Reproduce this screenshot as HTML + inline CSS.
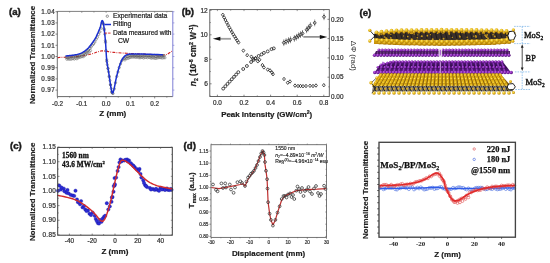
<!DOCTYPE html>
<html><head><meta charset="utf-8"><style>
html,body{margin:0;padding:0;background:#fff;}
body{width:550px;height:263px;overflow:hidden;}
svg{display:block;filter:blur(0.35px);}
</style></head><body>
<svg width="550" height="263" viewBox="0 0 550 263">
<rect width="550" height="263" fill="#fff"/>
<path d="M57.40,57.80 L57.78,57.72 L58.29,57.61 L59.01,57.50 L60.00,57.40 L61.28,57.35 L62.82,57.31 L64.57,57.27 L66.50,57.20 L68.66,57.09 L71.06,56.97 L73.55,56.81 L76.00,56.60 L78.42,56.34 L80.87,56.03 L83.26,55.68 L85.50,55.30 L87.53,54.88 L89.42,54.42 L91.24,53.92 L93.10,53.40 L95.07,52.77 L97.08,52.07 L99.00,51.43 L100.70,51.00 L102.03,50.85 L103.11,50.89 L104.16,51.03 L105.40,51.20 L106.84,51.40 L108.39,51.66 L110.09,51.95 L112.00,52.20 L113.93,52.41 L115.91,52.59 L118.36,52.78 L121.70,53.00 L126.33,53.26 L131.94,53.54 L137.85,53.83 L143.40,54.10 L148.80,54.37 L154.28,54.64 L159.19,54.87 L162.90,55.00 L164.93,55.02 L165.73,54.97 L166.01,54.83 L166.50,54.60 L167.30,54.25 L168.07,53.79 L168.80,53.28 L169.50,52.80 L170.22,52.31 L170.94,51.79 L171.56,51.32 L172.00,51.00" stroke="#d02020" stroke-width="1.1" fill="none" stroke-linejoin="round" stroke-dasharray="3,1.2,0.8,1.2"/>
<circle cx="66.10" cy="57.39" r="1.15" fill="none" stroke="#555" stroke-width="0.55"/>
<circle cx="66.80" cy="59.25" r="1.15" fill="none" stroke="#666" stroke-width="0.5"/>
<circle cx="67.35" cy="57.66" r="1.15" fill="none" stroke="#555" stroke-width="0.55"/>
<circle cx="68.05" cy="59.05" r="1.15" fill="none" stroke="#666" stroke-width="0.5"/>
<circle cx="68.60" cy="57.41" r="1.15" fill="none" stroke="#555" stroke-width="0.55"/>
<circle cx="69.30" cy="59.23" r="1.15" fill="none" stroke="#666" stroke-width="0.5"/>
<circle cx="69.85" cy="56.71" r="1.15" fill="none" stroke="#555" stroke-width="0.55"/>
<circle cx="70.55" cy="59.25" r="1.15" fill="none" stroke="#666" stroke-width="0.5"/>
<circle cx="71.10" cy="56.56" r="1.15" fill="none" stroke="#555" stroke-width="0.55"/>
<circle cx="71.80" cy="59.04" r="1.15" fill="none" stroke="#666" stroke-width="0.5"/>
<circle cx="72.35" cy="56.44" r="1.15" fill="none" stroke="#555" stroke-width="0.55"/>
<circle cx="73.05" cy="58.55" r="1.15" fill="none" stroke="#666" stroke-width="0.5"/>
<circle cx="73.60" cy="56.69" r="1.15" fill="none" stroke="#555" stroke-width="0.55"/>
<circle cx="74.30" cy="59.11" r="1.15" fill="none" stroke="#666" stroke-width="0.5"/>
<circle cx="74.85" cy="56.13" r="1.15" fill="none" stroke="#555" stroke-width="0.55"/>
<circle cx="75.55" cy="58.31" r="1.15" fill="none" stroke="#666" stroke-width="0.5"/>
<circle cx="76.10" cy="56.51" r="1.15" fill="none" stroke="#555" stroke-width="0.55"/>
<circle cx="76.80" cy="58.80" r="1.15" fill="none" stroke="#666" stroke-width="0.5"/>
<circle cx="77.35" cy="56.18" r="1.15" fill="none" stroke="#555" stroke-width="0.55"/>
<circle cx="78.05" cy="57.99" r="1.15" fill="none" stroke="#666" stroke-width="0.5"/>
<circle cx="78.60" cy="56.34" r="1.15" fill="none" stroke="#555" stroke-width="0.55"/>
<circle cx="79.30" cy="57.32" r="1.15" fill="none" stroke="#666" stroke-width="0.5"/>
<circle cx="79.85" cy="55.83" r="1.15" fill="none" stroke="#555" stroke-width="0.55"/>
<circle cx="80.55" cy="57.19" r="1.15" fill="none" stroke="#666" stroke-width="0.5"/>
<circle cx="81.10" cy="54.55" r="1.15" fill="none" stroke="#555" stroke-width="0.55"/>
<circle cx="81.80" cy="56.59" r="1.15" fill="none" stroke="#666" stroke-width="0.5"/>
<circle cx="82.35" cy="54.21" r="1.15" fill="none" stroke="#555" stroke-width="0.55"/>
<circle cx="83.05" cy="56.76" r="1.15" fill="none" stroke="#666" stroke-width="0.5"/>
<circle cx="83.60" cy="53.38" r="1.15" fill="none" stroke="#555" stroke-width="0.55"/>
<circle cx="84.30" cy="55.85" r="1.15" fill="none" stroke="#666" stroke-width="0.5"/>
<circle cx="84.85" cy="53.15" r="1.15" fill="none" stroke="#555" stroke-width="0.55"/>
<circle cx="85.55" cy="54.85" r="1.15" fill="none" stroke="#666" stroke-width="0.5"/>
<circle cx="86.10" cy="52.14" r="1.15" fill="none" stroke="#555" stroke-width="0.55"/>
<circle cx="86.80" cy="53.65" r="1.15" fill="none" stroke="#666" stroke-width="0.5"/>
<circle cx="87.35" cy="50.55" r="1.15" fill="none" stroke="#555" stroke-width="0.55"/>
<circle cx="88.05" cy="52.78" r="1.15" fill="none" stroke="#666" stroke-width="0.5"/>
<circle cx="88.60" cy="50.13" r="1.15" fill="none" stroke="#555" stroke-width="0.55"/>
<circle cx="89.30" cy="51.84" r="1.15" fill="none" stroke="#666" stroke-width="0.5"/>
<circle cx="89.85" cy="48.29" r="1.15" fill="none" stroke="#555" stroke-width="0.55"/>
<circle cx="90.55" cy="50.59" r="1.15" fill="none" stroke="#666" stroke-width="0.5"/>
<circle cx="91.10" cy="46.87" r="1.15" fill="none" stroke="#555" stroke-width="0.55"/>
<circle cx="92.35" cy="45.03" r="1.15" fill="none" stroke="#555" stroke-width="0.55"/>
<circle cx="93.60" cy="43.91" r="1.15" fill="none" stroke="#555" stroke-width="0.55"/>
<circle cx="94.85" cy="41.95" r="1.15" fill="none" stroke="#555" stroke-width="0.55"/>
<circle cx="96.10" cy="39.31" r="1.15" fill="none" stroke="#555" stroke-width="0.55"/>
<circle cx="97.35" cy="37.21" r="1.15" fill="none" stroke="#555" stroke-width="0.55"/>
<circle cx="98.60" cy="34.38" r="1.15" fill="none" stroke="#555" stroke-width="0.55"/>
<circle cx="99.85" cy="31.86" r="1.15" fill="none" stroke="#555" stroke-width="0.55"/>
<circle cx="101.10" cy="28.18" r="1.15" fill="none" stroke="#555" stroke-width="0.55"/>
<circle cx="102.35" cy="22.50" r="1.15" fill="none" stroke="#555" stroke-width="0.55"/>
<circle cx="103.00" cy="23.07" r="1.15" fill="none" stroke="#555" stroke-width="0.55"/>
<circle cx="104.25" cy="29.80" r="1.15" fill="none" stroke="#555" stroke-width="0.55"/>
<circle cx="105.50" cy="42.29" r="1.15" fill="none" stroke="#555" stroke-width="0.55"/>
<circle cx="106.75" cy="61.33" r="1.15" fill="none" stroke="#555" stroke-width="0.55"/>
<circle cx="108.00" cy="68.66" r="1.15" fill="none" stroke="#555" stroke-width="0.55"/>
<circle cx="109.25" cy="76.83" r="1.15" fill="none" stroke="#555" stroke-width="0.55"/>
<circle cx="110.50" cy="84.85" r="1.15" fill="none" stroke="#555" stroke-width="0.55"/>
<circle cx="111.75" cy="92.30" r="1.15" fill="none" stroke="#555" stroke-width="0.55"/>
<circle cx="113.00" cy="93.48" r="1.15" fill="none" stroke="#555" stroke-width="0.55"/>
<circle cx="114.25" cy="88.83" r="1.15" fill="none" stroke="#555" stroke-width="0.55"/>
<circle cx="115.50" cy="82.77" r="1.15" fill="none" stroke="#555" stroke-width="0.55"/>
<circle cx="116.75" cy="76.40" r="1.15" fill="none" stroke="#555" stroke-width="0.55"/>
<circle cx="118.00" cy="71.96" r="1.15" fill="none" stroke="#555" stroke-width="0.55"/>
<circle cx="119.25" cy="67.51" r="1.15" fill="none" stroke="#555" stroke-width="0.55"/>
<circle cx="120.50" cy="63.93" r="1.15" fill="none" stroke="#555" stroke-width="0.55"/>
<circle cx="121.75" cy="60.90" r="1.15" fill="none" stroke="#555" stroke-width="0.55"/>
<circle cx="123.00" cy="59.10" r="1.15" fill="none" stroke="#555" stroke-width="0.55"/>
<circle cx="124.25" cy="58.52" r="1.15" fill="none" stroke="#555" stroke-width="0.55"/>
<circle cx="124.95" cy="59.96" r="1.15" fill="none" stroke="#666" stroke-width="0.5"/>
<circle cx="125.50" cy="57.20" r="1.15" fill="none" stroke="#555" stroke-width="0.55"/>
<circle cx="126.20" cy="58.56" r="1.15" fill="none" stroke="#666" stroke-width="0.5"/>
<circle cx="126.75" cy="56.52" r="1.15" fill="none" stroke="#555" stroke-width="0.55"/>
<circle cx="127.45" cy="58.43" r="1.15" fill="none" stroke="#666" stroke-width="0.5"/>
<circle cx="128.00" cy="56.44" r="1.15" fill="none" stroke="#555" stroke-width="0.55"/>
<circle cx="128.70" cy="58.17" r="1.15" fill="none" stroke="#666" stroke-width="0.5"/>
<circle cx="129.25" cy="55.42" r="1.15" fill="none" stroke="#555" stroke-width="0.55"/>
<circle cx="129.95" cy="57.57" r="1.15" fill="none" stroke="#666" stroke-width="0.5"/>
<circle cx="130.50" cy="55.79" r="1.15" fill="none" stroke="#555" stroke-width="0.55"/>
<circle cx="131.20" cy="57.11" r="1.15" fill="none" stroke="#666" stroke-width="0.5"/>
<circle cx="131.75" cy="55.49" r="1.15" fill="none" stroke="#555" stroke-width="0.55"/>
<circle cx="132.45" cy="57.20" r="1.15" fill="none" stroke="#666" stroke-width="0.5"/>
<circle cx="133.00" cy="55.05" r="1.15" fill="none" stroke="#555" stroke-width="0.55"/>
<circle cx="133.70" cy="57.07" r="1.15" fill="none" stroke="#666" stroke-width="0.5"/>
<circle cx="134.25" cy="55.82" r="1.15" fill="none" stroke="#555" stroke-width="0.55"/>
<circle cx="134.95" cy="57.13" r="1.15" fill="none" stroke="#666" stroke-width="0.5"/>
<circle cx="135.50" cy="55.19" r="1.15" fill="none" stroke="#555" stroke-width="0.55"/>
<circle cx="136.20" cy="57.39" r="1.15" fill="none" stroke="#666" stroke-width="0.5"/>
<circle cx="136.75" cy="55.95" r="1.15" fill="none" stroke="#555" stroke-width="0.55"/>
<circle cx="137.45" cy="57.08" r="1.15" fill="none" stroke="#666" stroke-width="0.5"/>
<circle cx="138.00" cy="55.45" r="1.15" fill="none" stroke="#555" stroke-width="0.55"/>
<circle cx="138.70" cy="57.56" r="1.15" fill="none" stroke="#666" stroke-width="0.5"/>
<circle cx="139.25" cy="55.99" r="1.15" fill="none" stroke="#555" stroke-width="0.55"/>
<circle cx="139.95" cy="57.85" r="1.15" fill="none" stroke="#666" stroke-width="0.5"/>
<circle cx="140.50" cy="55.99" r="1.15" fill="none" stroke="#555" stroke-width="0.55"/>
<circle cx="141.20" cy="57.33" r="1.15" fill="none" stroke="#666" stroke-width="0.5"/>
<circle cx="141.75" cy="55.47" r="1.15" fill="none" stroke="#555" stroke-width="0.55"/>
<circle cx="142.45" cy="57.43" r="1.15" fill="none" stroke="#666" stroke-width="0.5"/>
<circle cx="143.00" cy="56.05" r="1.15" fill="none" stroke="#555" stroke-width="0.55"/>
<circle cx="143.70" cy="58.05" r="1.15" fill="none" stroke="#666" stroke-width="0.5"/>
<circle cx="144.25" cy="55.20" r="1.15" fill="none" stroke="#555" stroke-width="0.55"/>
<circle cx="144.95" cy="57.30" r="1.15" fill="none" stroke="#666" stroke-width="0.5"/>
<circle cx="145.50" cy="55.33" r="1.15" fill="none" stroke="#555" stroke-width="0.55"/>
<circle cx="146.20" cy="57.38" r="1.15" fill="none" stroke="#666" stroke-width="0.5"/>
<circle cx="146.75" cy="55.66" r="1.15" fill="none" stroke="#555" stroke-width="0.55"/>
<circle cx="147.45" cy="57.77" r="1.15" fill="none" stroke="#666" stroke-width="0.5"/>
<circle cx="148.00" cy="55.43" r="1.15" fill="none" stroke="#555" stroke-width="0.55"/>
<circle cx="148.70" cy="57.22" r="1.15" fill="none" stroke="#666" stroke-width="0.5"/>
<circle cx="149.25" cy="55.65" r="1.15" fill="none" stroke="#555" stroke-width="0.55"/>
<circle cx="149.95" cy="57.62" r="1.15" fill="none" stroke="#666" stroke-width="0.5"/>
<circle cx="150.50" cy="55.87" r="1.15" fill="none" stroke="#555" stroke-width="0.55"/>
<circle cx="151.20" cy="58.24" r="1.15" fill="none" stroke="#666" stroke-width="0.5"/>
<circle cx="151.75" cy="56.06" r="1.15" fill="none" stroke="#555" stroke-width="0.55"/>
<circle cx="152.45" cy="57.84" r="1.15" fill="none" stroke="#666" stroke-width="0.5"/>
<circle cx="153.00" cy="56.01" r="1.15" fill="none" stroke="#555" stroke-width="0.55"/>
<circle cx="153.70" cy="58.05" r="1.15" fill="none" stroke="#666" stroke-width="0.5"/>
<circle cx="154.25" cy="55.37" r="1.15" fill="none" stroke="#555" stroke-width="0.55"/>
<circle cx="154.95" cy="58.31" r="1.15" fill="none" stroke="#666" stroke-width="0.5"/>
<circle cx="155.50" cy="56.29" r="1.15" fill="none" stroke="#555" stroke-width="0.55"/>
<circle cx="156.20" cy="58.33" r="1.15" fill="none" stroke="#666" stroke-width="0.5"/>
<circle cx="156.75" cy="56.35" r="1.15" fill="none" stroke="#555" stroke-width="0.55"/>
<circle cx="157.45" cy="57.89" r="1.15" fill="none" stroke="#666" stroke-width="0.5"/>
<circle cx="158.00" cy="55.91" r="1.15" fill="none" stroke="#555" stroke-width="0.55"/>
<circle cx="158.70" cy="57.64" r="1.15" fill="none" stroke="#666" stroke-width="0.5"/>
<circle cx="159.25" cy="56.24" r="1.15" fill="none" stroke="#555" stroke-width="0.55"/>
<circle cx="159.95" cy="57.64" r="1.15" fill="none" stroke="#666" stroke-width="0.5"/>
<circle cx="160.50" cy="55.60" r="1.15" fill="none" stroke="#555" stroke-width="0.55"/>
<circle cx="161.20" cy="57.83" r="1.15" fill="none" stroke="#666" stroke-width="0.5"/>
<circle cx="161.75" cy="55.76" r="1.15" fill="none" stroke="#555" stroke-width="0.55"/>
<circle cx="162.45" cy="58.00" r="1.15" fill="none" stroke="#666" stroke-width="0.5"/>
<circle cx="163.00" cy="55.66" r="1.15" fill="none" stroke="#555" stroke-width="0.55"/>
<circle cx="163.70" cy="57.70" r="1.15" fill="none" stroke="#666" stroke-width="0.5"/>
<circle cx="164.25" cy="55.78" r="1.15" fill="none" stroke="#555" stroke-width="0.55"/>
<circle cx="164.95" cy="57.80" r="1.15" fill="none" stroke="#666" stroke-width="0.5"/>
<circle cx="103.50" cy="24.30" r="1.1" fill="none" stroke="#555" stroke-width="0.5"/>
<circle cx="104.14" cy="28.72" r="1.1" fill="none" stroke="#555" stroke-width="0.5"/>
<circle cx="104.77" cy="34.17" r="1.1" fill="none" stroke="#555" stroke-width="0.5"/>
<circle cx="105.41" cy="40.59" r="1.1" fill="none" stroke="#555" stroke-width="0.5"/>
<circle cx="106.04" cy="50.47" r="1.1" fill="none" stroke="#555" stroke-width="0.5"/>
<circle cx="106.68" cy="59.75" r="1.1" fill="none" stroke="#555" stroke-width="0.5"/>
<circle cx="107.31" cy="64.64" r="1.1" fill="none" stroke="#555" stroke-width="0.5"/>
<circle cx="107.95" cy="68.20" r="1.1" fill="none" stroke="#555" stroke-width="0.5"/>
<circle cx="108.59" cy="71.81" r="1.1" fill="none" stroke="#555" stroke-width="0.5"/>
<circle cx="109.22" cy="76.04" r="1.1" fill="none" stroke="#555" stroke-width="0.5"/>
<circle cx="109.86" cy="80.49" r="1.1" fill="none" stroke="#555" stroke-width="0.5"/>
<circle cx="110.49" cy="84.76" r="1.1" fill="none" stroke="#555" stroke-width="0.5"/>
<circle cx="111.13" cy="88.43" r="1.1" fill="none" stroke="#555" stroke-width="0.5"/>
<circle cx="111.76" cy="91.56" r="1.1" fill="none" stroke="#555" stroke-width="0.5"/>
<circle cx="112.40" cy="93.10" r="1.1" fill="none" stroke="#555" stroke-width="0.5"/>
<path d="M65.50,56.00 L66.24,55.93 L67.27,55.83 L68.49,55.72 L69.79,55.59 L71.06,55.45 L72.20,55.30 L73.22,55.15 L74.21,54.99 L75.18,54.82 L76.11,54.63 L77.02,54.43 L77.90,54.20 L78.74,53.96 L79.54,53.71 L80.31,53.45 L81.06,53.15 L81.82,52.81 L82.60,52.40 L83.41,51.93 L84.23,51.40 L85.06,50.82 L85.87,50.20 L86.66,49.56 L87.40,48.90 L88.09,48.22 L88.74,47.51 L89.36,46.77 L89.97,46.01 L90.58,45.22 L91.20,44.40 L91.84,43.54 L92.50,42.65 L93.16,41.72 L93.81,40.79 L94.42,39.84 L95.00,38.90 L95.53,37.97 L96.02,37.03 L96.48,36.09 L96.93,35.14 L97.36,34.18 L97.80,33.20 L98.24,32.20 L98.69,31.17 L99.12,30.14 L99.54,29.09 L99.93,28.04 L100.30,27.00 L100.63,25.84 L100.93,24.54 L101.21,23.24 L101.48,22.07 L101.74,21.18 L102.00,20.70 L102.26,20.58 L102.50,20.70 L102.74,21.09 L102.98,21.80 L103.23,22.86 L103.50,24.30 L103.80,26.23 L104.13,28.64 L104.46,31.41 L104.80,34.39 L105.11,37.46 L105.40,40.50 L105.64,43.64 L105.85,47.01 L106.04,50.48 L106.24,53.90 L106.45,57.12 L106.70,60.00 L106.99,62.47 L107.31,64.63 L107.65,66.59 L108.00,68.47 L108.35,70.41 L108.70,72.50 L109.05,74.85 L109.41,77.36 L109.77,79.92 L110.13,82.40 L110.48,84.67 L110.80,86.60 L111.09,88.25 L111.37,89.73 L111.62,91.00 L111.88,92.01 L112.13,92.73 L112.40,93.10 L112.67,93.08 L112.94,92.71 L113.21,92.04 L113.49,91.12 L113.79,90.02 L114.10,88.80 L114.43,87.38 L114.76,85.69 L115.11,83.82 L115.47,81.85 L115.87,79.85 L116.30,77.90 L116.77,75.92 L117.29,73.85 L117.83,71.74 L118.39,69.69 L118.95,67.75 L119.50,66.00 L120.05,64.43 L120.60,62.99 L121.15,61.66 L121.70,60.45 L122.25,59.36 L122.80,58.40 L123.33,57.59 L123.83,56.93 L124.34,56.39 L124.86,55.95 L125.40,55.56 L126.00,55.20 L126.55,54.88 L127.03,54.64 L127.53,54.45 L128.17,54.31 L129.06,54.20 L130.30,54.10 L131.90,54.03 L133.78,54.00 L135.90,53.99 L138.23,54.01 L140.74,54.05 L143.40,54.10 L146.51,54.17 L150.15,54.28 L153.97,54.40 L157.61,54.52 L160.70,54.63 L162.90,54.70" stroke="#1a2fd0" stroke-width="1.5" fill="none" stroke-linejoin="round" />
<line x1="57.30" y1="11.40" x2="172.80" y2="11.40" stroke="#707070" stroke-width="0.9" />
<line x1="57.30" y1="11.40" x2="57.30" y2="96.60" stroke="#606060" stroke-width="0.9" />
<line x1="57.30" y1="96.60" x2="172.80" y2="96.60" stroke="#606060" stroke-width="0.95" />
<line x1="172.80" y1="11.40" x2="172.80" y2="96.60" stroke="#7070d0" stroke-width="0.9" />
<line x1="55.50" y1="11.70" x2="57.30" y2="11.70" stroke="#555" stroke-width="0.7" />
<line x1="172.80" y1="11.70" x2="174.40" y2="11.70" stroke="#7070d0" stroke-width="0.6" />
<text x="55.00" y="13.90" style="font-family:'Liberation Sans',sans-serif;font-size:6.3px;font-weight:normal" text-anchor="end" fill="#333" stroke="#333" stroke-width="0.22" letter-spacing="0.35">1.04</text>
<line x1="55.50" y1="22.90" x2="57.30" y2="22.90" stroke="#555" stroke-width="0.7" />
<line x1="172.80" y1="22.90" x2="174.40" y2="22.90" stroke="#7070d0" stroke-width="0.6" />
<text x="55.00" y="25.10" style="font-family:'Liberation Sans',sans-serif;font-size:6.3px;font-weight:normal" text-anchor="end" fill="#333" stroke="#333" stroke-width="0.22" letter-spacing="0.35">1.03</text>
<line x1="55.50" y1="34.10" x2="57.30" y2="34.10" stroke="#555" stroke-width="0.7" />
<line x1="172.80" y1="34.10" x2="174.40" y2="34.10" stroke="#7070d0" stroke-width="0.6" />
<text x="55.00" y="36.30" style="font-family:'Liberation Sans',sans-serif;font-size:6.3px;font-weight:normal" text-anchor="end" fill="#333" stroke="#333" stroke-width="0.22" letter-spacing="0.35">1.02</text>
<line x1="55.50" y1="45.30" x2="57.30" y2="45.30" stroke="#555" stroke-width="0.7" />
<line x1="172.80" y1="45.30" x2="174.40" y2="45.30" stroke="#7070d0" stroke-width="0.6" />
<text x="55.00" y="47.50" style="font-family:'Liberation Sans',sans-serif;font-size:6.3px;font-weight:normal" text-anchor="end" fill="#333" stroke="#333" stroke-width="0.22" letter-spacing="0.35">1.01</text>
<line x1="55.50" y1="56.50" x2="57.30" y2="56.50" stroke="#555" stroke-width="0.7" />
<line x1="172.80" y1="56.50" x2="174.40" y2="56.50" stroke="#7070d0" stroke-width="0.6" />
<text x="55.00" y="58.70" style="font-family:'Liberation Sans',sans-serif;font-size:6.3px;font-weight:normal" text-anchor="end" fill="#333" stroke="#333" stroke-width="0.22" letter-spacing="0.35">1.00</text>
<line x1="55.50" y1="67.70" x2="57.30" y2="67.70" stroke="#555" stroke-width="0.7" />
<line x1="172.80" y1="67.70" x2="174.40" y2="67.70" stroke="#7070d0" stroke-width="0.6" />
<text x="55.00" y="69.90" style="font-family:'Liberation Sans',sans-serif;font-size:6.3px;font-weight:normal" text-anchor="end" fill="#333" stroke="#333" stroke-width="0.22" letter-spacing="0.35">0.99</text>
<line x1="55.50" y1="78.90" x2="57.30" y2="78.90" stroke="#555" stroke-width="0.7" />
<line x1="172.80" y1="78.90" x2="174.40" y2="78.90" stroke="#7070d0" stroke-width="0.6" />
<text x="55.00" y="81.10" style="font-family:'Liberation Sans',sans-serif;font-size:6.3px;font-weight:normal" text-anchor="end" fill="#333" stroke="#333" stroke-width="0.22" letter-spacing="0.35">0.98</text>
<line x1="55.50" y1="90.10" x2="57.30" y2="90.10" stroke="#555" stroke-width="0.7" />
<line x1="172.80" y1="90.10" x2="174.40" y2="90.10" stroke="#7070d0" stroke-width="0.6" />
<text x="55.00" y="92.30" style="font-family:'Liberation Sans',sans-serif;font-size:6.3px;font-weight:normal" text-anchor="end" fill="#333" stroke="#333" stroke-width="0.22" letter-spacing="0.35">0.97</text>
<line x1="57.50" y1="96.60" x2="57.50" y2="98.40" stroke="#555" stroke-width="0.7" />
<line x1="57.50" y1="11.40" x2="57.50" y2="12.90" stroke="#666" stroke-width="0.6" />
<text x="57.50" y="105.60" style="font-family:'Liberation Sans',sans-serif;font-size:6.3px;font-weight:normal" text-anchor="middle" fill="#333" stroke="#333" stroke-width="0.22" >-0.2</text>
<line x1="81.80" y1="96.60" x2="81.80" y2="98.40" stroke="#555" stroke-width="0.7" />
<line x1="81.80" y1="11.40" x2="81.80" y2="12.90" stroke="#666" stroke-width="0.6" />
<text x="81.80" y="105.60" style="font-family:'Liberation Sans',sans-serif;font-size:6.3px;font-weight:normal" text-anchor="middle" fill="#333" stroke="#333" stroke-width="0.22" >-0.1</text>
<line x1="106.10" y1="96.60" x2="106.10" y2="98.40" stroke="#555" stroke-width="0.7" />
<line x1="106.10" y1="11.40" x2="106.10" y2="12.90" stroke="#666" stroke-width="0.6" />
<text x="106.10" y="105.60" style="font-family:'Liberation Sans',sans-serif;font-size:6.3px;font-weight:normal" text-anchor="middle" fill="#333" stroke="#333" stroke-width="0.22" >0.0</text>
<line x1="130.40" y1="96.60" x2="130.40" y2="98.40" stroke="#555" stroke-width="0.7" />
<line x1="130.40" y1="11.40" x2="130.40" y2="12.90" stroke="#666" stroke-width="0.6" />
<text x="130.40" y="105.60" style="font-family:'Liberation Sans',sans-serif;font-size:6.3px;font-weight:normal" text-anchor="middle" fill="#333" stroke="#333" stroke-width="0.22" >0.1</text>
<line x1="154.70" y1="96.60" x2="154.70" y2="98.40" stroke="#555" stroke-width="0.7" />
<line x1="154.70" y1="11.40" x2="154.70" y2="12.90" stroke="#666" stroke-width="0.6" />
<text x="154.70" y="105.60" style="font-family:'Liberation Sans',sans-serif;font-size:6.3px;font-weight:normal" text-anchor="middle" fill="#333" stroke="#333" stroke-width="0.22" >0.2</text>
<line x1="69.65" y1="96.60" x2="69.65" y2="97.70" stroke="#555" stroke-width="0.6" />
<line x1="69.65" y1="11.40" x2="69.65" y2="12.60" stroke="#666" stroke-width="0.6" />
<line x1="93.95" y1="96.60" x2="93.95" y2="97.70" stroke="#555" stroke-width="0.6" />
<line x1="93.95" y1="11.40" x2="93.95" y2="12.60" stroke="#666" stroke-width="0.6" />
<line x1="118.25" y1="96.60" x2="118.25" y2="97.70" stroke="#555" stroke-width="0.6" />
<line x1="118.25" y1="11.40" x2="118.25" y2="12.60" stroke="#666" stroke-width="0.6" />
<line x1="142.55" y1="96.60" x2="142.55" y2="97.70" stroke="#555" stroke-width="0.6" />
<line x1="142.55" y1="11.40" x2="142.55" y2="12.60" stroke="#666" stroke-width="0.6" />
<line x1="166.85" y1="96.60" x2="166.85" y2="97.70" stroke="#555" stroke-width="0.6" />
<line x1="166.85" y1="11.40" x2="166.85" y2="12.60" stroke="#666" stroke-width="0.6" />
<text x="112.80" y="115.80" style="font-family:'Liberation Sans',sans-serif;font-size:8.1px;font-weight:bold" text-anchor="middle" fill="#1a1a1a" stroke="#1a1a1a" stroke-width="0.2" >Z (mm)</text>
<text x="0" y="0" transform="translate(35.20,55.00) rotate(-90)" style="font-family:'Liberation Sans',sans-serif;font-size:7.9px;font-weight:bold" text-anchor="middle" fill="#222" stroke="#222" stroke-width="0.15">Normalized Transmittance</text>
<text x="9.00" y="14.90" style="font-family:'Liberation Sans',sans-serif;font-size:9.6px;font-weight:bold" text-anchor="start" fill="#1a1a1a" stroke="#1a1a1a" stroke-width="0.45" >(a)</text>
<circle cx="107.30" cy="16.20" r="1.2" fill="none" stroke="#555" stroke-width="0.6"/>
<text x="112.90" y="17.60" style="font-family:'Liberation Sans',sans-serif;font-size:6.75px;font-weight:normal" text-anchor="start" fill="#1a1a1a" stroke="#1a1a1a" stroke-width="0.2" >Experimental data</text>
<line x1="104.50" y1="24.50" x2="111.00" y2="24.50" stroke="#1a2fd0" stroke-width="1.5" />
<text x="112.90" y="26.20" style="font-family:'Liberation Sans',sans-serif;font-size:6.75px;font-weight:normal" text-anchor="start" fill="#1a1a1a" stroke="#1a1a1a" stroke-width="0.2" >Fitting</text>
<line x1="104.60" y1="33.10" x2="110.60" y2="33.10" stroke="#d02020" stroke-width="0.9" stroke-dasharray="2.5,1"/>
<text x="112.90" y="34.70" style="font-family:'Liberation Sans',sans-serif;font-size:6.6px;font-weight:normal" text-anchor="start" fill="#1a1a1a" stroke="#1a1a1a" stroke-width="0.2" >Data measured with</text>
<text x="118.00" y="42.60" style="font-family:'Liberation Sans',sans-serif;font-size:6.75px;font-weight:normal" text-anchor="start" fill="#1a1a1a" stroke="#1a1a1a" stroke-width="0.2" >CW</text>
<path d="M222.80,13.05 L224.20,14.80 L222.80,16.55 L221.40,14.80 Z" fill="none" stroke="#222" stroke-width="0.8"/>
<path d="M224.11,15.67 L225.51,17.42 L224.11,19.17 L222.71,17.42 Z" fill="none" stroke="#222" stroke-width="0.8"/>
<path d="M225.42,18.27 L226.82,20.02 L225.42,21.77 L224.02,20.02 Z" fill="none" stroke="#222" stroke-width="0.8"/>
<path d="M226.73,20.82 L228.13,22.57 L226.73,24.32 L225.33,22.57 Z" fill="none" stroke="#222" stroke-width="0.8"/>
<path d="M228.03,23.32 L229.43,25.07 L228.03,26.82 L226.63,25.07 Z" fill="none" stroke="#222" stroke-width="0.8"/>
<path d="M229.34,25.75 L230.74,27.50 L229.34,29.25 L227.94,27.50 Z" fill="none" stroke="#222" stroke-width="0.8"/>
<path d="M230.65,28.10 L232.05,29.85 L230.65,31.60 L229.25,29.85 Z" fill="none" stroke="#222" stroke-width="0.8"/>
<path d="M231.96,30.37 L233.36,32.12 L231.96,33.87 L230.56,32.12 Z" fill="none" stroke="#222" stroke-width="0.8"/>
<path d="M233.27,32.56 L234.67,34.31 L233.27,36.06 L231.87,34.31 Z" fill="none" stroke="#222" stroke-width="0.8"/>
<path d="M234.57,34.67 L235.97,36.42 L234.57,38.17 L233.17,36.42 Z" fill="none" stroke="#222" stroke-width="0.8"/>
<path d="M235.88,36.73 L237.28,38.48 L235.88,40.23 L234.48,38.48 Z" fill="none" stroke="#222" stroke-width="0.8"/>
<path d="M237.19,38.75 L238.59,40.50 L237.19,42.25 L235.79,40.50 Z" fill="none" stroke="#222" stroke-width="0.8"/>
<path d="M238.50,40.75 L239.90,42.50 L238.50,44.25 L237.10,42.50 Z" fill="none" stroke="#222" stroke-width="0.8"/>
<path d="M243.40,48.85 L244.80,50.60 L243.40,52.35 L242.00,50.60 Z" fill="none" stroke="#222" stroke-width="0.8"/>
<path d="M247.20,53.45 L248.60,55.20 L247.20,56.95 L245.80,55.20 Z" fill="none" stroke="#222" stroke-width="0.8"/>
<path d="M251.40,54.95 L252.80,56.70 L251.40,58.45 L250.00,56.70 Z" fill="none" stroke="#222" stroke-width="0.8"/>
<path d="M253.00,57.05 L254.40,58.80 L253.00,60.55 L251.60,58.80 Z" fill="none" stroke="#222" stroke-width="0.8"/>
<path d="M255.50,56.45 L256.90,58.20 L255.50,59.95 L254.10,58.20 Z" fill="none" stroke="#222" stroke-width="0.8"/>
<path d="M257.80,59.55 L259.20,61.30 L257.80,63.05 L256.40,61.30 Z" fill="none" stroke="#222" stroke-width="0.8"/>
<path d="M259.50,58.05 L260.90,59.80 L259.50,61.55 L258.10,59.80 Z" fill="none" stroke="#222" stroke-width="0.8"/>
<path d="M262.40,63.35 L263.80,65.10 L262.40,66.85 L261.00,65.10 Z" fill="none" stroke="#222" stroke-width="0.8"/>
<path d="M263.90,65.65 L265.30,67.40 L263.90,69.15 L262.50,67.40 Z" fill="none" stroke="#222" stroke-width="0.8"/>
<path d="M267.70,67.85 L269.10,69.60 L267.70,71.35 L266.30,69.60 Z" fill="none" stroke="#222" stroke-width="0.8"/>
<path d="M270.00,68.65 L271.40,70.40 L270.00,72.15 L268.60,70.40 Z" fill="none" stroke="#222" stroke-width="0.8"/>
<path d="M272.00,70.75 L273.40,72.50 L272.00,74.25 L270.60,72.50 Z" fill="none" stroke="#222" stroke-width="0.8"/>
<path d="M273.00,72.45 L274.40,74.20 L273.00,75.95 L271.60,74.20 Z" fill="none" stroke="#222" stroke-width="0.8"/>
<path d="M284.00,77.25 L285.40,79.00 L284.00,80.75 L282.60,79.00 Z" fill="none" stroke="#222" stroke-width="0.8"/>
<path d="M287.70,80.95 L289.10,82.70 L287.70,84.45 L286.30,82.70 Z" fill="none" stroke="#222" stroke-width="0.8"/>
<path d="M290.00,79.75 L291.40,81.50 L290.00,83.25 L288.60,81.50 Z" fill="none" stroke="#222" stroke-width="0.8"/>
<path d="M295.00,83.85 L296.40,85.60 L295.00,87.35 L293.60,85.60 Z" fill="none" stroke="#222" stroke-width="0.8"/>
<path d="M298.00,84.25 L299.40,86.00 L298.00,87.75 L296.60,86.00 Z" fill="none" stroke="#222" stroke-width="0.8"/>
<path d="M300.50,84.25 L301.90,86.00 L300.50,87.75 L299.10,86.00 Z" fill="none" stroke="#222" stroke-width="0.8"/>
<path d="M303.00,84.45 L304.40,86.20 L303.00,87.95 L301.60,86.20 Z" fill="none" stroke="#222" stroke-width="0.8"/>
<path d="M306.00,84.25 L307.40,86.00 L306.00,87.75 L304.60,86.00 Z" fill="none" stroke="#222" stroke-width="0.8"/>
<path d="M310.00,84.05 L311.40,85.80 L310.00,87.55 L308.60,85.80 Z" fill="none" stroke="#222" stroke-width="0.8"/>
<path d="M313.00,84.25 L314.40,86.00 L313.00,87.75 L311.60,86.00 Z" fill="none" stroke="#222" stroke-width="0.8"/>
<path d="M316.00,83.75 L317.40,85.50 L316.00,87.25 L314.60,85.50 Z" fill="none" stroke="#222" stroke-width="0.8"/>
<path d="M323.80,83.45 L325.20,85.20 L323.80,86.95 L322.40,85.20 Z" fill="none" stroke="#222" stroke-width="0.8"/>
<circle cx="223.20" cy="88.60" r="1.45" fill="none" stroke="#222" stroke-width="0.8"/>
<circle cx="225.36" cy="86.26" r="1.45" fill="none" stroke="#222" stroke-width="0.8"/>
<circle cx="227.51" cy="83.91" r="1.45" fill="none" stroke="#222" stroke-width="0.8"/>
<circle cx="229.67" cy="81.57" r="1.45" fill="none" stroke="#222" stroke-width="0.8"/>
<circle cx="231.83" cy="79.23" r="1.45" fill="none" stroke="#222" stroke-width="0.8"/>
<circle cx="233.99" cy="76.89" r="1.45" fill="none" stroke="#222" stroke-width="0.8"/>
<circle cx="236.14" cy="74.54" r="1.45" fill="none" stroke="#222" stroke-width="0.8"/>
<circle cx="238.30" cy="72.20" r="1.45" fill="none" stroke="#222" stroke-width="0.8"/>
<circle cx="243.20" cy="69.00" r="1.45" fill="none" stroke="#222" stroke-width="0.8"/>
<circle cx="246.90" cy="66.00" r="1.45" fill="none" stroke="#222" stroke-width="0.8"/>
<circle cx="251.10" cy="62.00" r="1.45" fill="none" stroke="#222" stroke-width="0.8"/>
<circle cx="253.50" cy="60.00" r="1.45" fill="none" stroke="#222" stroke-width="0.8"/>
<circle cx="255.60" cy="58.50" r="1.45" fill="none" stroke="#222" stroke-width="0.8"/>
<circle cx="258.60" cy="56.00" r="1.45" fill="none" stroke="#222" stroke-width="0.8"/>
<circle cx="261.60" cy="54.40" r="1.45" fill="none" stroke="#222" stroke-width="0.8"/>
<circle cx="263.90" cy="52.90" r="1.45" fill="none" stroke="#222" stroke-width="0.8"/>
<circle cx="267.70" cy="51.40" r="1.45" fill="none" stroke="#222" stroke-width="0.8"/>
<circle cx="271.50" cy="49.10" r="1.45" fill="none" stroke="#222" stroke-width="0.8"/>
<circle cx="273.80" cy="48.40" r="1.45" fill="none" stroke="#222" stroke-width="0.8"/>
<path d="M283.80,40.85 L285.28,42.70 L283.80,44.55 L282.32,42.70 Z" fill="none" stroke="#222" stroke-width="0.8"/>
<path d="M286.10,39.75 L287.58,41.60 L286.10,43.45 L284.62,41.60 Z" fill="none" stroke="#222" stroke-width="0.8"/>
<path d="M288.50,38.75 L289.98,40.60 L288.50,42.45 L287.02,40.60 Z" fill="none" stroke="#222" stroke-width="0.8"/>
<path d="M290.50,37.95 L291.98,39.80 L290.50,41.65 L289.02,39.80 Z" fill="none" stroke="#222" stroke-width="0.8"/>
<path d="M294.40,36.55 L295.88,38.40 L294.40,40.25 L292.92,38.40 Z" fill="none" stroke="#222" stroke-width="0.8"/>
<path d="M296.50,35.35 L297.98,37.20 L296.50,39.05 L295.02,37.20 Z" fill="none" stroke="#222" stroke-width="0.8"/>
<path d="M298.50,33.95 L299.98,35.80 L298.50,37.65 L297.02,35.80 Z" fill="none" stroke="#222" stroke-width="0.8"/>
<path d="M300.50,32.75 L301.98,34.60 L300.50,36.45 L299.02,34.60 Z" fill="none" stroke="#222" stroke-width="0.8"/>
<path d="M302.50,31.55 L303.98,33.40 L302.50,35.25 L301.02,33.40 Z" fill="none" stroke="#222" stroke-width="0.8"/>
<path d="M306.60,27.95 L308.08,29.80 L306.60,31.65 L305.12,29.80 Z" fill="none" stroke="#222" stroke-width="0.8"/>
<path d="M308.40,26.15 L309.88,28.00 L308.40,29.85 L306.92,28.00 Z" fill="none" stroke="#222" stroke-width="0.8"/>
<path d="M310.40,23.75 L311.88,25.60 L310.40,27.45 L308.92,25.60 Z" fill="none" stroke="#222" stroke-width="0.8"/>
<path d="M314.70,21.05 L316.18,22.90 L314.70,24.75 L313.22,22.90 Z" fill="none" stroke="#222" stroke-width="0.8"/>
<path d="M324.00,14.95 L325.48,16.80 L324.00,18.65 L322.52,16.80 Z" fill="none" stroke="#222" stroke-width="0.8"/>
<line x1="283.80" y1="39.30" x2="283.80" y2="46.10" stroke="#444" stroke-width="0.55" />
<line x1="286.10" y1="38.20" x2="286.10" y2="45.00" stroke="#444" stroke-width="0.55" />
<line x1="288.50" y1="37.20" x2="288.50" y2="44.00" stroke="#444" stroke-width="0.55" />
<line x1="290.50" y1="36.40" x2="290.50" y2="43.20" stroke="#444" stroke-width="0.55" />
<line x1="294.40" y1="35.00" x2="294.40" y2="41.80" stroke="#444" stroke-width="0.55" />
<line x1="296.50" y1="33.80" x2="296.50" y2="40.60" stroke="#444" stroke-width="0.55" />
<line x1="298.50" y1="32.40" x2="298.50" y2="39.20" stroke="#444" stroke-width="0.55" />
<line x1="300.50" y1="31.20" x2="300.50" y2="38.00" stroke="#444" stroke-width="0.55" />
<line x1="302.50" y1="30.00" x2="302.50" y2="36.80" stroke="#444" stroke-width="0.55" />
<line x1="306.60" y1="26.40" x2="306.60" y2="33.20" stroke="#444" stroke-width="0.55" />
<line x1="308.40" y1="24.60" x2="308.40" y2="31.40" stroke="#444" stroke-width="0.55" />
<line x1="310.40" y1="22.20" x2="310.40" y2="29.00" stroke="#444" stroke-width="0.55" />
<line x1="314.70" y1="19.50" x2="314.70" y2="26.30" stroke="#444" stroke-width="0.55" />
<line x1="324.00" y1="13.40" x2="324.00" y2="20.20" stroke="#444" stroke-width="0.55" />
<line x1="219.50" y1="38.80" x2="231.00" y2="38.80" stroke="#a0a0a0" stroke-width="1.8" />
<path d="M212.8,38.8 L220.4,36.8 L220.4,40.8 Z" fill="#111"/>
<line x1="303.30" y1="36.90" x2="320.50" y2="36.90" stroke="#777" stroke-width="1.4" />
<path d="M327.3,36.9 L319.8,34.9 L319.8,38.9 Z" fill="#111"/>
<rect x="209.80" y="9.60" width="119.50" height="86.90" fill="none" stroke="#555" stroke-width="0.9"/>
<line x1="209.80" y1="10.30" x2="211.60" y2="10.30" stroke="#555" stroke-width="0.7" />
<text x="207.80" y="12.60" style="font-family:'Liberation Sans',sans-serif;font-size:6.6px;font-weight:normal" text-anchor="end" fill="#333" stroke="#333" stroke-width="0.22" >12</text>
<line x1="209.80" y1="34.80" x2="211.60" y2="34.80" stroke="#555" stroke-width="0.7" />
<text x="207.80" y="37.10" style="font-family:'Liberation Sans',sans-serif;font-size:6.6px;font-weight:normal" text-anchor="end" fill="#333" stroke="#333" stroke-width="0.22" >10</text>
<line x1="209.80" y1="59.30" x2="211.60" y2="59.30" stroke="#555" stroke-width="0.7" />
<text x="207.80" y="61.60" style="font-family:'Liberation Sans',sans-serif;font-size:6.6px;font-weight:normal" text-anchor="end" fill="#333" stroke="#333" stroke-width="0.22" >8</text>
<line x1="209.80" y1="83.80" x2="211.60" y2="83.80" stroke="#555" stroke-width="0.7" />
<text x="207.80" y="86.10" style="font-family:'Liberation Sans',sans-serif;font-size:6.6px;font-weight:normal" text-anchor="end" fill="#333" stroke="#333" stroke-width="0.22" >6</text>
<line x1="209.80" y1="22.55" x2="210.90" y2="22.55" stroke="#555" stroke-width="0.6" />
<line x1="209.80" y1="47.05" x2="210.90" y2="47.05" stroke="#555" stroke-width="0.6" />
<line x1="209.80" y1="71.55" x2="210.90" y2="71.55" stroke="#555" stroke-width="0.6" />
<line x1="209.80" y1="96.05" x2="210.90" y2="96.05" stroke="#555" stroke-width="0.6" />
<line x1="327.50" y1="96.50" x2="329.30" y2="96.50" stroke="#555" stroke-width="0.7" />
<text x="331.00" y="98.70" style="font-family:'Liberation Sans',sans-serif;font-size:6.4px;font-weight:normal" text-anchor="start" fill="#333" stroke="#333" stroke-width="0.22" >0.00</text>
<line x1="327.50" y1="77.20" x2="329.30" y2="77.20" stroke="#555" stroke-width="0.7" />
<text x="331.00" y="79.40" style="font-family:'Liberation Sans',sans-serif;font-size:6.4px;font-weight:normal" text-anchor="start" fill="#333" stroke="#333" stroke-width="0.22" >0.05</text>
<line x1="327.50" y1="57.90" x2="329.30" y2="57.90" stroke="#555" stroke-width="0.7" />
<text x="331.00" y="60.10" style="font-family:'Liberation Sans',sans-serif;font-size:6.4px;font-weight:normal" text-anchor="start" fill="#333" stroke="#333" stroke-width="0.22" >0.10</text>
<line x1="327.50" y1="38.60" x2="329.30" y2="38.60" stroke="#555" stroke-width="0.7" />
<text x="331.00" y="40.80" style="font-family:'Liberation Sans',sans-serif;font-size:6.4px;font-weight:normal" text-anchor="start" fill="#333" stroke="#333" stroke-width="0.22" >0.15</text>
<line x1="327.50" y1="19.30" x2="329.30" y2="19.30" stroke="#555" stroke-width="0.7" />
<text x="331.00" y="21.50" style="font-family:'Liberation Sans',sans-serif;font-size:6.4px;font-weight:normal" text-anchor="start" fill="#333" stroke="#333" stroke-width="0.22" >0.20</text>
<line x1="328.20" y1="86.85" x2="329.30" y2="86.85" stroke="#555" stroke-width="0.6" />
<line x1="328.20" y1="67.55" x2="329.30" y2="67.55" stroke="#555" stroke-width="0.6" />
<line x1="328.20" y1="48.25" x2="329.30" y2="48.25" stroke="#555" stroke-width="0.6" />
<line x1="328.20" y1="28.95" x2="329.30" y2="28.95" stroke="#555" stroke-width="0.6" />
<line x1="217.40" y1="94.70" x2="217.40" y2="96.50" stroke="#555" stroke-width="0.7" />
<line x1="217.40" y1="9.60" x2="217.40" y2="11.10" stroke="#555" stroke-width="0.6" />
<text x="217.40" y="105.40" style="font-family:'Liberation Sans',sans-serif;font-size:6.4px;font-weight:normal" text-anchor="middle" fill="#333" stroke="#333" stroke-width="0.22" >0.0</text>
<line x1="244.00" y1="94.70" x2="244.00" y2="96.50" stroke="#555" stroke-width="0.7" />
<line x1="244.00" y1="9.60" x2="244.00" y2="11.10" stroke="#555" stroke-width="0.6" />
<text x="244.00" y="105.40" style="font-family:'Liberation Sans',sans-serif;font-size:6.4px;font-weight:normal" text-anchor="middle" fill="#333" stroke="#333" stroke-width="0.22" >0.2</text>
<line x1="270.60" y1="94.70" x2="270.60" y2="96.50" stroke="#555" stroke-width="0.7" />
<line x1="270.60" y1="9.60" x2="270.60" y2="11.10" stroke="#555" stroke-width="0.6" />
<text x="270.60" y="105.40" style="font-family:'Liberation Sans',sans-serif;font-size:6.4px;font-weight:normal" text-anchor="middle" fill="#333" stroke="#333" stroke-width="0.22" >0.4</text>
<line x1="297.20" y1="94.70" x2="297.20" y2="96.50" stroke="#555" stroke-width="0.7" />
<line x1="297.20" y1="9.60" x2="297.20" y2="11.10" stroke="#555" stroke-width="0.6" />
<text x="297.20" y="105.40" style="font-family:'Liberation Sans',sans-serif;font-size:6.4px;font-weight:normal" text-anchor="middle" fill="#333" stroke="#333" stroke-width="0.22" >0.6</text>
<line x1="323.80" y1="94.70" x2="323.80" y2="96.50" stroke="#555" stroke-width="0.7" />
<line x1="323.80" y1="9.60" x2="323.80" y2="11.10" stroke="#555" stroke-width="0.6" />
<text x="323.80" y="105.40" style="font-family:'Liberation Sans',sans-serif;font-size:6.4px;font-weight:normal" text-anchor="middle" fill="#333" stroke="#333" stroke-width="0.22" >0.8</text>
<line x1="230.70" y1="95.40" x2="230.70" y2="96.50" stroke="#555" stroke-width="0.6" />
<line x1="230.70" y1="9.60" x2="230.70" y2="10.70" stroke="#555" stroke-width="0.6" />
<line x1="257.30" y1="95.40" x2="257.30" y2="96.50" stroke="#555" stroke-width="0.6" />
<line x1="257.30" y1="9.60" x2="257.30" y2="10.70" stroke="#555" stroke-width="0.6" />
<line x1="283.90" y1="95.40" x2="283.90" y2="96.50" stroke="#555" stroke-width="0.6" />
<line x1="283.90" y1="9.60" x2="283.90" y2="10.70" stroke="#555" stroke-width="0.6" />
<line x1="310.50" y1="95.40" x2="310.50" y2="96.50" stroke="#555" stroke-width="0.6" />
<line x1="310.50" y1="9.60" x2="310.50" y2="10.70" stroke="#555" stroke-width="0.6" />
<text x="266.70" y="116.90" style="font-family:'Liberation Sans',sans-serif;font-size:7.95px;font-weight:bold" text-anchor="middle" fill="#1a1a1a" stroke="#1a1a1a" stroke-width="0.2" >Peak Intensity (GW/cm<tspan dy="-2.6" font-size="5.2">2</tspan><tspan dy="2.6">)</tspan></text>
<text transform="translate(196.0,55.3) rotate(-90)" style="font-family:'Liberation Sans',sans-serif;font-size:8.3px;font-weight:bold" text-anchor="middle" fill="#1a1a1a" stroke="#1a1a1a" stroke-width="0.22"><tspan font-style="italic">n</tspan><tspan dy="1.6" font-size="5.2">2</tspan><tspan dy="-1.6"> (10</tspan><tspan dy="-2.8" font-size="5.2">-8</tspan><tspan dy="2.8"> cm</tspan><tspan dy="-2.8" font-size="5.4">2</tspan><tspan dy="2.8"> W</tspan><tspan dy="-2.8" font-size="5.2">-1</tspan><tspan dy="2.8">)</tspan></text>
<text transform="translate(351.1,55.8) rotate(90)" style="font-family:'Liberation Sans',sans-serif;font-size:7.8px" text-anchor="middle" fill="#333">ΔΦ (rad)</text>
<text x="181.80" y="15.00" style="font-family:'Liberation Sans',sans-serif;font-size:9.6px;font-weight:bold" text-anchor="start" fill="#1a1a1a" stroke="#1a1a1a" stroke-width="0.45" >(b)</text>
<circle cx="59.20" cy="185.50" r="1.7" fill="#2b2bd8" stroke="#1a1a9a" stroke-width="0.35"/>
<circle cx="58.10" cy="190.70" r="1.7" fill="#2b2bd8" stroke="#1a1a9a" stroke-width="0.35"/>
<circle cx="60.90" cy="189.60" r="1.7" fill="#2b2bd8" stroke="#1a1a9a" stroke-width="0.35"/>
<circle cx="63.80" cy="188.60" r="1.7" fill="#2b2bd8" stroke="#1a1a9a" stroke-width="0.35"/>
<circle cx="64.40" cy="191.30" r="1.7" fill="#2b2bd8" stroke="#1a1a9a" stroke-width="0.35"/>
<circle cx="66.50" cy="192.80" r="1.7" fill="#2b2bd8" stroke="#1a1a9a" stroke-width="0.35"/>
<circle cx="68.60" cy="193.40" r="1.7" fill="#2b2bd8" stroke="#1a1a9a" stroke-width="0.35"/>
<circle cx="70.70" cy="194.90" r="1.7" fill="#2b2bd8" stroke="#1a1a9a" stroke-width="0.35"/>
<circle cx="72.80" cy="195.50" r="1.7" fill="#2b2bd8" stroke="#1a1a9a" stroke-width="0.35"/>
<circle cx="75.50" cy="190.70" r="1.7" fill="#2b2bd8" stroke="#1a1a9a" stroke-width="0.35"/>
<circle cx="74.20" cy="195.90" r="1.7" fill="#2b2bd8" stroke="#1a1a9a" stroke-width="0.35"/>
<circle cx="78.00" cy="202.20" r="1.7" fill="#2b2bd8" stroke="#1a1a9a" stroke-width="0.35"/>
<circle cx="81.10" cy="201.10" r="1.7" fill="#2b2bd8" stroke="#1a1a9a" stroke-width="0.35"/>
<circle cx="80.10" cy="204.30" r="1.7" fill="#2b2bd8" stroke="#1a1a9a" stroke-width="0.35"/>
<circle cx="82.60" cy="207.40" r="1.7" fill="#2b2bd8" stroke="#1a1a9a" stroke-width="0.35"/>
<circle cx="85.30" cy="209.50" r="1.7" fill="#2b2bd8" stroke="#1a1a9a" stroke-width="0.35"/>
<circle cx="88.00" cy="210.50" r="1.7" fill="#2b2bd8" stroke="#1a1a9a" stroke-width="0.35"/>
<circle cx="89.50" cy="213.70" r="1.7" fill="#2b2bd8" stroke="#1a1a9a" stroke-width="0.35"/>
<circle cx="92.60" cy="212.60" r="1.7" fill="#2b2bd8" stroke="#1a1a9a" stroke-width="0.35"/>
<circle cx="94.70" cy="215.80" r="1.7" fill="#2b2bd8" stroke="#1a1a9a" stroke-width="0.35"/>
<circle cx="95.80" cy="218.90" r="1.7" fill="#2b2bd8" stroke="#1a1a9a" stroke-width="0.35"/>
<circle cx="97.90" cy="223.10" r="1.7" fill="#2b2bd8" stroke="#1a1a9a" stroke-width="0.35"/>
<circle cx="100.00" cy="220.00" r="1.7" fill="#2b2bd8" stroke="#1a1a9a" stroke-width="0.35"/>
<circle cx="102.70" cy="218.50" r="1.7" fill="#2b2bd8" stroke="#1a1a9a" stroke-width="0.35"/>
<circle cx="104.10" cy="216.80" r="1.7" fill="#2b2bd8" stroke="#1a1a9a" stroke-width="0.35"/>
<circle cx="105.20" cy="215.80" r="1.7" fill="#2b2bd8" stroke="#1a1a9a" stroke-width="0.35"/>
<circle cx="106.80" cy="203.20" r="1.7" fill="#2b2bd8" stroke="#1a1a9a" stroke-width="0.35"/>
<circle cx="108.30" cy="209.50" r="1.7" fill="#2b2bd8" stroke="#1a1a9a" stroke-width="0.35"/>
<circle cx="109.80" cy="206.40" r="1.7" fill="#2b2bd8" stroke="#1a1a9a" stroke-width="0.35"/>
<circle cx="111.50" cy="201.80" r="1.7" fill="#2b2bd8" stroke="#1a1a9a" stroke-width="0.35"/>
<circle cx="112.50" cy="197.00" r="1.7" fill="#2b2bd8" stroke="#1a1a9a" stroke-width="0.35"/>
<circle cx="113.50" cy="191.70" r="1.7" fill="#2b2bd8" stroke="#1a1a9a" stroke-width="0.35"/>
<circle cx="114.60" cy="185.50" r="1.7" fill="#2b2bd8" stroke="#1a1a9a" stroke-width="0.35"/>
<circle cx="114.60" cy="178.10" r="1.7" fill="#2b2bd8" stroke="#1a1a9a" stroke-width="0.35"/>
<circle cx="111.90" cy="197.50" r="1.7" fill="#2b2bd8" stroke="#1a1a9a" stroke-width="0.35"/>
<circle cx="113.80" cy="186.10" r="1.7" fill="#2b2bd8" stroke="#1a1a9a" stroke-width="0.35"/>
<circle cx="114.80" cy="184.20" r="1.7" fill="#2b2bd8" stroke="#1a1a9a" stroke-width="0.35"/>
<circle cx="116.10" cy="177.60" r="1.7" fill="#2b2bd8" stroke="#1a1a9a" stroke-width="0.35"/>
<circle cx="117.60" cy="170.90" r="1.7" fill="#2b2bd8" stroke="#1a1a9a" stroke-width="0.35"/>
<circle cx="118.60" cy="167.10" r="1.7" fill="#2b2bd8" stroke="#1a1a9a" stroke-width="0.35"/>
<circle cx="119.50" cy="162.40" r="1.7" fill="#2b2bd8" stroke="#1a1a9a" stroke-width="0.35"/>
<circle cx="120.50" cy="159.50" r="1.7" fill="#2b2bd8" stroke="#1a1a9a" stroke-width="0.35"/>
<circle cx="122.40" cy="160.50" r="1.7" fill="#2b2bd8" stroke="#1a1a9a" stroke-width="0.35"/>
<circle cx="124.30" cy="160.50" r="1.7" fill="#2b2bd8" stroke="#1a1a9a" stroke-width="0.35"/>
<circle cx="127.10" cy="159.50" r="1.7" fill="#2b2bd8" stroke="#1a1a9a" stroke-width="0.35"/>
<circle cx="129.00" cy="160.50" r="1.7" fill="#2b2bd8" stroke="#1a1a9a" stroke-width="0.35"/>
<circle cx="130.90" cy="163.30" r="1.7" fill="#2b2bd8" stroke="#1a1a9a" stroke-width="0.35"/>
<circle cx="132.80" cy="165.20" r="1.7" fill="#2b2bd8" stroke="#1a1a9a" stroke-width="0.35"/>
<circle cx="134.70" cy="167.10" r="1.7" fill="#2b2bd8" stroke="#1a1a9a" stroke-width="0.35"/>
<circle cx="136.60" cy="169.00" r="1.7" fill="#2b2bd8" stroke="#1a1a9a" stroke-width="0.35"/>
<circle cx="139.50" cy="169.00" r="1.7" fill="#2b2bd8" stroke="#1a1a9a" stroke-width="0.35"/>
<circle cx="138.50" cy="170.90" r="1.7" fill="#2b2bd8" stroke="#1a1a9a" stroke-width="0.35"/>
<circle cx="141.40" cy="177.60" r="1.7" fill="#2b2bd8" stroke="#1a1a9a" stroke-width="0.35"/>
<circle cx="143.30" cy="180.40" r="1.7" fill="#2b2bd8" stroke="#1a1a9a" stroke-width="0.35"/>
<circle cx="145.20" cy="185.20" r="1.7" fill="#2b2bd8" stroke="#1a1a9a" stroke-width="0.35"/>
<circle cx="147.10" cy="187.10" r="1.7" fill="#2b2bd8" stroke="#1a1a9a" stroke-width="0.35"/>
<circle cx="149.90" cy="188.00" r="1.7" fill="#2b2bd8" stroke="#1a1a9a" stroke-width="0.35"/>
<circle cx="152.80" cy="189.00" r="1.7" fill="#2b2bd8" stroke="#1a1a9a" stroke-width="0.35"/>
<circle cx="154.70" cy="189.90" r="1.7" fill="#2b2bd8" stroke="#1a1a9a" stroke-width="0.35"/>
<circle cx="157.50" cy="189.90" r="1.7" fill="#2b2bd8" stroke="#1a1a9a" stroke-width="0.35"/>
<circle cx="160.40" cy="188.00" r="1.7" fill="#2b2bd8" stroke="#1a1a9a" stroke-width="0.35"/>
<circle cx="163.20" cy="189.00" r="1.7" fill="#2b2bd8" stroke="#1a1a9a" stroke-width="0.35"/>
<circle cx="166.10" cy="189.00" r="1.7" fill="#2b2bd8" stroke="#1a1a9a" stroke-width="0.35"/>
<circle cx="168.00" cy="189.90" r="1.7" fill="#2b2bd8" stroke="#1a1a9a" stroke-width="0.35"/>
<circle cx="170.80" cy="189.00" r="1.7" fill="#2b2bd8" stroke="#1a1a9a" stroke-width="0.35"/>
<circle cx="61.50" cy="187.50" r="1.7" fill="#2b2bd8" stroke="#1a1a9a" stroke-width="0.35"/>
<circle cx="67.50" cy="190.00" r="1.7" fill="#2b2bd8" stroke="#1a1a9a" stroke-width="0.35"/>
<circle cx="77.00" cy="199.50" r="1.7" fill="#2b2bd8" stroke="#1a1a9a" stroke-width="0.35"/>
<circle cx="84.00" cy="206.00" r="1.7" fill="#2b2bd8" stroke="#1a1a9a" stroke-width="0.35"/>
<circle cx="86.50" cy="211.00" r="1.7" fill="#2b2bd8" stroke="#1a1a9a" stroke-width="0.35"/>
<circle cx="91.00" cy="215.00" r="1.7" fill="#2b2bd8" stroke="#1a1a9a" stroke-width="0.35"/>
<circle cx="96.80" cy="221.00" r="1.7" fill="#2b2bd8" stroke="#1a1a9a" stroke-width="0.35"/>
<circle cx="99.00" cy="223.50" r="1.7" fill="#2b2bd8" stroke="#1a1a9a" stroke-width="0.35"/>
<circle cx="101.50" cy="221.80" r="1.7" fill="#2b2bd8" stroke="#1a1a9a" stroke-width="0.35"/>
<circle cx="121.30" cy="161.50" r="1.7" fill="#2b2bd8" stroke="#1a1a9a" stroke-width="0.35"/>
<circle cx="125.50" cy="159.80" r="1.7" fill="#2b2bd8" stroke="#1a1a9a" stroke-width="0.35"/>
<circle cx="128.00" cy="161.50" r="1.7" fill="#2b2bd8" stroke="#1a1a9a" stroke-width="0.35"/>
<circle cx="133.50" cy="166.00" r="1.7" fill="#2b2bd8" stroke="#1a1a9a" stroke-width="0.35"/>
<circle cx="144.00" cy="183.00" r="1.7" fill="#2b2bd8" stroke="#1a1a9a" stroke-width="0.35"/>
<circle cx="146.00" cy="186.00" r="1.7" fill="#2b2bd8" stroke="#1a1a9a" stroke-width="0.35"/>
<circle cx="151.00" cy="189.50" r="1.7" fill="#2b2bd8" stroke="#1a1a9a" stroke-width="0.35"/>
<circle cx="156.00" cy="188.80" r="1.7" fill="#2b2bd8" stroke="#1a1a9a" stroke-width="0.35"/>
<circle cx="159.00" cy="190.80" r="1.7" fill="#2b2bd8" stroke="#1a1a9a" stroke-width="0.35"/>
<circle cx="162.00" cy="189.50" r="1.7" fill="#2b2bd8" stroke="#1a1a9a" stroke-width="0.35"/>
<circle cx="165.00" cy="190.00" r="1.7" fill="#2b2bd8" stroke="#1a1a9a" stroke-width="0.35"/>
<circle cx="167.00" cy="188.50" r="1.7" fill="#2b2bd8" stroke="#1a1a9a" stroke-width="0.35"/>
<circle cx="169.50" cy="190.00" r="1.7" fill="#2b2bd8" stroke="#1a1a9a" stroke-width="0.35"/>
<circle cx="171.50" cy="189.80" r="1.7" fill="#2b2bd8" stroke="#1a1a9a" stroke-width="0.35"/>
<circle cx="140.50" cy="174.00" r="1.7" fill="#2b2bd8" stroke="#1a1a9a" stroke-width="0.35"/>
<path d="M58.00,194.90 L58.00,195.12 L58.00,195.41 L59.60,195.76 L61.62,196.15 L63.63,196.57 L65.50,197.00 L67.24,197.42 L68.97,197.84 L70.70,198.29 L72.43,198.79 L74.16,199.39 L75.90,200.10 L77.67,200.95 L79.47,201.93 L81.28,202.99 L83.06,204.11 L84.78,205.26 L86.40,206.40 L87.95,207.57 L89.44,208.80 L90.88,210.05 L92.24,211.30 L93.52,212.53 L94.70,213.70 L95.78,214.87 L96.77,216.07 L97.67,217.24 L98.51,218.33 L99.28,219.27 L100.00,220.00 L100.64,220.55 L101.20,220.96 L101.69,221.22 L102.15,221.32 L102.61,221.25 L103.10,221.00 L103.60,220.59 L104.09,220.04 L104.58,219.31 L105.09,218.39 L105.62,217.22 L106.20,215.80 L106.84,214.08 L107.52,212.08 L108.23,209.85 L108.96,207.43 L109.69,204.86 L110.40,202.20 L111.12,199.29 L111.85,196.08 L112.58,192.72 L113.30,189.39 L113.98,186.22 L114.60,183.40 L115.17,180.90 L115.70,178.58 L116.19,176.44 L116.65,174.47 L117.08,172.66 L117.50,171.00 L117.89,169.52 L118.24,168.24 L118.56,167.11 L118.87,166.11 L119.18,165.18 L119.50,164.30 L119.80,163.45 L120.07,162.66 L120.34,161.95 L120.63,161.34 L120.97,160.85 L121.40,160.50 L121.90,160.29 L122.46,160.21 L123.06,160.25 L123.72,160.40 L124.43,160.65 L125.20,161.00 L126.04,161.47 L126.96,162.07 L127.93,162.78 L128.93,163.55 L129.93,164.37 L130.90,165.20 L131.85,166.06 L132.80,166.99 L133.75,167.96 L134.70,168.94 L135.65,169.93 L136.60,170.90 L137.55,171.86 L138.50,172.83 L139.45,173.81 L140.40,174.77 L141.35,175.70 L142.30,176.60 L143.23,177.46 L144.13,178.30 L145.03,179.12 L145.96,179.91 L146.94,180.67 L148.00,181.40 L149.16,182.11 L150.39,182.81 L151.68,183.48 L153.00,184.11 L154.31,184.69 L155.60,185.20 L156.85,185.63 L158.08,185.97 L159.31,186.27 L160.56,186.54 L161.85,186.81 L163.20,187.10 L164.72,187.44 L166.43,187.80 L168.17,188.17 L169.81,188.51 L171.20,188.79 L172.00,189.00" stroke="#d42a2a" stroke-width="1.45" fill="none" stroke-linejoin="round" />
<rect x="57.70" y="147.40" width="114.60" height="87.80" fill="none" stroke="#3a3a3a" stroke-width="1.0"/>
<line x1="57.70" y1="147.10" x2="59.50" y2="147.10" stroke="#555" stroke-width="0.7" />
<line x1="172.30" y1="147.10" x2="170.80" y2="147.10" stroke="#555" stroke-width="0.6" />
<text x="56.10" y="149.30" style="font-family:'Liberation Sans',sans-serif;font-size:6.4px;font-weight:normal" text-anchor="end" fill="#333" stroke="#333" stroke-width="0.22" letter-spacing="0.3">1.15</text>
<line x1="57.70" y1="161.73" x2="59.50" y2="161.73" stroke="#555" stroke-width="0.7" />
<line x1="172.30" y1="161.73" x2="170.80" y2="161.73" stroke="#555" stroke-width="0.6" />
<text x="56.10" y="163.93" style="font-family:'Liberation Sans',sans-serif;font-size:6.4px;font-weight:normal" text-anchor="end" fill="#333" stroke="#333" stroke-width="0.22" letter-spacing="0.3">1.10</text>
<line x1="57.70" y1="176.36" x2="59.50" y2="176.36" stroke="#555" stroke-width="0.7" />
<line x1="172.30" y1="176.36" x2="170.80" y2="176.36" stroke="#555" stroke-width="0.6" />
<text x="56.10" y="178.56" style="font-family:'Liberation Sans',sans-serif;font-size:6.4px;font-weight:normal" text-anchor="end" fill="#333" stroke="#333" stroke-width="0.22" letter-spacing="0.3">1.05</text>
<line x1="57.70" y1="191.00" x2="59.50" y2="191.00" stroke="#555" stroke-width="0.7" />
<line x1="172.30" y1="191.00" x2="170.80" y2="191.00" stroke="#555" stroke-width="0.6" />
<text x="56.10" y="193.20" style="font-family:'Liberation Sans',sans-serif;font-size:6.4px;font-weight:normal" text-anchor="end" fill="#333" stroke="#333" stroke-width="0.22" letter-spacing="0.3">1.00</text>
<line x1="57.70" y1="205.64" x2="59.50" y2="205.64" stroke="#555" stroke-width="0.7" />
<line x1="172.30" y1="205.64" x2="170.80" y2="205.64" stroke="#555" stroke-width="0.6" />
<text x="56.10" y="207.84" style="font-family:'Liberation Sans',sans-serif;font-size:6.4px;font-weight:normal" text-anchor="end" fill="#333" stroke="#333" stroke-width="0.22" letter-spacing="0.3">0.95</text>
<line x1="57.70" y1="220.27" x2="59.50" y2="220.27" stroke="#555" stroke-width="0.7" />
<line x1="172.30" y1="220.27" x2="170.80" y2="220.27" stroke="#555" stroke-width="0.6" />
<text x="56.10" y="222.47" style="font-family:'Liberation Sans',sans-serif;font-size:6.4px;font-weight:normal" text-anchor="end" fill="#333" stroke="#333" stroke-width="0.22" letter-spacing="0.3">0.90</text>
<line x1="57.70" y1="234.91" x2="59.50" y2="234.91" stroke="#555" stroke-width="0.7" />
<line x1="172.30" y1="234.91" x2="170.80" y2="234.91" stroke="#555" stroke-width="0.6" />
<text x="56.10" y="237.10" style="font-family:'Liberation Sans',sans-serif;font-size:6.4px;font-weight:normal" text-anchor="end" fill="#333" stroke="#333" stroke-width="0.22" letter-spacing="0.3">0.85</text>
<line x1="69.40" y1="235.20" x2="69.40" y2="233.60" stroke="#555" stroke-width="0.7" />
<line x1="69.40" y1="147.40" x2="69.40" y2="148.90" stroke="#555" stroke-width="0.6" />
<text x="69.40" y="242.90" style="font-family:'Liberation Sans',sans-serif;font-size:6.4px;font-weight:normal" text-anchor="middle" fill="#333" stroke="#333" stroke-width="0.22" >-40</text>
<line x1="92.20" y1="235.20" x2="92.20" y2="233.60" stroke="#555" stroke-width="0.7" />
<line x1="92.20" y1="147.40" x2="92.20" y2="148.90" stroke="#555" stroke-width="0.6" />
<text x="92.20" y="242.90" style="font-family:'Liberation Sans',sans-serif;font-size:6.4px;font-weight:normal" text-anchor="middle" fill="#333" stroke="#333" stroke-width="0.22" >-20</text>
<line x1="115.00" y1="235.20" x2="115.00" y2="233.60" stroke="#555" stroke-width="0.7" />
<line x1="115.00" y1="147.40" x2="115.00" y2="148.90" stroke="#555" stroke-width="0.6" />
<text x="115.00" y="242.90" style="font-family:'Liberation Sans',sans-serif;font-size:6.4px;font-weight:normal" text-anchor="middle" fill="#333" stroke="#333" stroke-width="0.22" >0</text>
<line x1="137.80" y1="235.20" x2="137.80" y2="233.60" stroke="#555" stroke-width="0.7" />
<line x1="137.80" y1="147.40" x2="137.80" y2="148.90" stroke="#555" stroke-width="0.6" />
<text x="137.80" y="242.90" style="font-family:'Liberation Sans',sans-serif;font-size:6.4px;font-weight:normal" text-anchor="middle" fill="#333" stroke="#333" stroke-width="0.22" >20</text>
<line x1="160.60" y1="235.20" x2="160.60" y2="233.60" stroke="#555" stroke-width="0.7" />
<line x1="160.60" y1="147.40" x2="160.60" y2="148.90" stroke="#555" stroke-width="0.6" />
<text x="160.60" y="242.90" style="font-family:'Liberation Sans',sans-serif;font-size:6.4px;font-weight:normal" text-anchor="middle" fill="#333" stroke="#333" stroke-width="0.22" >40</text>
<line x1="80.80" y1="235.20" x2="80.80" y2="234.00" stroke="#555" stroke-width="0.6" />
<line x1="80.80" y1="147.40" x2="80.80" y2="148.60" stroke="#555" stroke-width="0.6" />
<line x1="103.60" y1="235.20" x2="103.60" y2="234.00" stroke="#555" stroke-width="0.6" />
<line x1="103.60" y1="147.40" x2="103.60" y2="148.60" stroke="#555" stroke-width="0.6" />
<line x1="126.40" y1="235.20" x2="126.40" y2="234.00" stroke="#555" stroke-width="0.6" />
<line x1="126.40" y1="147.40" x2="126.40" y2="148.60" stroke="#555" stroke-width="0.6" />
<line x1="149.20" y1="235.20" x2="149.20" y2="234.00" stroke="#555" stroke-width="0.6" />
<line x1="149.20" y1="147.40" x2="149.20" y2="148.60" stroke="#555" stroke-width="0.6" />
<line x1="57.70" y1="154.41" x2="58.80" y2="154.41" stroke="#555" stroke-width="0.6" />
<line x1="172.30" y1="154.41" x2="171.20" y2="154.41" stroke="#555" stroke-width="0.6" />
<line x1="57.70" y1="169.05" x2="58.80" y2="169.05" stroke="#555" stroke-width="0.6" />
<line x1="172.30" y1="169.05" x2="171.20" y2="169.05" stroke="#555" stroke-width="0.6" />
<line x1="57.70" y1="183.68" x2="58.80" y2="183.68" stroke="#555" stroke-width="0.6" />
<line x1="172.30" y1="183.68" x2="171.20" y2="183.68" stroke="#555" stroke-width="0.6" />
<line x1="57.70" y1="198.32" x2="58.80" y2="198.32" stroke="#555" stroke-width="0.6" />
<line x1="172.30" y1="198.32" x2="171.20" y2="198.32" stroke="#555" stroke-width="0.6" />
<line x1="57.70" y1="212.95" x2="58.80" y2="212.95" stroke="#555" stroke-width="0.6" />
<line x1="172.30" y1="212.95" x2="171.20" y2="212.95" stroke="#555" stroke-width="0.6" />
<line x1="57.70" y1="227.59" x2="58.80" y2="227.59" stroke="#555" stroke-width="0.6" />
<line x1="172.30" y1="227.59" x2="171.20" y2="227.59" stroke="#555" stroke-width="0.6" />
<text x="114.90" y="254.40" style="font-family:'Liberation Sans',sans-serif;font-size:8.1px;font-weight:bold" text-anchor="middle" fill="#1a1a1a" stroke="#1a1a1a" stroke-width="0.2" >Z (mm)</text>
<text x="0" y="0" transform="translate(35.20,191.80) rotate(-90)" style="font-family:'Liberation Sans',sans-serif;font-size:7.9px;font-weight:bold" text-anchor="middle" fill="#222" stroke="#222" stroke-width="0.15">Normalized Transmittance</text>
<text x="10.00" y="149.00" style="font-family:'Liberation Sans',sans-serif;font-size:9.6px;font-weight:bold" text-anchor="start" fill="#1a1a1a" stroke="#1a1a1a" stroke-width="0.45" >(c)</text>
<text x="62.10" y="157.80" style="font-family:'Liberation Serif',serif;font-size:7.35px;font-weight:bold" text-anchor="start" fill="#111" stroke="#111" stroke-width="0.3" >1560 nm</text>
<text x="62.10" y="166.60" style="font-family:'Liberation Serif',serif;font-size:7.35px;font-weight:bold" text-anchor="start" fill="#111" stroke="#111" stroke-width="0.3" >43.6 MW/cm<tspan dy="-2.8" font-size="4.8">2</tspan></text>
<path d="M211.20,187.50 L219.00,188.60 L229.80,186.70 L240.40,184.50 L242.70,183.70 L245.00,186.00 L248.00,179.50 L251.00,175.00 L254.00,170.80 L257.90,162.00 L260.50,155.00 L262.70,150.80 L264.40,154.70 L265.00,164.40 L266.00,170.80 L267.10,179.20 L267.50,188.60 L268.10,202.20 L269.60,213.70 L270.90,219.90 L272.90,225.00 L275.40,219.90 L277.50,212.60 L279.60,206.30 L281.70,200.00 L284.90,195.90 L290.10,193.40 L296.30,190.70 L306.80,189.60 L317.20,189.20 L326.30,188.60" stroke="#c03030" stroke-width="1.2" fill="none" stroke-linejoin="round" />
<circle cx="213.00" cy="184.50" r="1.4" fill="none" stroke="#333" stroke-width="0.75"/>
<circle cx="216.00" cy="189.80" r="1.4" fill="none" stroke="#333" stroke-width="0.75"/>
<circle cx="217.60" cy="191.30" r="1.4" fill="none" stroke="#333" stroke-width="0.75"/>
<circle cx="221.40" cy="183.40" r="1.4" fill="none" stroke="#333" stroke-width="0.75"/>
<circle cx="223.00" cy="188.00" r="1.4" fill="none" stroke="#333" stroke-width="0.75"/>
<circle cx="225.20" cy="183.40" r="1.4" fill="none" stroke="#333" stroke-width="0.75"/>
<circle cx="226.00" cy="187.50" r="1.4" fill="none" stroke="#333" stroke-width="0.75"/>
<circle cx="229.80" cy="184.50" r="1.4" fill="none" stroke="#333" stroke-width="0.75"/>
<circle cx="231.00" cy="189.50" r="1.4" fill="none" stroke="#333" stroke-width="0.75"/>
<circle cx="233.60" cy="192.80" r="1.4" fill="none" stroke="#333" stroke-width="0.75"/>
<circle cx="235.00" cy="187.50" r="1.4" fill="none" stroke="#333" stroke-width="0.75"/>
<circle cx="237.40" cy="182.20" r="1.4" fill="none" stroke="#333" stroke-width="0.75"/>
<circle cx="240.40" cy="181.40" r="1.4" fill="none" stroke="#333" stroke-width="0.75"/>
<circle cx="242.00" cy="183.00" r="1.4" fill="none" stroke="#333" stroke-width="0.75"/>
<circle cx="245.00" cy="186.00" r="1.4" fill="none" stroke="#333" stroke-width="0.75"/>
<circle cx="246.50" cy="181.50" r="1.4" fill="none" stroke="#333" stroke-width="0.75"/>
<circle cx="248.00" cy="177.60" r="1.4" fill="none" stroke="#333" stroke-width="0.75"/>
<circle cx="249.50" cy="176.00" r="1.4" fill="none" stroke="#333" stroke-width="0.75"/>
<circle cx="251.00" cy="173.80" r="1.4" fill="none" stroke="#333" stroke-width="0.75"/>
<circle cx="252.50" cy="172.50" r="1.4" fill="none" stroke="#333" stroke-width="0.75"/>
<circle cx="254.00" cy="170.80" r="1.4" fill="none" stroke="#333" stroke-width="0.75"/>
<circle cx="255.50" cy="168.00" r="1.4" fill="none" stroke="#333" stroke-width="0.75"/>
<circle cx="257.00" cy="165.00" r="1.4" fill="none" stroke="#333" stroke-width="0.75"/>
<circle cx="258.50" cy="161.00" r="1.4" fill="none" stroke="#333" stroke-width="0.75"/>
<circle cx="260.00" cy="157.00" r="1.4" fill="none" stroke="#333" stroke-width="0.75"/>
<circle cx="261.20" cy="153.50" r="1.4" fill="none" stroke="#333" stroke-width="0.75"/>
<circle cx="262.50" cy="151.00" r="1.4" fill="none" stroke="#333" stroke-width="0.75"/>
<circle cx="263.50" cy="152.50" r="1.4" fill="none" stroke="#333" stroke-width="0.75"/>
<circle cx="264.40" cy="155.00" r="1.4" fill="none" stroke="#333" stroke-width="0.75"/>
<circle cx="265.00" cy="162.00" r="1.4" fill="none" stroke="#333" stroke-width="0.75"/>
<circle cx="266.00" cy="170.80" r="1.4" fill="none" stroke="#333" stroke-width="0.75"/>
<circle cx="267.10" cy="179.20" r="1.4" fill="none" stroke="#333" stroke-width="0.75"/>
<circle cx="267.50" cy="188.60" r="1.4" fill="none" stroke="#333" stroke-width="0.75"/>
<circle cx="268.10" cy="202.20" r="1.4" fill="none" stroke="#333" stroke-width="0.75"/>
<circle cx="269.60" cy="213.70" r="1.4" fill="none" stroke="#333" stroke-width="0.75"/>
<circle cx="270.90" cy="219.90" r="1.4" fill="none" stroke="#333" stroke-width="0.75"/>
<circle cx="272.90" cy="225.60" r="1.4" fill="none" stroke="#333" stroke-width="0.75"/>
<circle cx="275.40" cy="219.90" r="1.4" fill="none" stroke="#333" stroke-width="0.75"/>
<circle cx="277.50" cy="212.60" r="1.4" fill="none" stroke="#333" stroke-width="0.75"/>
<circle cx="279.60" cy="206.30" r="1.4" fill="none" stroke="#333" stroke-width="0.75"/>
<circle cx="281.70" cy="199.00" r="1.4" fill="none" stroke="#333" stroke-width="0.75"/>
<circle cx="283.50" cy="196.00" r="1.4" fill="none" stroke="#333" stroke-width="0.75"/>
<circle cx="284.90" cy="195.90" r="1.4" fill="none" stroke="#333" stroke-width="0.75"/>
<circle cx="286.50" cy="197.50" r="1.4" fill="none" stroke="#333" stroke-width="0.75"/>
<circle cx="288.00" cy="194.50" r="1.4" fill="none" stroke="#333" stroke-width="0.75"/>
<circle cx="290.10" cy="193.40" r="1.4" fill="none" stroke="#333" stroke-width="0.75"/>
<circle cx="291.50" cy="197.00" r="1.4" fill="none" stroke="#333" stroke-width="0.75"/>
<circle cx="293.00" cy="195.00" r="1.4" fill="none" stroke="#333" stroke-width="0.75"/>
<circle cx="294.30" cy="199.00" r="1.4" fill="none" stroke="#333" stroke-width="0.75"/>
<circle cx="296.30" cy="190.70" r="1.4" fill="none" stroke="#333" stroke-width="0.75"/>
<circle cx="297.50" cy="186.50" r="1.4" fill="none" stroke="#333" stroke-width="0.75"/>
<circle cx="299.00" cy="189.00" r="1.4" fill="none" stroke="#333" stroke-width="0.75"/>
<circle cx="300.50" cy="192.00" r="1.4" fill="none" stroke="#333" stroke-width="0.75"/>
<circle cx="302.00" cy="188.00" r="1.4" fill="none" stroke="#333" stroke-width="0.75"/>
<circle cx="303.50" cy="196.00" r="1.4" fill="none" stroke="#333" stroke-width="0.75"/>
<circle cx="305.00" cy="191.00" r="1.4" fill="none" stroke="#333" stroke-width="0.75"/>
<circle cx="306.80" cy="189.60" r="1.4" fill="none" stroke="#333" stroke-width="0.75"/>
<circle cx="308.50" cy="187.00" r="1.4" fill="none" stroke="#333" stroke-width="0.75"/>
<circle cx="310.00" cy="191.50" r="1.4" fill="none" stroke="#333" stroke-width="0.75"/>
<circle cx="312.00" cy="194.00" r="1.4" fill="none" stroke="#333" stroke-width="0.75"/>
<circle cx="314.00" cy="188.50" r="1.4" fill="none" stroke="#333" stroke-width="0.75"/>
<circle cx="316.00" cy="186.00" r="1.4" fill="none" stroke="#333" stroke-width="0.75"/>
<circle cx="318.00" cy="193.00" r="1.4" fill="none" stroke="#333" stroke-width="0.75"/>
<circle cx="319.50" cy="196.00" r="1.4" fill="none" stroke="#333" stroke-width="0.75"/>
<circle cx="321.00" cy="194.00" r="1.4" fill="none" stroke="#333" stroke-width="0.75"/>
<circle cx="324.10" cy="185.70" r="1.4" fill="none" stroke="#333" stroke-width="0.75"/>
<circle cx="325.50" cy="189.00" r="1.4" fill="none" stroke="#333" stroke-width="0.75"/>
<rect x="211.00" y="144.70" width="115.50" height="92.70" fill="none" stroke="#666" stroke-width="0.9"/>
<line x1="209.40" y1="151.00" x2="211.00" y2="151.00" stroke="#555" stroke-width="0.6" />
<line x1="325.20" y1="151.00" x2="326.50" y2="151.00" stroke="#555" stroke-width="0.5" />
<text x="208.40" y="152.60" style="font-family:'Liberation Sans',sans-serif;font-size:4.7px;font-weight:normal" text-anchor="end" fill="#333" stroke="#333" stroke-width="0.2" >1.15</text>
<line x1="209.40" y1="163.20" x2="211.00" y2="163.20" stroke="#555" stroke-width="0.6" />
<line x1="325.20" y1="163.20" x2="326.50" y2="163.20" stroke="#555" stroke-width="0.5" />
<text x="208.40" y="164.80" style="font-family:'Liberation Sans',sans-serif;font-size:4.7px;font-weight:normal" text-anchor="end" fill="#333" stroke="#333" stroke-width="0.2" >1.10</text>
<line x1="209.40" y1="175.40" x2="211.00" y2="175.40" stroke="#555" stroke-width="0.6" />
<line x1="325.20" y1="175.40" x2="326.50" y2="175.40" stroke="#555" stroke-width="0.5" />
<text x="208.40" y="177.00" style="font-family:'Liberation Sans',sans-serif;font-size:4.7px;font-weight:normal" text-anchor="end" fill="#333" stroke="#333" stroke-width="0.2" >1.05</text>
<line x1="209.40" y1="187.60" x2="211.00" y2="187.60" stroke="#555" stroke-width="0.6" />
<line x1="325.20" y1="187.60" x2="326.50" y2="187.60" stroke="#555" stroke-width="0.5" />
<text x="208.40" y="189.20" style="font-family:'Liberation Sans',sans-serif;font-size:4.7px;font-weight:normal" text-anchor="end" fill="#333" stroke="#333" stroke-width="0.2" >1.00</text>
<line x1="209.40" y1="199.80" x2="211.00" y2="199.80" stroke="#555" stroke-width="0.6" />
<line x1="325.20" y1="199.80" x2="326.50" y2="199.80" stroke="#555" stroke-width="0.5" />
<text x="208.40" y="201.40" style="font-family:'Liberation Sans',sans-serif;font-size:4.7px;font-weight:normal" text-anchor="end" fill="#333" stroke="#333" stroke-width="0.2" >0.95</text>
<line x1="209.40" y1="212.00" x2="211.00" y2="212.00" stroke="#555" stroke-width="0.6" />
<line x1="325.20" y1="212.00" x2="326.50" y2="212.00" stroke="#555" stroke-width="0.5" />
<text x="208.40" y="213.60" style="font-family:'Liberation Sans',sans-serif;font-size:4.7px;font-weight:normal" text-anchor="end" fill="#333" stroke="#333" stroke-width="0.2" >0.90</text>
<line x1="209.40" y1="224.20" x2="211.00" y2="224.20" stroke="#555" stroke-width="0.6" />
<line x1="325.20" y1="224.20" x2="326.50" y2="224.20" stroke="#555" stroke-width="0.5" />
<text x="208.40" y="225.80" style="font-family:'Liberation Sans',sans-serif;font-size:4.7px;font-weight:normal" text-anchor="end" fill="#333" stroke="#333" stroke-width="0.2" >0.85</text>
<line x1="209.40" y1="236.40" x2="211.00" y2="236.40" stroke="#555" stroke-width="0.6" />
<line x1="325.20" y1="236.40" x2="326.50" y2="236.40" stroke="#555" stroke-width="0.5" />
<text x="208.40" y="238.00" style="font-family:'Liberation Sans',sans-serif;font-size:4.7px;font-weight:normal" text-anchor="end" fill="#333" stroke="#333" stroke-width="0.2" >0.80</text>
<line x1="210.00" y1="157.10" x2="211.00" y2="157.10" stroke="#555" stroke-width="0.5" />
<line x1="325.60" y1="157.10" x2="326.50" y2="157.10" stroke="#555" stroke-width="0.5" />
<line x1="210.00" y1="169.30" x2="211.00" y2="169.30" stroke="#555" stroke-width="0.5" />
<line x1="325.60" y1="169.30" x2="326.50" y2="169.30" stroke="#555" stroke-width="0.5" />
<line x1="210.00" y1="181.50" x2="211.00" y2="181.50" stroke="#555" stroke-width="0.5" />
<line x1="325.60" y1="181.50" x2="326.50" y2="181.50" stroke="#555" stroke-width="0.5" />
<line x1="210.00" y1="193.70" x2="211.00" y2="193.70" stroke="#555" stroke-width="0.5" />
<line x1="325.60" y1="193.70" x2="326.50" y2="193.70" stroke="#555" stroke-width="0.5" />
<line x1="210.00" y1="205.90" x2="211.00" y2="205.90" stroke="#555" stroke-width="0.5" />
<line x1="325.60" y1="205.90" x2="326.50" y2="205.90" stroke="#555" stroke-width="0.5" />
<line x1="210.00" y1="218.10" x2="211.00" y2="218.10" stroke="#555" stroke-width="0.5" />
<line x1="325.60" y1="218.10" x2="326.50" y2="218.10" stroke="#555" stroke-width="0.5" />
<line x1="210.00" y1="230.30" x2="211.00" y2="230.30" stroke="#555" stroke-width="0.5" />
<line x1="325.60" y1="230.30" x2="326.50" y2="230.30" stroke="#555" stroke-width="0.5" />
<line x1="211.30" y1="237.40" x2="211.30" y2="238.90" stroke="#555" stroke-width="0.6" />
<line x1="211.30" y1="144.70" x2="211.30" y2="143.50" stroke="#555" stroke-width="0.5" />
<text x="211.30" y="243.90" style="font-family:'Liberation Sans',sans-serif;font-size:4.7px;font-weight:normal" text-anchor="middle" fill="#333" stroke="#333" stroke-width="0.2" >-30</text>
<line x1="230.50" y1="237.40" x2="230.50" y2="238.90" stroke="#555" stroke-width="0.6" />
<line x1="230.50" y1="144.70" x2="230.50" y2="143.50" stroke="#555" stroke-width="0.5" />
<text x="230.50" y="243.90" style="font-family:'Liberation Sans',sans-serif;font-size:4.7px;font-weight:normal" text-anchor="middle" fill="#333" stroke="#333" stroke-width="0.2" >-20</text>
<line x1="249.70" y1="237.40" x2="249.70" y2="238.90" stroke="#555" stroke-width="0.6" />
<line x1="249.70" y1="144.70" x2="249.70" y2="143.50" stroke="#555" stroke-width="0.5" />
<text x="249.70" y="243.90" style="font-family:'Liberation Sans',sans-serif;font-size:4.7px;font-weight:normal" text-anchor="middle" fill="#333" stroke="#333" stroke-width="0.2" >-10</text>
<line x1="268.90" y1="237.40" x2="268.90" y2="238.90" stroke="#555" stroke-width="0.6" />
<line x1="268.90" y1="144.70" x2="268.90" y2="143.50" stroke="#555" stroke-width="0.5" />
<text x="268.90" y="243.90" style="font-family:'Liberation Sans',sans-serif;font-size:4.7px;font-weight:normal" text-anchor="middle" fill="#333" stroke="#333" stroke-width="0.2" >0</text>
<line x1="288.10" y1="237.40" x2="288.10" y2="238.90" stroke="#555" stroke-width="0.6" />
<line x1="288.10" y1="144.70" x2="288.10" y2="143.50" stroke="#555" stroke-width="0.5" />
<text x="288.10" y="243.90" style="font-family:'Liberation Sans',sans-serif;font-size:4.7px;font-weight:normal" text-anchor="middle" fill="#333" stroke="#333" stroke-width="0.2" >10</text>
<line x1="307.30" y1="237.40" x2="307.30" y2="238.90" stroke="#555" stroke-width="0.6" />
<line x1="307.30" y1="144.70" x2="307.30" y2="143.50" stroke="#555" stroke-width="0.5" />
<text x="307.30" y="243.90" style="font-family:'Liberation Sans',sans-serif;font-size:4.7px;font-weight:normal" text-anchor="middle" fill="#333" stroke="#333" stroke-width="0.2" >20</text>
<line x1="326.50" y1="237.40" x2="326.50" y2="238.90" stroke="#555" stroke-width="0.6" />
<line x1="326.50" y1="144.70" x2="326.50" y2="143.50" stroke="#555" stroke-width="0.5" />
<text x="326.50" y="243.90" style="font-family:'Liberation Sans',sans-serif;font-size:4.7px;font-weight:normal" text-anchor="middle" fill="#333" stroke="#333" stroke-width="0.2" >30</text>
<line x1="220.90" y1="237.40" x2="220.90" y2="238.30" stroke="#555" stroke-width="0.5" />
<line x1="220.90" y1="144.70" x2="220.90" y2="143.90" stroke="#555" stroke-width="0.5" />
<line x1="240.10" y1="237.40" x2="240.10" y2="238.30" stroke="#555" stroke-width="0.5" />
<line x1="240.10" y1="144.70" x2="240.10" y2="143.90" stroke="#555" stroke-width="0.5" />
<line x1="259.30" y1="237.40" x2="259.30" y2="238.30" stroke="#555" stroke-width="0.5" />
<line x1="259.30" y1="144.70" x2="259.30" y2="143.90" stroke="#555" stroke-width="0.5" />
<line x1="278.50" y1="237.40" x2="278.50" y2="238.30" stroke="#555" stroke-width="0.5" />
<line x1="278.50" y1="144.70" x2="278.50" y2="143.90" stroke="#555" stroke-width="0.5" />
<line x1="297.70" y1="237.40" x2="297.70" y2="238.30" stroke="#555" stroke-width="0.5" />
<line x1="297.70" y1="144.70" x2="297.70" y2="143.90" stroke="#555" stroke-width="0.5" />
<line x1="316.90" y1="237.40" x2="316.90" y2="238.30" stroke="#555" stroke-width="0.5" />
<line x1="316.90" y1="144.70" x2="316.90" y2="143.90" stroke="#555" stroke-width="0.5" />
<text x="268.50" y="256.40" style="font-family:'Liberation Sans',sans-serif;font-size:7.95px;font-weight:bold" text-anchor="middle" fill="#1a1a1a" stroke="#1a1a1a" stroke-width="0.2" >Displacement (mm)</text>
<text transform="translate(194.4,190.2) rotate(-90)" style="font-family:'Liberation Sans',sans-serif;font-size:7.9px;font-weight:bold" text-anchor="middle" fill="#1a1a1a" stroke="#1a1a1a" stroke-width="0.2">T<tspan dy="1.7" font-size="5.0">max</tspan><tspan dy="-1.7"> (a.u.)</tspan></text>
<text x="183.60" y="148.90" style="font-family:'Liberation Sans',sans-serif;font-size:9.6px;font-weight:bold" text-anchor="start" fill="#1a1a1a" stroke="#1a1a1a" stroke-width="0.45" >(d)</text>
<text x="275.30" y="150.10" style="font-family:'Liberation Sans',sans-serif;font-size:5.1px;font-weight:normal" text-anchor="start" fill="#222" stroke="#222" stroke-width="0.15" >1550 nm</text>
<text x="275.30" y="156.60" style="font-family:'Liberation Sans',sans-serif;font-size:5.0px;font-weight:normal" text-anchor="start" fill="#222" stroke="#222" stroke-width="0.15" ><tspan font-style="italic">n</tspan><tspan dy="0.9" font-size="3.4">2</tspan><tspan dy="-0.9">=−4.89×10</tspan><tspan dy="-1.7" font-size="3.4">−16</tspan><tspan dy="1.7"> </tspan><tspan font-style="italic">m</tspan><tspan dy="-1.7" font-size="3.4">2</tspan><tspan dy="1.7" font-style="italic">/W</tspan></text>
<text x="275.30" y="163.10" style="font-family:'Liberation Sans',sans-serif;font-size:5.0px;font-weight:normal" text-anchor="start" fill="#222" stroke="#222" stroke-width="0.15" >Re<tspan font-style="italic">χ</tspan><tspan dy="-1.7" font-size="3.4">(3)</tspan><tspan dy="1.7">=−4.96×10</tspan><tspan dy="-1.7" font-size="3.4">−14</tspan><tspan dy="1.7"> esu</tspan></text>
<circle cx="380.00" cy="188.05" r="1.4" fill="none" stroke="#4a6ee0" stroke-width="0.6"/>
<circle cx="381.70" cy="187.17" r="1.4" fill="none" stroke="#4a6ee0" stroke-width="0.6"/>
<circle cx="383.40" cy="189.37" r="1.4" fill="none" stroke="#4a6ee0" stroke-width="0.6"/>
<circle cx="385.10" cy="188.70" r="1.4" fill="none" stroke="#4a6ee0" stroke-width="0.6"/>
<circle cx="386.80" cy="187.49" r="1.4" fill="none" stroke="#4a6ee0" stroke-width="0.6"/>
<circle cx="388.50" cy="187.76" r="1.4" fill="none" stroke="#4a6ee0" stroke-width="0.6"/>
<circle cx="390.20" cy="188.00" r="1.4" fill="none" stroke="#4a6ee0" stroke-width="0.6"/>
<circle cx="391.90" cy="188.05" r="1.4" fill="none" stroke="#4a6ee0" stroke-width="0.6"/>
<circle cx="393.60" cy="187.42" r="1.4" fill="none" stroke="#4a6ee0" stroke-width="0.6"/>
<circle cx="395.30" cy="189.31" r="1.4" fill="none" stroke="#4a6ee0" stroke-width="0.6"/>
<circle cx="397.00" cy="189.68" r="1.4" fill="none" stroke="#4a6ee0" stroke-width="0.6"/>
<circle cx="398.70" cy="188.31" r="1.4" fill="none" stroke="#4a6ee0" stroke-width="0.6"/>
<circle cx="400.40" cy="188.36" r="1.4" fill="none" stroke="#4a6ee0" stroke-width="0.6"/>
<circle cx="402.10" cy="187.32" r="1.4" fill="none" stroke="#4a6ee0" stroke-width="0.6"/>
<circle cx="403.80" cy="187.37" r="1.4" fill="none" stroke="#4a6ee0" stroke-width="0.6"/>
<circle cx="405.50" cy="187.99" r="1.4" fill="none" stroke="#4a6ee0" stroke-width="0.6"/>
<circle cx="407.20" cy="187.79" r="1.4" fill="none" stroke="#4a6ee0" stroke-width="0.6"/>
<circle cx="408.90" cy="189.26" r="1.4" fill="none" stroke="#4a6ee0" stroke-width="0.6"/>
<circle cx="410.60" cy="187.52" r="1.4" fill="none" stroke="#4a6ee0" stroke-width="0.6"/>
<circle cx="412.30" cy="187.16" r="1.4" fill="none" stroke="#4a6ee0" stroke-width="0.6"/>
<circle cx="414.00" cy="189.57" r="1.4" fill="none" stroke="#4a6ee0" stroke-width="0.6"/>
<circle cx="415.70" cy="188.47" r="1.4" fill="none" stroke="#4a6ee0" stroke-width="0.6"/>
<circle cx="417.40" cy="187.48" r="1.4" fill="none" stroke="#4a6ee0" stroke-width="0.6"/>
<circle cx="419.10" cy="188.51" r="1.4" fill="none" stroke="#4a6ee0" stroke-width="0.6"/>
<circle cx="420.80" cy="187.17" r="1.4" fill="none" stroke="#4a6ee0" stroke-width="0.6"/>
<circle cx="422.50" cy="188.47" r="1.4" fill="none" stroke="#4a6ee0" stroke-width="0.6"/>
<circle cx="424.20" cy="189.64" r="1.4" fill="none" stroke="#4a6ee0" stroke-width="0.6"/>
<circle cx="425.90" cy="189.34" r="1.4" fill="none" stroke="#4a6ee0" stroke-width="0.6"/>
<circle cx="427.60" cy="188.91" r="1.4" fill="none" stroke="#4a6ee0" stroke-width="0.6"/>
<circle cx="429.30" cy="187.78" r="1.4" fill="none" stroke="#4a6ee0" stroke-width="0.6"/>
<circle cx="431.00" cy="188.05" r="1.4" fill="none" stroke="#4a6ee0" stroke-width="0.6"/>
<circle cx="432.70" cy="187.53" r="1.4" fill="none" stroke="#4a6ee0" stroke-width="0.6"/>
<circle cx="434.40" cy="189.11" r="1.4" fill="none" stroke="#4a6ee0" stroke-width="0.6"/>
<circle cx="436.10" cy="188.48" r="1.4" fill="none" stroke="#4a6ee0" stroke-width="0.6"/>
<circle cx="437.80" cy="188.33" r="1.4" fill="none" stroke="#4a6ee0" stroke-width="0.6"/>
<circle cx="439.50" cy="187.16" r="1.4" fill="none" stroke="#4a6ee0" stroke-width="0.6"/>
<circle cx="441.20" cy="186.88" r="1.4" fill="none" stroke="#4a6ee0" stroke-width="0.6"/>
<circle cx="442.90" cy="188.41" r="1.4" fill="none" stroke="#4a6ee0" stroke-width="0.6"/>
<circle cx="444.60" cy="188.86" r="1.4" fill="none" stroke="#4a6ee0" stroke-width="0.6"/>
<circle cx="446.30" cy="189.32" r="1.4" fill="none" stroke="#4a6ee0" stroke-width="0.6"/>
<circle cx="448.00" cy="189.20" r="1.4" fill="none" stroke="#4a6ee0" stroke-width="0.6"/>
<circle cx="449.70" cy="189.23" r="1.4" fill="none" stroke="#4a6ee0" stroke-width="0.6"/>
<circle cx="451.40" cy="189.02" r="1.4" fill="none" stroke="#4a6ee0" stroke-width="0.6"/>
<circle cx="453.10" cy="187.69" r="1.4" fill="none" stroke="#4a6ee0" stroke-width="0.6"/>
<circle cx="454.80" cy="188.45" r="1.4" fill="none" stroke="#4a6ee0" stroke-width="0.6"/>
<circle cx="456.50" cy="188.02" r="1.4" fill="none" stroke="#4a6ee0" stroke-width="0.6"/>
<circle cx="458.20" cy="187.18" r="1.4" fill="none" stroke="#4a6ee0" stroke-width="0.6"/>
<circle cx="459.90" cy="187.17" r="1.4" fill="none" stroke="#4a6ee0" stroke-width="0.6"/>
<circle cx="461.60" cy="187.83" r="1.4" fill="none" stroke="#4a6ee0" stroke-width="0.6"/>
<circle cx="463.30" cy="187.77" r="1.4" fill="none" stroke="#4a6ee0" stroke-width="0.6"/>
<circle cx="465.00" cy="188.90" r="1.4" fill="none" stroke="#4a6ee0" stroke-width="0.6"/>
<circle cx="466.70" cy="189.59" r="1.4" fill="none" stroke="#4a6ee0" stroke-width="0.6"/>
<circle cx="468.40" cy="188.26" r="1.4" fill="none" stroke="#4a6ee0" stroke-width="0.6"/>
<circle cx="470.10" cy="189.54" r="1.4" fill="none" stroke="#4a6ee0" stroke-width="0.6"/>
<circle cx="471.80" cy="189.67" r="1.4" fill="none" stroke="#4a6ee0" stroke-width="0.6"/>
<circle cx="473.50" cy="189.58" r="1.4" fill="none" stroke="#4a6ee0" stroke-width="0.6"/>
<circle cx="475.20" cy="188.05" r="1.4" fill="none" stroke="#4a6ee0" stroke-width="0.6"/>
<circle cx="476.90" cy="187.67" r="1.4" fill="none" stroke="#4a6ee0" stroke-width="0.6"/>
<circle cx="478.60" cy="187.69" r="1.4" fill="none" stroke="#4a6ee0" stroke-width="0.6"/>
<circle cx="480.30" cy="187.61" r="1.4" fill="none" stroke="#4a6ee0" stroke-width="0.6"/>
<circle cx="482.00" cy="187.63" r="1.4" fill="none" stroke="#4a6ee0" stroke-width="0.6"/>
<circle cx="483.70" cy="188.72" r="1.4" fill="none" stroke="#4a6ee0" stroke-width="0.6"/>
<circle cx="485.40" cy="189.44" r="1.4" fill="none" stroke="#4a6ee0" stroke-width="0.6"/>
<circle cx="487.10" cy="189.29" r="1.4" fill="none" stroke="#4a6ee0" stroke-width="0.6"/>
<circle cx="488.80" cy="188.35" r="1.4" fill="none" stroke="#4a6ee0" stroke-width="0.6"/>
<circle cx="490.50" cy="188.80" r="1.4" fill="none" stroke="#4a6ee0" stroke-width="0.6"/>
<circle cx="492.20" cy="189.18" r="1.4" fill="none" stroke="#4a6ee0" stroke-width="0.6"/>
<circle cx="493.90" cy="187.32" r="1.4" fill="none" stroke="#4a6ee0" stroke-width="0.6"/>
<circle cx="495.60" cy="188.82" r="1.4" fill="none" stroke="#4a6ee0" stroke-width="0.6"/>
<circle cx="497.30" cy="189.47" r="1.4" fill="none" stroke="#4a6ee0" stroke-width="0.6"/>
<circle cx="499.00" cy="189.13" r="1.4" fill="none" stroke="#4a6ee0" stroke-width="0.6"/>
<circle cx="500.70" cy="189.05" r="1.4" fill="none" stroke="#4a6ee0" stroke-width="0.6"/>
<circle cx="502.40" cy="188.34" r="1.4" fill="none" stroke="#4a6ee0" stroke-width="0.6"/>
<circle cx="504.10" cy="187.56" r="1.4" fill="none" stroke="#4a6ee0" stroke-width="0.6"/>
<circle cx="505.80" cy="189.15" r="1.4" fill="none" stroke="#4a6ee0" stroke-width="0.6"/>
<circle cx="507.50" cy="187.96" r="1.4" fill="none" stroke="#4a6ee0" stroke-width="0.6"/>
<circle cx="509.20" cy="189.18" r="1.4" fill="none" stroke="#4a6ee0" stroke-width="0.6"/>
<circle cx="510.90" cy="189.63" r="1.4" fill="none" stroke="#4a6ee0" stroke-width="0.6"/>
<circle cx="512.60" cy="188.13" r="1.4" fill="none" stroke="#4a6ee0" stroke-width="0.6"/>
<circle cx="514.30" cy="188.14" r="1.4" fill="none" stroke="#4a6ee0" stroke-width="0.6"/>
<path d="M379.50,188.60 L382.30,188.56 L386.25,188.50 L390.85,188.43 L395.60,188.36 L400.00,188.30 L404.08,188.25 L408.18,188.20 L412.24,188.16 L416.20,188.09 L420.00,188.00 L423.74,187.84 L427.45,187.62 L430.99,187.40 L434.22,187.24 L437.00,187.20 L439.06,187.33 L440.51,187.58 L441.73,187.90 L443.10,188.19 L445.00,188.40 L447.47,188.51 L450.26,188.58 L453.30,188.61 L456.57,188.61 L460.00,188.60 L463.68,188.56 L467.64,188.47 L471.76,188.37 L475.92,188.28 L480.00,188.20 L484.08,188.15 L488.24,188.11 L492.36,188.07 L496.32,188.04 L500.00,188.00 L503.56,187.96 L507.08,187.91 L510.32,187.87 L513.04,187.83 L515.00,187.80" stroke="#2f5be8" stroke-width="1.3" fill="none" stroke-linejoin="round" />
<circle cx="380.00" cy="186.48" r="1.35" fill="none" stroke="#e05050" stroke-width="0.6"/>
<circle cx="381.60" cy="186.00" r="1.35" fill="none" stroke="#e05050" stroke-width="0.6"/>
<circle cx="383.20" cy="184.86" r="1.35" fill="none" stroke="#e05050" stroke-width="0.6"/>
<circle cx="384.80" cy="184.73" r="1.35" fill="none" stroke="#e05050" stroke-width="0.6"/>
<circle cx="386.40" cy="184.74" r="1.35" fill="none" stroke="#e05050" stroke-width="0.6"/>
<circle cx="388.00" cy="186.20" r="1.35" fill="none" stroke="#e05050" stroke-width="0.6"/>
<circle cx="389.60" cy="185.95" r="1.35" fill="none" stroke="#e05050" stroke-width="0.6"/>
<circle cx="391.20" cy="184.57" r="1.35" fill="none" stroke="#e05050" stroke-width="0.6"/>
<circle cx="392.80" cy="185.88" r="1.35" fill="none" stroke="#e05050" stroke-width="0.6"/>
<circle cx="394.40" cy="186.13" r="1.35" fill="none" stroke="#e05050" stroke-width="0.6"/>
<circle cx="396.00" cy="185.42" r="1.35" fill="none" stroke="#e05050" stroke-width="0.6"/>
<circle cx="397.60" cy="184.74" r="1.35" fill="none" stroke="#e05050" stroke-width="0.6"/>
<circle cx="399.20" cy="185.06" r="1.35" fill="none" stroke="#e05050" stroke-width="0.6"/>
<circle cx="400.80" cy="184.11" r="1.35" fill="none" stroke="#e05050" stroke-width="0.6"/>
<circle cx="402.40" cy="183.74" r="1.35" fill="none" stroke="#e05050" stroke-width="0.6"/>
<circle cx="404.00" cy="185.48" r="1.35" fill="none" stroke="#e05050" stroke-width="0.6"/>
<circle cx="405.60" cy="184.64" r="1.35" fill="none" stroke="#e05050" stroke-width="0.6"/>
<circle cx="407.20" cy="184.16" r="1.35" fill="none" stroke="#e05050" stroke-width="0.6"/>
<circle cx="408.80" cy="184.73" r="1.35" fill="none" stroke="#e05050" stroke-width="0.6"/>
<circle cx="410.40" cy="183.46" r="1.35" fill="none" stroke="#e05050" stroke-width="0.6"/>
<circle cx="412.00" cy="184.05" r="1.35" fill="none" stroke="#e05050" stroke-width="0.6"/>
<circle cx="413.60" cy="183.63" r="1.35" fill="none" stroke="#e05050" stroke-width="0.6"/>
<circle cx="415.20" cy="182.05" r="1.35" fill="none" stroke="#e05050" stroke-width="0.6"/>
<circle cx="416.80" cy="181.74" r="1.35" fill="none" stroke="#e05050" stroke-width="0.6"/>
<circle cx="418.40" cy="181.38" r="1.35" fill="none" stroke="#e05050" stroke-width="0.6"/>
<circle cx="420.00" cy="180.76" r="1.35" fill="none" stroke="#e05050" stroke-width="0.6"/>
<circle cx="421.60" cy="180.87" r="1.35" fill="none" stroke="#e05050" stroke-width="0.6"/>
<circle cx="423.20" cy="179.59" r="1.35" fill="none" stroke="#e05050" stroke-width="0.6"/>
<circle cx="424.80" cy="179.22" r="1.35" fill="none" stroke="#e05050" stroke-width="0.6"/>
<circle cx="426.40" cy="177.86" r="1.35" fill="none" stroke="#e05050" stroke-width="0.6"/>
<circle cx="428.00" cy="178.42" r="1.35" fill="none" stroke="#e05050" stroke-width="0.6"/>
<circle cx="429.60" cy="176.23" r="1.35" fill="none" stroke="#e05050" stroke-width="0.6"/>
<circle cx="431.20" cy="176.58" r="1.35" fill="none" stroke="#e05050" stroke-width="0.6"/>
<circle cx="432.80" cy="175.02" r="1.35" fill="none" stroke="#e05050" stroke-width="0.6"/>
<circle cx="434.40" cy="174.41" r="1.35" fill="none" stroke="#e05050" stroke-width="0.6"/>
<circle cx="436.00" cy="173.92" r="1.35" fill="none" stroke="#e05050" stroke-width="0.6"/>
<circle cx="437.60" cy="173.81" r="1.35" fill="none" stroke="#e05050" stroke-width="0.6"/>
<circle cx="439.20" cy="173.14" r="1.35" fill="none" stroke="#e05050" stroke-width="0.6"/>
<circle cx="440.80" cy="175.42" r="1.35" fill="none" stroke="#e05050" stroke-width="0.6"/>
<circle cx="442.40" cy="179.76" r="1.35" fill="none" stroke="#e05050" stroke-width="0.6"/>
<circle cx="444.00" cy="181.34" r="1.35" fill="none" stroke="#e05050" stroke-width="0.6"/>
<circle cx="445.60" cy="187.48" r="1.35" fill="none" stroke="#e05050" stroke-width="0.6"/>
<circle cx="447.20" cy="191.01" r="1.35" fill="none" stroke="#e05050" stroke-width="0.6"/>
<circle cx="448.80" cy="193.02" r="1.35" fill="none" stroke="#e05050" stroke-width="0.6"/>
<circle cx="450.40" cy="196.38" r="1.35" fill="none" stroke="#e05050" stroke-width="0.6"/>
<circle cx="452.00" cy="199.94" r="1.35" fill="none" stroke="#e05050" stroke-width="0.6"/>
<circle cx="453.60" cy="200.65" r="1.35" fill="none" stroke="#e05050" stroke-width="0.6"/>
<circle cx="455.20" cy="202.15" r="1.35" fill="none" stroke="#e05050" stroke-width="0.6"/>
<circle cx="456.80" cy="201.08" r="1.35" fill="none" stroke="#e05050" stroke-width="0.6"/>
<circle cx="458.40" cy="200.28" r="1.35" fill="none" stroke="#e05050" stroke-width="0.6"/>
<circle cx="460.00" cy="199.29" r="1.35" fill="none" stroke="#e05050" stroke-width="0.6"/>
<circle cx="461.60" cy="198.38" r="1.35" fill="none" stroke="#e05050" stroke-width="0.6"/>
<circle cx="463.20" cy="198.01" r="1.35" fill="none" stroke="#e05050" stroke-width="0.6"/>
<circle cx="464.80" cy="197.64" r="1.35" fill="none" stroke="#e05050" stroke-width="0.6"/>
<circle cx="466.40" cy="195.43" r="1.35" fill="none" stroke="#e05050" stroke-width="0.6"/>
<circle cx="468.00" cy="195.28" r="1.35" fill="none" stroke="#e05050" stroke-width="0.6"/>
<circle cx="469.60" cy="192.26" r="1.35" fill="none" stroke="#e05050" stroke-width="0.6"/>
<circle cx="471.20" cy="192.53" r="1.35" fill="none" stroke="#e05050" stroke-width="0.6"/>
<circle cx="472.80" cy="191.10" r="1.35" fill="none" stroke="#e05050" stroke-width="0.6"/>
<circle cx="474.40" cy="190.79" r="1.35" fill="none" stroke="#e05050" stroke-width="0.6"/>
<circle cx="476.00" cy="189.86" r="1.35" fill="none" stroke="#e05050" stroke-width="0.6"/>
<circle cx="477.60" cy="190.51" r="1.35" fill="none" stroke="#e05050" stroke-width="0.6"/>
<circle cx="479.20" cy="190.25" r="1.35" fill="none" stroke="#e05050" stroke-width="0.6"/>
<circle cx="480.80" cy="190.03" r="1.35" fill="none" stroke="#e05050" stroke-width="0.6"/>
<circle cx="482.40" cy="188.13" r="1.35" fill="none" stroke="#e05050" stroke-width="0.6"/>
<circle cx="484.00" cy="188.88" r="1.35" fill="none" stroke="#e05050" stroke-width="0.6"/>
<circle cx="485.60" cy="188.43" r="1.35" fill="none" stroke="#e05050" stroke-width="0.6"/>
<circle cx="487.20" cy="187.08" r="1.35" fill="none" stroke="#e05050" stroke-width="0.6"/>
<circle cx="488.80" cy="188.26" r="1.35" fill="none" stroke="#e05050" stroke-width="0.6"/>
<circle cx="490.40" cy="188.16" r="1.35" fill="none" stroke="#e05050" stroke-width="0.6"/>
<circle cx="492.00" cy="186.42" r="1.35" fill="none" stroke="#e05050" stroke-width="0.6"/>
<circle cx="493.60" cy="187.67" r="1.35" fill="none" stroke="#e05050" stroke-width="0.6"/>
<circle cx="495.20" cy="186.37" r="1.35" fill="none" stroke="#e05050" stroke-width="0.6"/>
<circle cx="496.80" cy="186.40" r="1.35" fill="none" stroke="#e05050" stroke-width="0.6"/>
<circle cx="498.40" cy="187.28" r="1.35" fill="none" stroke="#e05050" stroke-width="0.6"/>
<circle cx="500.00" cy="186.86" r="1.35" fill="none" stroke="#e05050" stroke-width="0.6"/>
<circle cx="501.60" cy="185.42" r="1.35" fill="none" stroke="#e05050" stroke-width="0.6"/>
<circle cx="503.20" cy="185.87" r="1.35" fill="none" stroke="#e05050" stroke-width="0.6"/>
<circle cx="504.80" cy="185.94" r="1.35" fill="none" stroke="#e05050" stroke-width="0.6"/>
<circle cx="506.40" cy="185.50" r="1.35" fill="none" stroke="#e05050" stroke-width="0.6"/>
<circle cx="508.00" cy="185.14" r="1.35" fill="none" stroke="#e05050" stroke-width="0.6"/>
<circle cx="509.60" cy="185.32" r="1.35" fill="none" stroke="#e05050" stroke-width="0.6"/>
<circle cx="511.20" cy="186.07" r="1.35" fill="none" stroke="#e05050" stroke-width="0.6"/>
<circle cx="512.80" cy="184.61" r="1.35" fill="none" stroke="#e05050" stroke-width="0.6"/>
<circle cx="514.40" cy="185.63" r="1.35" fill="none" stroke="#e05050" stroke-width="0.6"/>
<circle cx="439.50" cy="176.10" r="1.35" fill="none" stroke="#e05050" stroke-width="0.6"/>
<circle cx="441.50" cy="178.10" r="1.35" fill="none" stroke="#e05050" stroke-width="0.6"/>
<circle cx="443.00" cy="180.10" r="1.35" fill="none" stroke="#e05050" stroke-width="0.6"/>
<circle cx="444.20" cy="182.60" r="1.35" fill="none" stroke="#e05050" stroke-width="0.6"/>
<circle cx="445.20" cy="185.10" r="1.35" fill="none" stroke="#e05050" stroke-width="0.6"/>
<circle cx="446.50" cy="188.60" r="1.35" fill="none" stroke="#e05050" stroke-width="0.6"/>
<circle cx="448.00" cy="192.10" r="1.35" fill="none" stroke="#e05050" stroke-width="0.6"/>
<circle cx="450.00" cy="196.10" r="1.35" fill="none" stroke="#e05050" stroke-width="0.6"/>
<circle cx="452.00" cy="199.10" r="1.35" fill="none" stroke="#e05050" stroke-width="0.6"/>
<circle cx="454.00" cy="202.10" r="1.35" fill="none" stroke="#e05050" stroke-width="0.6"/>
<circle cx="457.50" cy="203.10" r="1.35" fill="none" stroke="#e05050" stroke-width="0.6"/>
<circle cx="460.00" cy="202.40" r="1.35" fill="none" stroke="#e05050" stroke-width="0.6"/>
<circle cx="462.50" cy="201.10" r="1.35" fill="none" stroke="#e05050" stroke-width="0.6"/>
<circle cx="465.50" cy="199.10" r="1.35" fill="none" stroke="#e05050" stroke-width="0.6"/>
<circle cx="468.50" cy="197.40" r="1.35" fill="none" stroke="#e05050" stroke-width="0.6"/>
<path d="M379.30,185.60 L380.52,185.57 L382.20,185.54 L384.20,185.49 L386.37,185.44 L388.59,185.38 L390.70,185.30 L392.75,185.22 L394.87,185.15 L397.02,185.07 L399.19,184.96 L401.36,184.81 L403.50,184.60 L405.67,184.33 L407.89,184.01 L410.10,183.65 L412.26,183.26 L414.31,182.84 L416.20,182.40 L417.94,181.93 L419.57,181.43 L421.09,180.89 L422.51,180.35 L423.81,179.82 L425.00,179.30 L426.03,178.80 L426.90,178.31 L427.66,177.83 L428.36,177.35 L429.05,176.88 L429.80,176.40 L430.62,175.90 L431.46,175.37 L432.30,174.85 L433.11,174.36 L433.85,173.93 L434.50,173.60 L435.03,173.37 L435.47,173.20 L435.84,173.11 L436.19,173.06 L436.53,173.06 L436.90,173.10 L437.31,173.18 L437.72,173.31 L438.13,173.48 L438.54,173.69 L438.93,173.93 L439.30,174.20 L439.64,174.47 L439.94,174.76 L440.23,175.07 L440.52,175.43 L440.84,175.87 L441.20,176.40 L441.63,177.04 L442.12,177.77 L442.63,178.58 L443.14,179.44 L443.60,180.32 L444.00,181.20 L444.31,182.11 L444.54,183.07 L444.74,184.06 L444.93,185.05 L445.14,186.00 L445.40,186.90 L445.70,187.72 L446.01,188.47 L446.35,189.19 L446.71,189.92 L447.09,190.68 L447.50,191.50 L447.95,192.43 L448.43,193.44 L448.94,194.49 L449.47,195.52 L449.99,196.48 L450.50,197.30 L451.01,198.00 L451.53,198.63 L452.06,199.18 L452.57,199.66 L453.05,200.07 L453.50,200.40 L453.89,200.65 L454.24,200.80 L454.56,200.89 L454.87,200.92 L455.21,200.92 L455.60,200.90 L456.03,200.87 L456.49,200.80 L456.96,200.71 L457.46,200.57 L457.97,200.41 L458.50,200.20 L459.00,199.97 L459.47,199.73 L459.96,199.46 L460.51,199.12 L461.17,198.71 L462.00,198.20 L463.00,197.55 L464.13,196.77 L465.38,195.92 L466.72,195.04 L468.14,194.18 L469.60,193.40 L471.12,192.68 L472.71,191.99 L474.38,191.31 L476.12,190.67 L477.93,190.06 L479.80,189.50 L481.77,188.97 L483.86,188.48 L486.01,188.02 L488.19,187.60 L490.37,187.23 L492.50,186.90 L494.62,186.63 L496.77,186.43 L498.91,186.26 L501.02,186.13 L503.06,186.01 L505.00,185.90 L506.94,185.79 L508.92,185.71 L510.83,185.64 L512.57,185.58 L514.03,185.54 L515.10,185.50" stroke="#e02a2a" stroke-width="1.6" fill="none" stroke-linejoin="round" />
<rect x="379.00" y="142.30" width="136.40" height="94.90" fill="none" stroke="#444" stroke-width="1.35"/>
<line x1="377.20" y1="148.00" x2="379.00" y2="148.00" stroke="#333" stroke-width="0.8" />
<line x1="377.20" y1="154.08" x2="379.00" y2="154.08" stroke="#333" stroke-width="0.8" />
<line x1="377.20" y1="160.16" x2="379.00" y2="160.16" stroke="#333" stroke-width="0.8" />
<line x1="377.20" y1="166.24" x2="379.00" y2="166.24" stroke="#333" stroke-width="0.8" />
<line x1="377.20" y1="172.32" x2="379.00" y2="172.32" stroke="#333" stroke-width="0.8" />
<line x1="377.20" y1="178.40" x2="379.00" y2="178.40" stroke="#333" stroke-width="0.8" />
<line x1="377.20" y1="184.48" x2="379.00" y2="184.48" stroke="#333" stroke-width="0.8" />
<line x1="377.20" y1="190.56" x2="379.00" y2="190.56" stroke="#333" stroke-width="0.8" />
<line x1="377.20" y1="196.64" x2="379.00" y2="196.64" stroke="#333" stroke-width="0.8" />
<line x1="377.20" y1="202.72" x2="379.00" y2="202.72" stroke="#333" stroke-width="0.8" />
<line x1="377.20" y1="208.80" x2="379.00" y2="208.80" stroke="#333" stroke-width="0.8" />
<line x1="377.20" y1="214.88" x2="379.00" y2="214.88" stroke="#333" stroke-width="0.8" />
<line x1="377.20" y1="220.96" x2="379.00" y2="220.96" stroke="#333" stroke-width="0.8" />
<line x1="377.20" y1="227.04" x2="379.00" y2="227.04" stroke="#333" stroke-width="0.8" />
<line x1="377.20" y1="233.12" x2="379.00" y2="233.12" stroke="#333" stroke-width="0.8" />
<line x1="393.60" y1="237.20" x2="393.60" y2="238.80" stroke="#333" stroke-width="0.8" />
<text x="393.60" y="246.00" style="font-family:'Liberation Serif',serif;font-size:7.0px;font-weight:bold" text-anchor="middle" fill="#333" stroke="#333" stroke-width="0.1" >-40</text>
<line x1="420.60" y1="237.20" x2="420.60" y2="238.80" stroke="#333" stroke-width="0.8" />
<text x="420.60" y="246.00" style="font-family:'Liberation Serif',serif;font-size:7.0px;font-weight:bold" text-anchor="middle" fill="#333" stroke="#333" stroke-width="0.1" >-20</text>
<line x1="447.60" y1="237.20" x2="447.60" y2="238.80" stroke="#333" stroke-width="0.8" />
<text x="447.60" y="246.00" style="font-family:'Liberation Serif',serif;font-size:7.0px;font-weight:bold" text-anchor="middle" fill="#333" stroke="#333" stroke-width="0.1" >0</text>
<line x1="474.60" y1="237.20" x2="474.60" y2="238.80" stroke="#333" stroke-width="0.8" />
<text x="474.60" y="246.00" style="font-family:'Liberation Serif',serif;font-size:7.0px;font-weight:bold" text-anchor="middle" fill="#333" stroke="#333" stroke-width="0.1" >20</text>
<line x1="501.60" y1="237.20" x2="501.60" y2="238.80" stroke="#333" stroke-width="0.8" />
<text x="501.60" y="246.00" style="font-family:'Liberation Serif',serif;font-size:7.0px;font-weight:bold" text-anchor="middle" fill="#333" stroke="#333" stroke-width="0.1" >40</text>
<line x1="407.10" y1="237.20" x2="407.10" y2="238.40" stroke="#333" stroke-width="0.7" />
<line x1="434.10" y1="237.20" x2="434.10" y2="238.40" stroke="#333" stroke-width="0.7" />
<line x1="461.10" y1="237.20" x2="461.10" y2="238.40" stroke="#333" stroke-width="0.7" />
<line x1="488.10" y1="237.20" x2="488.10" y2="238.40" stroke="#333" stroke-width="0.7" />
<text x="447.60" y="257.20" style="font-family:'Liberation Sans',sans-serif;font-size:8.0px;font-weight:bold" text-anchor="middle" fill="#1a1a1a" stroke="#1a1a1a" stroke-width="0.2" >Z (mm)</text>
<text x="0" y="0" transform="translate(368.40,189.90) rotate(-90)" style="font-family:'Liberation Sans',sans-serif;font-size:7.9px;font-weight:bold" text-anchor="middle" fill="#222" stroke="#222" stroke-width="0.15">Normalized Transmittance</text>
<text x="380.20" y="167.60" style="font-family:'Liberation Serif',serif;font-size:9.1px;font-weight:bold" text-anchor="start" fill="#111" stroke="#111" stroke-width="0.25" >MoS<tspan dy="2.2" font-size="6.0">2</tspan><tspan dy="-2.2">/BP/MoS</tspan><tspan dy="2.2" font-size="6.0">2</tspan></text>
<circle cx="474.20" cy="149.00" r="1.2" fill="none" stroke="#e06060" stroke-width="0.7"/>
<circle cx="474.20" cy="159.40" r="1.2" fill="none" stroke="#5070e0" stroke-width="0.7"/>
<text x="510.30" y="151.90" style="font-family:'Liberation Serif',serif;font-size:8.4px;font-weight:bold" text-anchor="end" fill="#111" stroke="#111" stroke-width="0.25" >220 nJ</text>
<text x="510.30" y="162.30" style="font-family:'Liberation Serif',serif;font-size:8.4px;font-weight:bold" text-anchor="end" fill="#111" stroke="#111" stroke-width="0.25" >180 nJ</text>
<text x="510.30" y="172.80" style="font-family:'Liberation Serif',serif;font-size:8.6px;font-weight:bold" text-anchor="end" fill="#111" stroke="#111" stroke-width="0.25" >@1550 nm</text>
<defs>
<radialGradient id="gy" cx="0.38" cy="0.35" r="0.7"><stop offset="0" stop-color="#fae878"/><stop offset="0.5" stop-color="#e8b818"/><stop offset="1" stop-color="#a87a08"/></radialGradient>
<radialGradient id="gy2" cx="0.38" cy="0.35" r="0.7"><stop offset="0" stop-color="#f0cc48"/><stop offset="0.5" stop-color="#d4a010"/><stop offset="1" stop-color="#946408"/></radialGradient>
<radialGradient id="gp" cx="0.38" cy="0.35" r="0.7"><stop offset="0" stop-color="#c878e8"/><stop offset="0.45" stop-color="#8a28b8"/><stop offset="1" stop-color="#4a0e68"/></radialGradient>
<linearGradient id="lgold" x1="0" y1="0" x2="0" y2="1"><stop offset="0" stop-color="#e8b818"/><stop offset="1" stop-color="#b88008"/></linearGradient>
<linearGradient id="lpur" x1="0" y1="0" x2="0" y2="1"><stop offset="0" stop-color="#5a1a80"/><stop offset="0.5" stop-color="#300a48"/><stop offset="1" stop-color="#6a2098"/></linearGradient>
</defs>
<text x="359.50" y="15.60" style="font-family:'Liberation Sans',sans-serif;font-size:9.6px;font-weight:bold" text-anchor="start" fill="#1a1a1a" stroke="#1a1a1a" stroke-width="0.45" >(e)</text>
<path d="M374.00,33.80 L376.00,33.59 L378.00,33.38 L380.00,33.17 L382.00,32.96 L384.00,32.75 L386.00,32.54 L388.00,32.33 L390.00,32.12 L392.00,31.91 L394.00,31.70 L396.00,31.59 L398.00,31.56 L400.00,31.54 L402.00,31.51 L404.00,31.49 L406.00,31.46 L408.00,31.44 L410.00,31.41 L412.00,31.39 L414.00,31.36 L416.00,31.34 L418.00,31.31 L420.00,31.29 L422.00,31.26 L424.00,31.24 L426.00,31.21 L428.00,31.19 L430.00,31.16 L432.00,31.14 L434.00,31.11 L436.00,31.09 L438.00,31.06 L440.00,31.04 L442.00,31.01 L444.00,31.01 L446.00,31.02 L448.00,31.04 L450.00,31.05 L452.00,31.07 L454.00,31.08 L456.00,31.10 L458.00,31.12 L460.00,31.13 L462.00,31.15 L464.00,31.16 L466.00,31.18 L468.00,31.19 L470.00,31.21 L472.00,31.22 L474.00,31.24 L476.00,31.25 L478.00,31.27 L480.00,31.28 L482.00,31.30 L484.00,31.32 L486.00,31.33 L488.00,31.35 L490.00,31.36 L492.00,31.38 L494.00,31.39 L496.00,31.46 L498.00,31.59 L500.00,31.72 L502.00,31.85 L504.00,31.98 L506.00,32.11 L508.00,32.24 L510.00,32.37 L512.00,32.50 L512.00,38.40 L510.00,38.47 L508.00,38.60 L506.00,38.73 L504.00,38.87 L502.00,39.00 L500.00,39.13 L498.00,39.27 L496.00,39.40 L494.00,39.53 L492.00,39.67 L490.00,39.80 L488.00,39.83 L486.00,39.87 L484.00,39.90 L482.00,39.94 L480.00,39.97 L478.00,40.00 L476.00,40.04 L474.00,40.07 L472.00,40.11 L470.00,40.14 L468.00,40.17 L466.00,40.21 L464.00,40.24 L462.00,40.28 L460.00,40.31 L458.00,40.34 L456.00,40.38 L454.00,40.41 L452.00,40.45 L450.00,40.48 L448.00,40.51 L446.00,40.55 L444.00,40.58 L442.00,40.59 L440.00,40.56 L438.00,40.53 L436.00,40.50 L434.00,40.47 L432.00,40.45 L430.00,40.42 L428.00,40.39 L426.00,40.36 L424.00,40.33 L422.00,40.31 L420.00,40.28 L418.00,40.25 L416.00,40.22 L414.00,40.20 L412.00,40.17 L410.00,40.14 L408.00,40.11 L406.00,40.08 L404.00,40.06 L402.00,40.03 L400.00,40.00 L398.00,39.90 L396.00,39.81 L394.00,39.71 L392.00,39.62 L390.00,39.52 L388.00,39.42 L386.00,39.33 L384.00,39.23 L382.00,39.14 L380.00,39.04 L378.00,38.94 L376.00,38.85 L374.00,38.80 L374.00,33.80" stroke="none" stroke-width="0" fill="#3a302a" stroke-linejoin="round" />
<path d="M374.00,38.60 L376.00,38.65 L378.00,38.74 L380.00,38.84 L382.00,38.94 L384.00,39.03 L386.00,39.13 L388.00,39.22 L390.00,39.32 L392.00,39.42 L394.00,39.51 L396.00,39.61 L398.00,39.70 L400.00,39.80 L402.00,39.83 L404.00,39.86 L406.00,39.88 L408.00,39.91 L410.00,39.94 L412.00,39.97 L414.00,40.00 L416.00,40.02 L418.00,40.05 L420.00,40.08 L422.00,40.11 L424.00,40.13 L426.00,40.16 L428.00,40.19 L430.00,40.22 L432.00,40.25 L434.00,40.27 L436.00,40.30 L438.00,40.33 L440.00,40.36 L442.00,40.39 L444.00,40.38 L446.00,40.35 L448.00,40.31 L450.00,40.28 L452.00,40.25 L454.00,40.21 L456.00,40.18 L458.00,40.14 L460.00,40.11 L462.00,40.08 L464.00,40.04 L466.00,40.01 L468.00,39.97 L470.00,39.94 L472.00,39.91 L474.00,39.87 L476.00,39.84 L478.00,39.80 L480.00,39.77 L482.00,39.74 L484.00,39.70 L486.00,39.67 L488.00,39.63 L490.00,39.60 L492.00,39.47 L494.00,39.33 L496.00,39.20 L498.00,39.07 L500.00,38.93 L502.00,38.80 L504.00,38.67 L506.00,38.53 L508.00,38.40 L510.00,38.27 L510.00,43.57 L508.00,43.70 L506.00,43.83 L504.00,43.97 L502.00,44.10 L500.00,44.23 L498.00,44.37 L496.00,44.50 L494.00,44.63 L492.00,44.77 L490.00,44.90 L488.00,44.93 L486.00,44.97 L484.00,45.00 L482.00,45.04 L480.00,45.07 L478.00,45.10 L476.00,45.14 L474.00,45.17 L472.00,45.21 L470.00,45.24 L468.00,45.27 L466.00,45.31 L464.00,45.34 L462.00,45.38 L460.00,45.41 L458.00,45.44 L456.00,45.48 L454.00,45.51 L452.00,45.55 L450.00,45.58 L448.00,45.61 L446.00,45.65 L444.00,45.68 L442.00,45.69 L440.00,45.66 L438.00,45.63 L436.00,45.60 L434.00,45.57 L432.00,45.55 L430.00,45.52 L428.00,45.49 L426.00,45.46 L424.00,45.43 L422.00,45.41 L420.00,45.38 L418.00,45.35 L416.00,45.32 L414.00,45.30 L412.00,45.27 L410.00,45.24 L408.00,45.21 L406.00,45.18 L404.00,45.16 L402.00,45.13 L400.00,45.10 L398.00,45.00 L396.00,44.91 L394.00,44.81 L392.00,44.72 L390.00,44.62 L388.00,44.52 L386.00,44.43 L384.00,44.33 L382.00,44.24 L380.00,44.14 L378.00,44.04 L376.00,43.95 L374.00,43.90 L374.00,38.60" stroke="none" stroke-width="0" fill="url(#lgold)" stroke-linejoin="round" />
<line x1="375.00" y1="33.90" x2="377.40" y2="38.80" stroke="#111" stroke-width="0.7" />
<line x1="380.00" y1="33.37" x2="382.40" y2="39.04" stroke="#111" stroke-width="0.7" />
<line x1="385.00" y1="32.85" x2="387.40" y2="39.28" stroke="#111" stroke-width="0.7" />
<line x1="390.00" y1="32.32" x2="392.40" y2="39.52" stroke="#111" stroke-width="0.7" />
<line x1="395.00" y1="31.80" x2="397.40" y2="39.76" stroke="#111" stroke-width="0.7" />
<line x1="400.00" y1="31.74" x2="402.40" y2="40.00" stroke="#111" stroke-width="0.7" />
<line x1="405.00" y1="31.68" x2="407.40" y2="40.07" stroke="#111" stroke-width="0.7" />
<line x1="410.00" y1="31.61" x2="412.40" y2="40.14" stroke="#111" stroke-width="0.7" />
<line x1="415.00" y1="31.55" x2="417.40" y2="40.21" stroke="#111" stroke-width="0.7" />
<line x1="420.00" y1="31.49" x2="422.40" y2="40.28" stroke="#111" stroke-width="0.7" />
<line x1="425.00" y1="31.43" x2="427.40" y2="40.35" stroke="#111" stroke-width="0.7" />
<line x1="430.00" y1="31.36" x2="432.40" y2="40.42" stroke="#111" stroke-width="0.7" />
<line x1="435.00" y1="31.30" x2="437.40" y2="40.49" stroke="#111" stroke-width="0.7" />
<line x1="440.00" y1="31.24" x2="442.40" y2="40.56" stroke="#111" stroke-width="0.7" />
<line x1="445.00" y1="31.22" x2="447.40" y2="40.57" stroke="#111" stroke-width="0.7" />
<line x1="450.00" y1="31.25" x2="452.40" y2="40.48" stroke="#111" stroke-width="0.7" />
<line x1="455.00" y1="31.29" x2="457.40" y2="40.40" stroke="#111" stroke-width="0.7" />
<line x1="460.00" y1="31.33" x2="462.40" y2="40.31" stroke="#111" stroke-width="0.7" />
<line x1="465.00" y1="31.37" x2="467.40" y2="40.23" stroke="#111" stroke-width="0.7" />
<line x1="470.00" y1="31.41" x2="472.40" y2="40.14" stroke="#111" stroke-width="0.7" />
<line x1="475.00" y1="31.45" x2="477.40" y2="40.06" stroke="#111" stroke-width="0.7" />
<line x1="480.00" y1="31.48" x2="482.40" y2="39.97" stroke="#111" stroke-width="0.7" />
<line x1="485.00" y1="31.52" x2="487.40" y2="39.89" stroke="#111" stroke-width="0.7" />
<line x1="490.00" y1="31.56" x2="492.40" y2="39.80" stroke="#111" stroke-width="0.7" />
<line x1="495.00" y1="31.60" x2="497.40" y2="39.47" stroke="#111" stroke-width="0.7" />
<line x1="500.00" y1="31.92" x2="502.40" y2="39.13" stroke="#111" stroke-width="0.7" />
<line x1="505.00" y1="32.25" x2="507.40" y2="38.80" stroke="#111" stroke-width="0.7" />
<line x1="510.00" y1="32.57" x2="512.40" y2="38.47" stroke="#111" stroke-width="0.7" />
<circle cx="435.14" cy="32.04" r="0.7657489445709953" fill="#c89a20" stroke="none" stroke-width="0.5"/>
<circle cx="459.36" cy="35.92" r="0.6321453962953759" fill="#c89a20" stroke="none" stroke-width="0.5"/>
<circle cx="507.03" cy="36.99" r="1.0858479793235372" fill="#c89a20" stroke="none" stroke-width="0.5"/>
<circle cx="390.83" cy="34.46" r="0.6197940949570339" fill="#c89a20" stroke="none" stroke-width="0.5"/>
<circle cx="479.83" cy="34.05" r="0.6647777796528387" fill="#c89a20" stroke="none" stroke-width="0.5"/>
<circle cx="432.74" cy="39.15" r="1.0094894898906408" fill="#c89a20" stroke="none" stroke-width="0.5"/>
<circle cx="411.14" cy="33.30" r="1.0595857542558857" fill="#c89a20" stroke="none" stroke-width="0.5"/>
<circle cx="452.32" cy="37.45" r="0.6447311039234038" fill="#c89a20" stroke="none" stroke-width="0.5"/>
<circle cx="384.59" cy="37.05" r="0.8126585203978614" fill="#c89a20" stroke="none" stroke-width="0.5"/>
<circle cx="386.56" cy="38.42" r="0.9172197531482797" fill="#c89a20" stroke="none" stroke-width="0.5"/>
<circle cx="482.81" cy="32.71" r="1.0281143181860746" fill="#c89a20" stroke="none" stroke-width="0.5"/>
<circle cx="385.79" cy="37.98" r="0.8268867604864625" fill="#c89a20" stroke="none" stroke-width="0.5"/>
<circle cx="421.77" cy="36.29" r="1.0633346420356138" fill="#c89a20" stroke="none" stroke-width="0.5"/>
<circle cx="412.36" cy="33.14" r="0.8634575132635859" fill="#c89a20" stroke="none" stroke-width="0.5"/>
<circle cx="408.47" cy="33.03" r="0.6807245457988057" fill="#c89a20" stroke="none" stroke-width="0.5"/>
<circle cx="383.65" cy="34.60" r="0.7559962020392385" fill="#c89a20" stroke="none" stroke-width="0.5"/>
<circle cx="417.26" cy="37.83" r="0.7449804173621791" fill="#c89a20" stroke="none" stroke-width="0.5"/>
<circle cx="443.01" cy="33.26" r="0.7735005110639295" fill="#c89a20" stroke="none" stroke-width="0.5"/>
<circle cx="379.40" cy="35.13" r="0.6076730587275099" fill="#c89a20" stroke="none" stroke-width="0.5"/>
<circle cx="473.77" cy="36.14" r="0.6947282482468892" fill="#c89a20" stroke="none" stroke-width="0.5"/>
<circle cx="439.67" cy="39.42" r="0.6531406725135457" fill="#c89a20" stroke="none" stroke-width="0.5"/>
<circle cx="485.10" cy="35.22" r="0.8475007867288078" fill="#c89a20" stroke="none" stroke-width="0.5"/>
<circle cx="487.17" cy="34.93" r="0.8533429760775828" fill="#c89a20" stroke="none" stroke-width="0.5"/>
<circle cx="467.78" cy="39.44" r="0.7713523127087373" fill="#c89a20" stroke="none" stroke-width="0.5"/>
<circle cx="486.86" cy="37.17" r="0.9179884744425073" fill="#c89a20" stroke="none" stroke-width="0.5"/>
<circle cx="430.42" cy="34.69" r="0.6271942683942181" fill="#c89a20" stroke="none" stroke-width="0.5"/>
<circle cx="394.14" cy="32.96" r="0.9704445990914639" fill="#c89a20" stroke="none" stroke-width="0.5"/>
<circle cx="410.74" cy="33.40" r="0.6422424363539654" fill="#c89a20" stroke="none" stroke-width="0.5"/>
<circle cx="488.05" cy="38.32" r="0.9352716489543393" fill="#c89a20" stroke="none" stroke-width="0.5"/>
<circle cx="414.22" cy="33.96" r="0.7465292462901677" fill="#c89a20" stroke="none" stroke-width="0.5"/>
<circle cx="437.65" cy="33.14" r="0.8229123041168702" fill="#c89a20" stroke="none" stroke-width="0.5"/>
<circle cx="411.75" cy="39.28" r="1.0863114989731883" fill="#c89a20" stroke="none" stroke-width="0.5"/>
<circle cx="449.21" cy="33.81" r="1.0828333850293927" fill="#c89a20" stroke="none" stroke-width="0.5"/>
<circle cx="417.86" cy="34.80" r="0.6005344574724614" fill="#c89a20" stroke="none" stroke-width="0.5"/>
<circle cx="427.37" cy="35.69" r="0.8513820031881998" fill="#c89a20" stroke="none" stroke-width="0.5"/>
<circle cx="403.53" cy="35.91" r="0.6024752657519716" fill="#c89a20" stroke="none" stroke-width="0.5"/>
<circle cx="411.87" cy="32.85" r="0.7997555851444629" fill="#c89a20" stroke="none" stroke-width="0.5"/>
<circle cx="382.50" cy="33.82" r="0.7521222801121692" fill="#c89a20" stroke="none" stroke-width="0.5"/>
<circle cx="407.73" cy="36.50" r="0.864594774146555" fill="#c89a20" stroke="none" stroke-width="0.5"/>
<circle cx="476.07" cy="36.91" r="0.9579967200161558" fill="#c89a20" stroke="none" stroke-width="0.5"/>
<circle cx="493.04" cy="34.84" r="0.7630673770631747" fill="#c89a20" stroke="none" stroke-width="0.5"/>
<circle cx="506.98" cy="33.74" r="0.9620778866809129" fill="#c89a20" stroke="none" stroke-width="0.5"/>
<circle cx="461.90" cy="32.28" r="1.017644771616947" fill="#c89a20" stroke="none" stroke-width="0.5"/>
<circle cx="494.74" cy="36.39" r="0.966926061738481" fill="#c89a20" stroke="none" stroke-width="0.5"/>
<circle cx="484.21" cy="33.12" r="0.8618786422642587" fill="#c89a20" stroke="none" stroke-width="0.5"/>
<circle cx="443.58" cy="38.64" r="1.0023388028743856" fill="#c89a20" stroke="none" stroke-width="0.5"/>
<circle cx="486.09" cy="36.30" r="1.046414868202754" fill="#c89a20" stroke="none" stroke-width="0.5"/>
<circle cx="467.14" cy="37.26" r="0.714970360268249" fill="#c89a20" stroke="none" stroke-width="0.5"/>
<circle cx="381.11" cy="34.47" r="0.7803537382167431" fill="#c89a20" stroke="none" stroke-width="0.5"/>
<circle cx="390.85" cy="37.96" r="0.8792636232479674" fill="#c89a20" stroke="none" stroke-width="0.5"/>
<circle cx="459.87" cy="36.80" r="0.9403320880404102" fill="#c89a20" stroke="none" stroke-width="0.5"/>
<circle cx="441.59" cy="31.84" r="0.9988487760354263" fill="#c89a20" stroke="none" stroke-width="0.5"/>
<circle cx="475.77" cy="35.77" r="0.8675999071148854" fill="#c89a20" stroke="none" stroke-width="0.5"/>
<circle cx="464.03" cy="32.47" r="0.9683941642711253" fill="#c89a20" stroke="none" stroke-width="0.5"/>
<circle cx="410.29" cy="32.75" r="0.7327791110976994" fill="#c89a20" stroke="none" stroke-width="0.5"/>
<circle cx="379.50" cy="42.42" r="1.9" fill="url(#gy2)" stroke="none" stroke-width="0.5"/>
<circle cx="384.50" cy="42.66" r="1.9" fill="url(#gy2)" stroke="none" stroke-width="0.5"/>
<circle cx="389.50" cy="42.90" r="1.9" fill="url(#gy2)" stroke="none" stroke-width="0.5"/>
<circle cx="394.50" cy="43.14" r="1.9" fill="url(#gy2)" stroke="none" stroke-width="0.5"/>
<circle cx="399.50" cy="43.38" r="1.9" fill="url(#gy2)" stroke="none" stroke-width="0.5"/>
<circle cx="404.50" cy="43.46" r="1.9" fill="url(#gy2)" stroke="none" stroke-width="0.5"/>
<circle cx="409.50" cy="43.53" r="1.9" fill="url(#gy2)" stroke="none" stroke-width="0.5"/>
<circle cx="414.50" cy="43.60" r="1.9" fill="url(#gy2)" stroke="none" stroke-width="0.5"/>
<circle cx="419.50" cy="43.67" r="1.9" fill="url(#gy2)" stroke="none" stroke-width="0.5"/>
<circle cx="424.50" cy="43.74" r="1.9" fill="url(#gy2)" stroke="none" stroke-width="0.5"/>
<circle cx="429.50" cy="43.81" r="1.9" fill="url(#gy2)" stroke="none" stroke-width="0.5"/>
<circle cx="434.50" cy="43.88" r="1.9" fill="url(#gy2)" stroke="none" stroke-width="0.5"/>
<circle cx="439.50" cy="43.95" r="1.9" fill="url(#gy2)" stroke="none" stroke-width="0.5"/>
<circle cx="444.50" cy="43.97" r="1.9" fill="url(#gy2)" stroke="none" stroke-width="0.5"/>
<circle cx="449.50" cy="43.89" r="1.9" fill="url(#gy2)" stroke="none" stroke-width="0.5"/>
<circle cx="454.50" cy="43.80" r="1.9" fill="url(#gy2)" stroke="none" stroke-width="0.5"/>
<circle cx="459.50" cy="43.72" r="1.9" fill="url(#gy2)" stroke="none" stroke-width="0.5"/>
<circle cx="464.50" cy="43.63" r="1.9" fill="url(#gy2)" stroke="none" stroke-width="0.5"/>
<circle cx="469.50" cy="43.55" r="1.9" fill="url(#gy2)" stroke="none" stroke-width="0.5"/>
<circle cx="474.50" cy="43.46" r="1.9" fill="url(#gy2)" stroke="none" stroke-width="0.5"/>
<circle cx="479.50" cy="43.38" r="1.9" fill="url(#gy2)" stroke="none" stroke-width="0.5"/>
<circle cx="484.50" cy="43.29" r="1.9" fill="url(#gy2)" stroke="none" stroke-width="0.5"/>
<circle cx="489.50" cy="43.21" r="1.9" fill="url(#gy2)" stroke="none" stroke-width="0.5"/>
<circle cx="494.50" cy="42.90" r="1.9" fill="url(#gy2)" stroke="none" stroke-width="0.5"/>
<circle cx="499.50" cy="42.57" r="1.9" fill="url(#gy2)" stroke="none" stroke-width="0.5"/>
<circle cx="504.50" cy="42.23" r="1.9" fill="url(#gy2)" stroke="none" stroke-width="0.5"/>
<circle cx="509.50" cy="41.90" r="1.9" fill="url(#gy2)" stroke="none" stroke-width="0.5"/>
<circle cx="377.00" cy="40.00" r="1.9" fill="url(#gy)" stroke="none" stroke-width="0.5"/>
<circle cx="382.00" cy="40.24" r="1.9" fill="url(#gy)" stroke="none" stroke-width="0.5"/>
<circle cx="387.00" cy="40.48" r="1.9" fill="url(#gy)" stroke="none" stroke-width="0.5"/>
<circle cx="392.00" cy="40.72" r="1.9" fill="url(#gy)" stroke="none" stroke-width="0.5"/>
<circle cx="397.00" cy="40.96" r="1.9" fill="url(#gy)" stroke="none" stroke-width="0.5"/>
<circle cx="402.00" cy="41.13" r="1.9" fill="url(#gy)" stroke="none" stroke-width="0.5"/>
<circle cx="407.00" cy="41.20" r="1.9" fill="url(#gy)" stroke="none" stroke-width="0.5"/>
<circle cx="412.00" cy="41.27" r="1.9" fill="url(#gy)" stroke="none" stroke-width="0.5"/>
<circle cx="417.00" cy="41.34" r="1.9" fill="url(#gy)" stroke="none" stroke-width="0.5"/>
<circle cx="422.00" cy="41.41" r="1.9" fill="url(#gy)" stroke="none" stroke-width="0.5"/>
<circle cx="427.00" cy="41.48" r="1.9" fill="url(#gy)" stroke="none" stroke-width="0.5"/>
<circle cx="432.00" cy="41.55" r="1.9" fill="url(#gy)" stroke="none" stroke-width="0.5"/>
<circle cx="437.00" cy="41.62" r="1.9" fill="url(#gy)" stroke="none" stroke-width="0.5"/>
<circle cx="442.00" cy="41.69" r="1.9" fill="url(#gy)" stroke="none" stroke-width="0.5"/>
<circle cx="447.00" cy="41.63" r="1.9" fill="url(#gy)" stroke="none" stroke-width="0.5"/>
<circle cx="452.00" cy="41.55" r="1.9" fill="url(#gy)" stroke="none" stroke-width="0.5"/>
<circle cx="457.00" cy="41.46" r="1.9" fill="url(#gy)" stroke="none" stroke-width="0.5"/>
<circle cx="462.00" cy="41.38" r="1.9" fill="url(#gy)" stroke="none" stroke-width="0.5"/>
<circle cx="467.00" cy="41.29" r="1.9" fill="url(#gy)" stroke="none" stroke-width="0.5"/>
<circle cx="472.00" cy="41.21" r="1.9" fill="url(#gy)" stroke="none" stroke-width="0.5"/>
<circle cx="477.00" cy="41.12" r="1.9" fill="url(#gy)" stroke="none" stroke-width="0.5"/>
<circle cx="482.00" cy="41.04" r="1.9" fill="url(#gy)" stroke="none" stroke-width="0.5"/>
<circle cx="487.00" cy="40.95" r="1.9" fill="url(#gy)" stroke="none" stroke-width="0.5"/>
<circle cx="492.00" cy="40.77" r="1.9" fill="url(#gy)" stroke="none" stroke-width="0.5"/>
<circle cx="497.00" cy="40.43" r="1.9" fill="url(#gy)" stroke="none" stroke-width="0.5"/>
<circle cx="502.00" cy="40.10" r="1.9" fill="url(#gy)" stroke="none" stroke-width="0.5"/>
<circle cx="507.00" cy="39.77" r="1.9" fill="url(#gy)" stroke="none" stroke-width="0.5"/>
<circle cx="379.00" cy="33.88" r="1.6" fill="url(#gy2)" stroke="none" stroke-width="0.5"/>
<circle cx="384.00" cy="33.35" r="1.6" fill="url(#gy2)" stroke="none" stroke-width="0.5"/>
<circle cx="389.00" cy="32.83" r="1.6" fill="url(#gy2)" stroke="none" stroke-width="0.5"/>
<circle cx="394.00" cy="32.30" r="1.6" fill="url(#gy2)" stroke="none" stroke-width="0.5"/>
<circle cx="399.00" cy="32.15" r="1.6" fill="url(#gy2)" stroke="none" stroke-width="0.5"/>
<circle cx="404.00" cy="32.09" r="1.6" fill="url(#gy2)" stroke="none" stroke-width="0.5"/>
<circle cx="409.00" cy="32.02" r="1.6" fill="url(#gy2)" stroke="none" stroke-width="0.5"/>
<circle cx="414.00" cy="31.96" r="1.6" fill="url(#gy2)" stroke="none" stroke-width="0.5"/>
<circle cx="419.00" cy="31.90" r="1.6" fill="url(#gy2)" stroke="none" stroke-width="0.5"/>
<circle cx="424.00" cy="31.84" r="1.6" fill="url(#gy2)" stroke="none" stroke-width="0.5"/>
<circle cx="429.00" cy="31.78" r="1.6" fill="url(#gy2)" stroke="none" stroke-width="0.5"/>
<circle cx="434.00" cy="31.71" r="1.6" fill="url(#gy2)" stroke="none" stroke-width="0.5"/>
<circle cx="439.00" cy="31.65" r="1.6" fill="url(#gy2)" stroke="none" stroke-width="0.5"/>
<circle cx="444.00" cy="31.61" r="1.6" fill="url(#gy2)" stroke="none" stroke-width="0.5"/>
<circle cx="449.00" cy="31.65" r="1.6" fill="url(#gy2)" stroke="none" stroke-width="0.5"/>
<circle cx="454.00" cy="31.68" r="1.6" fill="url(#gy2)" stroke="none" stroke-width="0.5"/>
<circle cx="459.00" cy="31.72" r="1.6" fill="url(#gy2)" stroke="none" stroke-width="0.5"/>
<circle cx="464.00" cy="31.76" r="1.6" fill="url(#gy2)" stroke="none" stroke-width="0.5"/>
<circle cx="469.00" cy="31.80" r="1.6" fill="url(#gy2)" stroke="none" stroke-width="0.5"/>
<circle cx="474.00" cy="31.84" r="1.6" fill="url(#gy2)" stroke="none" stroke-width="0.5"/>
<circle cx="479.00" cy="31.88" r="1.6" fill="url(#gy2)" stroke="none" stroke-width="0.5"/>
<circle cx="484.00" cy="31.92" r="1.6" fill="url(#gy2)" stroke="none" stroke-width="0.5"/>
<circle cx="489.00" cy="31.95" r="1.6" fill="url(#gy2)" stroke="none" stroke-width="0.5"/>
<circle cx="494.00" cy="31.99" r="1.6" fill="url(#gy2)" stroke="none" stroke-width="0.5"/>
<circle cx="499.00" cy="32.26" r="1.6" fill="url(#gy2)" stroke="none" stroke-width="0.5"/>
<circle cx="504.00" cy="32.58" r="1.6" fill="url(#gy2)" stroke="none" stroke-width="0.5"/>
<circle cx="509.00" cy="32.91" r="1.6" fill="url(#gy2)" stroke="none" stroke-width="0.5"/>
<circle cx="514.00" cy="33.10" r="1.6" fill="url(#gy2)" stroke="none" stroke-width="0.5"/>
<circle cx="376.50" cy="32.34" r="1.95" fill="url(#gy)" stroke="none" stroke-width="0.5"/>
<circle cx="381.50" cy="31.81" r="1.95" fill="url(#gy)" stroke="none" stroke-width="0.5"/>
<circle cx="386.50" cy="31.29" r="1.95" fill="url(#gy)" stroke="none" stroke-width="0.5"/>
<circle cx="391.50" cy="30.77" r="1.95" fill="url(#gy)" stroke="none" stroke-width="0.5"/>
<circle cx="396.50" cy="30.38" r="1.95" fill="url(#gy)" stroke="none" stroke-width="0.5"/>
<circle cx="401.50" cy="30.32" r="1.95" fill="url(#gy)" stroke="none" stroke-width="0.5"/>
<circle cx="406.50" cy="30.26" r="1.95" fill="url(#gy)" stroke="none" stroke-width="0.5"/>
<circle cx="411.50" cy="30.19" r="1.95" fill="url(#gy)" stroke="none" stroke-width="0.5"/>
<circle cx="416.50" cy="30.13" r="1.95" fill="url(#gy)" stroke="none" stroke-width="0.5"/>
<circle cx="421.50" cy="30.07" r="1.95" fill="url(#gy)" stroke="none" stroke-width="0.5"/>
<circle cx="426.50" cy="30.01" r="1.95" fill="url(#gy)" stroke="none" stroke-width="0.5"/>
<circle cx="431.50" cy="29.94" r="1.95" fill="url(#gy)" stroke="none" stroke-width="0.5"/>
<circle cx="436.50" cy="29.88" r="1.95" fill="url(#gy)" stroke="none" stroke-width="0.5"/>
<circle cx="441.50" cy="29.82" r="1.95" fill="url(#gy)" stroke="none" stroke-width="0.5"/>
<circle cx="446.50" cy="29.83" r="1.95" fill="url(#gy)" stroke="none" stroke-width="0.5"/>
<circle cx="451.50" cy="29.87" r="1.95" fill="url(#gy)" stroke="none" stroke-width="0.5"/>
<circle cx="456.50" cy="29.90" r="1.95" fill="url(#gy)" stroke="none" stroke-width="0.5"/>
<circle cx="461.50" cy="29.94" r="1.95" fill="url(#gy)" stroke="none" stroke-width="0.5"/>
<circle cx="466.50" cy="29.98" r="1.95" fill="url(#gy)" stroke="none" stroke-width="0.5"/>
<circle cx="471.50" cy="30.02" r="1.95" fill="url(#gy)" stroke="none" stroke-width="0.5"/>
<circle cx="476.50" cy="30.06" r="1.95" fill="url(#gy)" stroke="none" stroke-width="0.5"/>
<circle cx="481.50" cy="30.10" r="1.95" fill="url(#gy)" stroke="none" stroke-width="0.5"/>
<circle cx="486.50" cy="30.13" r="1.95" fill="url(#gy)" stroke="none" stroke-width="0.5"/>
<circle cx="491.50" cy="30.17" r="1.95" fill="url(#gy)" stroke="none" stroke-width="0.5"/>
<circle cx="496.50" cy="30.30" r="1.95" fill="url(#gy)" stroke="none" stroke-width="0.5"/>
<circle cx="501.50" cy="30.62" r="1.95" fill="url(#gy)" stroke="none" stroke-width="0.5"/>
<circle cx="506.50" cy="30.94" r="1.95" fill="url(#gy)" stroke="none" stroke-width="0.5"/>
<line x1="369.80" y1="30.40" x2="374.80" y2="36.00" stroke="#1a1a1a" stroke-width="0.9" />
<line x1="369.80" y1="41.00" x2="374.80" y2="36.00" stroke="#1a1a1a" stroke-width="0.9" />
<circle cx="369.80" cy="30.30" r="1.65" fill="url(#gy)" stroke="none" stroke-width="0.5"/>
<circle cx="369.80" cy="41.00" r="1.65" fill="url(#gy)" stroke="none" stroke-width="0.5"/>
<path d="M509.2,31.6 L513.6,31.0 L515.7,35.5 L513.6,40.0 L509.2,40.2 L507.8,35.8 Z" fill="#fff" stroke="#111" stroke-width="1.0"/>
<circle cx="513.40" cy="29.80" r="1.6" fill="url(#gy)" stroke="none" stroke-width="0.5"/>
<circle cx="512.80" cy="41.20" r="1.6" fill="url(#gy)" stroke="none" stroke-width="0.5"/>
<path d="M376,51.0 L510,51.0 L510,55.0 L374,55.0 Z" fill="#4a1a60"/>
<line x1="377.50" y1="51.50" x2="377.50" y2="54.60" stroke="#a890b0" stroke-width="0.4" />
<line x1="380.70" y1="51.50" x2="380.70" y2="54.60" stroke="#a890b0" stroke-width="0.4" />
<line x1="383.90" y1="51.50" x2="383.90" y2="54.60" stroke="#a890b0" stroke-width="0.4" />
<line x1="387.10" y1="51.50" x2="387.10" y2="54.60" stroke="#a890b0" stroke-width="0.4" />
<line x1="390.30" y1="51.50" x2="390.30" y2="54.60" stroke="#a890b0" stroke-width="0.4" />
<line x1="393.50" y1="51.50" x2="393.50" y2="54.60" stroke="#a890b0" stroke-width="0.4" />
<line x1="396.70" y1="51.50" x2="396.70" y2="54.60" stroke="#a890b0" stroke-width="0.4" />
<line x1="399.90" y1="51.50" x2="399.90" y2="54.60" stroke="#a890b0" stroke-width="0.4" />
<line x1="403.10" y1="51.50" x2="403.10" y2="54.60" stroke="#a890b0" stroke-width="0.4" />
<line x1="406.30" y1="51.50" x2="406.30" y2="54.60" stroke="#a890b0" stroke-width="0.4" />
<line x1="409.50" y1="51.50" x2="409.50" y2="54.60" stroke="#a890b0" stroke-width="0.4" />
<line x1="412.70" y1="51.50" x2="412.70" y2="54.60" stroke="#a890b0" stroke-width="0.4" />
<line x1="415.90" y1="51.50" x2="415.90" y2="54.60" stroke="#a890b0" stroke-width="0.4" />
<line x1="419.10" y1="51.50" x2="419.10" y2="54.60" stroke="#a890b0" stroke-width="0.4" />
<line x1="422.30" y1="51.50" x2="422.30" y2="54.60" stroke="#a890b0" stroke-width="0.4" />
<line x1="425.50" y1="51.50" x2="425.50" y2="54.60" stroke="#a890b0" stroke-width="0.4" />
<line x1="428.70" y1="51.50" x2="428.70" y2="54.60" stroke="#a890b0" stroke-width="0.4" />
<line x1="431.90" y1="51.50" x2="431.90" y2="54.60" stroke="#a890b0" stroke-width="0.4" />
<line x1="435.10" y1="51.50" x2="435.10" y2="54.60" stroke="#a890b0" stroke-width="0.4" />
<line x1="438.30" y1="51.50" x2="438.30" y2="54.60" stroke="#a890b0" stroke-width="0.4" />
<line x1="441.50" y1="51.50" x2="441.50" y2="54.60" stroke="#a890b0" stroke-width="0.4" />
<line x1="444.70" y1="51.50" x2="444.70" y2="54.60" stroke="#a890b0" stroke-width="0.4" />
<line x1="447.90" y1="51.50" x2="447.90" y2="54.60" stroke="#a890b0" stroke-width="0.4" />
<line x1="451.10" y1="51.50" x2="451.10" y2="54.60" stroke="#a890b0" stroke-width="0.4" />
<line x1="454.30" y1="51.50" x2="454.30" y2="54.60" stroke="#a890b0" stroke-width="0.4" />
<line x1="457.50" y1="51.50" x2="457.50" y2="54.60" stroke="#a890b0" stroke-width="0.4" />
<line x1="460.70" y1="51.50" x2="460.70" y2="54.60" stroke="#a890b0" stroke-width="0.4" />
<line x1="463.90" y1="51.50" x2="463.90" y2="54.60" stroke="#a890b0" stroke-width="0.4" />
<line x1="467.10" y1="51.50" x2="467.10" y2="54.60" stroke="#a890b0" stroke-width="0.4" />
<line x1="470.30" y1="51.50" x2="470.30" y2="54.60" stroke="#a890b0" stroke-width="0.4" />
<line x1="473.50" y1="51.50" x2="473.50" y2="54.60" stroke="#a890b0" stroke-width="0.4" />
<line x1="476.70" y1="51.50" x2="476.70" y2="54.60" stroke="#a890b0" stroke-width="0.4" />
<line x1="479.90" y1="51.50" x2="479.90" y2="54.60" stroke="#a890b0" stroke-width="0.4" />
<line x1="483.10" y1="51.50" x2="483.10" y2="54.60" stroke="#a890b0" stroke-width="0.4" />
<line x1="486.30" y1="51.50" x2="486.30" y2="54.60" stroke="#a890b0" stroke-width="0.4" />
<line x1="489.50" y1="51.50" x2="489.50" y2="54.60" stroke="#a890b0" stroke-width="0.4" />
<line x1="492.70" y1="51.50" x2="492.70" y2="54.60" stroke="#a890b0" stroke-width="0.4" />
<line x1="495.90" y1="51.50" x2="495.90" y2="54.60" stroke="#a890b0" stroke-width="0.4" />
<line x1="499.10" y1="51.50" x2="499.10" y2="54.60" stroke="#a890b0" stroke-width="0.4" />
<line x1="502.30" y1="51.50" x2="502.30" y2="54.60" stroke="#a890b0" stroke-width="0.4" />
<line x1="505.50" y1="51.50" x2="505.50" y2="54.60" stroke="#a890b0" stroke-width="0.4" />
<line x1="508.70" y1="51.50" x2="508.70" y2="54.60" stroke="#a890b0" stroke-width="0.4" />
<circle cx="379.00" cy="50.10" r="1.6" fill="url(#gp)" stroke="none" stroke-width="0.5"/>
<circle cx="382.20" cy="50.10" r="1.6" fill="url(#gp)" stroke="none" stroke-width="0.5"/>
<circle cx="385.40" cy="50.10" r="1.6" fill="url(#gp)" stroke="none" stroke-width="0.5"/>
<circle cx="388.60" cy="50.10" r="1.6" fill="url(#gp)" stroke="none" stroke-width="0.5"/>
<circle cx="391.80" cy="50.10" r="1.6" fill="url(#gp)" stroke="none" stroke-width="0.5"/>
<circle cx="395.00" cy="50.10" r="1.6" fill="url(#gp)" stroke="none" stroke-width="0.5"/>
<circle cx="398.20" cy="50.10" r="1.6" fill="url(#gp)" stroke="none" stroke-width="0.5"/>
<circle cx="401.40" cy="50.10" r="1.6" fill="url(#gp)" stroke="none" stroke-width="0.5"/>
<circle cx="404.60" cy="50.10" r="1.6" fill="url(#gp)" stroke="none" stroke-width="0.5"/>
<circle cx="407.80" cy="50.10" r="1.6" fill="url(#gp)" stroke="none" stroke-width="0.5"/>
<circle cx="411.00" cy="50.10" r="1.6" fill="url(#gp)" stroke="none" stroke-width="0.5"/>
<circle cx="414.20" cy="50.10" r="1.6" fill="url(#gp)" stroke="none" stroke-width="0.5"/>
<circle cx="417.40" cy="50.10" r="1.6" fill="url(#gp)" stroke="none" stroke-width="0.5"/>
<circle cx="420.60" cy="50.10" r="1.6" fill="url(#gp)" stroke="none" stroke-width="0.5"/>
<circle cx="423.80" cy="50.10" r="1.6" fill="url(#gp)" stroke="none" stroke-width="0.5"/>
<circle cx="427.00" cy="50.10" r="1.6" fill="url(#gp)" stroke="none" stroke-width="0.5"/>
<circle cx="430.20" cy="50.10" r="1.6" fill="url(#gp)" stroke="none" stroke-width="0.5"/>
<circle cx="433.40" cy="50.10" r="1.6" fill="url(#gp)" stroke="none" stroke-width="0.5"/>
<circle cx="436.60" cy="50.10" r="1.6" fill="url(#gp)" stroke="none" stroke-width="0.5"/>
<circle cx="439.80" cy="50.10" r="1.6" fill="url(#gp)" stroke="none" stroke-width="0.5"/>
<circle cx="443.00" cy="50.10" r="1.6" fill="url(#gp)" stroke="none" stroke-width="0.5"/>
<circle cx="446.20" cy="50.10" r="1.6" fill="url(#gp)" stroke="none" stroke-width="0.5"/>
<circle cx="449.40" cy="50.10" r="1.6" fill="url(#gp)" stroke="none" stroke-width="0.5"/>
<circle cx="452.60" cy="50.10" r="1.6" fill="url(#gp)" stroke="none" stroke-width="0.5"/>
<circle cx="455.80" cy="50.10" r="1.6" fill="url(#gp)" stroke="none" stroke-width="0.5"/>
<circle cx="459.00" cy="50.10" r="1.6" fill="url(#gp)" stroke="none" stroke-width="0.5"/>
<circle cx="462.20" cy="50.10" r="1.6" fill="url(#gp)" stroke="none" stroke-width="0.5"/>
<circle cx="465.40" cy="50.10" r="1.6" fill="url(#gp)" stroke="none" stroke-width="0.5"/>
<circle cx="468.60" cy="50.10" r="1.6" fill="url(#gp)" stroke="none" stroke-width="0.5"/>
<circle cx="471.80" cy="50.10" r="1.6" fill="url(#gp)" stroke="none" stroke-width="0.5"/>
<circle cx="475.00" cy="50.10" r="1.6" fill="url(#gp)" stroke="none" stroke-width="0.5"/>
<circle cx="478.20" cy="50.10" r="1.6" fill="url(#gp)" stroke="none" stroke-width="0.5"/>
<circle cx="481.40" cy="50.10" r="1.6" fill="url(#gp)" stroke="none" stroke-width="0.5"/>
<circle cx="484.60" cy="50.10" r="1.6" fill="url(#gp)" stroke="none" stroke-width="0.5"/>
<circle cx="487.80" cy="50.10" r="1.6" fill="url(#gp)" stroke="none" stroke-width="0.5"/>
<circle cx="491.00" cy="50.10" r="1.6" fill="url(#gp)" stroke="none" stroke-width="0.5"/>
<circle cx="494.20" cy="50.10" r="1.6" fill="url(#gp)" stroke="none" stroke-width="0.5"/>
<circle cx="497.40" cy="50.10" r="1.6" fill="url(#gp)" stroke="none" stroke-width="0.5"/>
<circle cx="500.60" cy="50.10" r="1.6" fill="url(#gp)" stroke="none" stroke-width="0.5"/>
<circle cx="503.80" cy="50.10" r="1.6" fill="url(#gp)" stroke="none" stroke-width="0.5"/>
<circle cx="507.00" cy="50.10" r="1.6" fill="url(#gp)" stroke="none" stroke-width="0.5"/>
<circle cx="374.50" cy="55.30" r="1.7" fill="url(#gp)" stroke="none" stroke-width="0.5"/>
<circle cx="377.70" cy="55.30" r="1.7" fill="url(#gp)" stroke="none" stroke-width="0.5"/>
<circle cx="380.90" cy="55.30" r="1.7" fill="url(#gp)" stroke="none" stroke-width="0.5"/>
<circle cx="384.10" cy="55.30" r="1.7" fill="url(#gp)" stroke="none" stroke-width="0.5"/>
<circle cx="387.30" cy="55.30" r="1.7" fill="url(#gp)" stroke="none" stroke-width="0.5"/>
<circle cx="390.50" cy="55.30" r="1.7" fill="url(#gp)" stroke="none" stroke-width="0.5"/>
<circle cx="393.70" cy="55.30" r="1.7" fill="url(#gp)" stroke="none" stroke-width="0.5"/>
<circle cx="396.90" cy="55.30" r="1.7" fill="url(#gp)" stroke="none" stroke-width="0.5"/>
<circle cx="400.10" cy="55.30" r="1.7" fill="url(#gp)" stroke="none" stroke-width="0.5"/>
<circle cx="403.30" cy="55.30" r="1.7" fill="url(#gp)" stroke="none" stroke-width="0.5"/>
<circle cx="406.50" cy="55.30" r="1.7" fill="url(#gp)" stroke="none" stroke-width="0.5"/>
<circle cx="409.70" cy="55.30" r="1.7" fill="url(#gp)" stroke="none" stroke-width="0.5"/>
<circle cx="412.90" cy="55.30" r="1.7" fill="url(#gp)" stroke="none" stroke-width="0.5"/>
<circle cx="416.10" cy="55.30" r="1.7" fill="url(#gp)" stroke="none" stroke-width="0.5"/>
<circle cx="419.30" cy="55.30" r="1.7" fill="url(#gp)" stroke="none" stroke-width="0.5"/>
<circle cx="422.50" cy="55.30" r="1.7" fill="url(#gp)" stroke="none" stroke-width="0.5"/>
<circle cx="425.70" cy="55.30" r="1.7" fill="url(#gp)" stroke="none" stroke-width="0.5"/>
<circle cx="428.90" cy="55.30" r="1.7" fill="url(#gp)" stroke="none" stroke-width="0.5"/>
<circle cx="432.10" cy="55.30" r="1.7" fill="url(#gp)" stroke="none" stroke-width="0.5"/>
<circle cx="435.30" cy="55.30" r="1.7" fill="url(#gp)" stroke="none" stroke-width="0.5"/>
<circle cx="438.50" cy="55.30" r="1.7" fill="url(#gp)" stroke="none" stroke-width="0.5"/>
<circle cx="441.70" cy="55.30" r="1.7" fill="url(#gp)" stroke="none" stroke-width="0.5"/>
<circle cx="444.90" cy="55.30" r="1.7" fill="url(#gp)" stroke="none" stroke-width="0.5"/>
<circle cx="448.10" cy="55.30" r="1.7" fill="url(#gp)" stroke="none" stroke-width="0.5"/>
<circle cx="451.30" cy="55.30" r="1.7" fill="url(#gp)" stroke="none" stroke-width="0.5"/>
<circle cx="454.50" cy="55.30" r="1.7" fill="url(#gp)" stroke="none" stroke-width="0.5"/>
<circle cx="457.70" cy="55.30" r="1.7" fill="url(#gp)" stroke="none" stroke-width="0.5"/>
<circle cx="460.90" cy="55.30" r="1.7" fill="url(#gp)" stroke="none" stroke-width="0.5"/>
<circle cx="464.10" cy="55.30" r="1.7" fill="url(#gp)" stroke="none" stroke-width="0.5"/>
<circle cx="467.30" cy="55.30" r="1.7" fill="url(#gp)" stroke="none" stroke-width="0.5"/>
<circle cx="470.50" cy="55.30" r="1.7" fill="url(#gp)" stroke="none" stroke-width="0.5"/>
<circle cx="473.70" cy="55.30" r="1.7" fill="url(#gp)" stroke="none" stroke-width="0.5"/>
<circle cx="476.90" cy="55.30" r="1.7" fill="url(#gp)" stroke="none" stroke-width="0.5"/>
<circle cx="480.10" cy="55.30" r="1.7" fill="url(#gp)" stroke="none" stroke-width="0.5"/>
<circle cx="483.30" cy="55.30" r="1.7" fill="url(#gp)" stroke="none" stroke-width="0.5"/>
<circle cx="486.50" cy="55.30" r="1.7" fill="url(#gp)" stroke="none" stroke-width="0.5"/>
<circle cx="489.70" cy="55.30" r="1.7" fill="url(#gp)" stroke="none" stroke-width="0.5"/>
<circle cx="492.90" cy="55.30" r="1.7" fill="url(#gp)" stroke="none" stroke-width="0.5"/>
<circle cx="496.10" cy="55.30" r="1.7" fill="url(#gp)" stroke="none" stroke-width="0.5"/>
<circle cx="499.30" cy="55.30" r="1.7" fill="url(#gp)" stroke="none" stroke-width="0.5"/>
<circle cx="502.50" cy="55.30" r="1.7" fill="url(#gp)" stroke="none" stroke-width="0.5"/>
<circle cx="505.70" cy="55.30" r="1.7" fill="url(#gp)" stroke="none" stroke-width="0.5"/>
<circle cx="508.90" cy="55.30" r="1.7" fill="url(#gp)" stroke="none" stroke-width="0.5"/>
<rect x="438.6" y="47.8" width="3.6" height="9.4" fill="#fff" opacity="0.75"/>
<line x1="440.40" y1="50.00" x2="440.40" y2="55.30" stroke="#9a40c8" stroke-width="0.8" />
<path d="M380,64.8 L392,61.4 L502.5,61.2 L511.0,72.5 L374.5,72.5 Z" fill="url(#lpur)"/>
<path d="M383.0,62.4 L380.0,71.6" stroke="#9a40cc" stroke-width="1.6" stroke-linecap="round" opacity="0.8"/>
<path d="M387.4,62.4 L384.6,71.6" stroke="#9a40cc" stroke-width="1.6" stroke-linecap="round" opacity="0.8"/>
<path d="M391.8,62.4 L389.2,71.6" stroke="#9a40cc" stroke-width="1.6" stroke-linecap="round" opacity="0.8"/>
<path d="M396.2,62.4 L393.9,71.6" stroke="#9a40cc" stroke-width="1.6" stroke-linecap="round" opacity="0.8"/>
<path d="M400.6,62.4 L398.5,71.6" stroke="#9a40cc" stroke-width="1.6" stroke-linecap="round" opacity="0.8"/>
<path d="M405.0,62.4 L403.1,71.6" stroke="#9a40cc" stroke-width="1.6" stroke-linecap="round" opacity="0.8"/>
<path d="M409.4,62.4 L407.7,71.6" stroke="#9a40cc" stroke-width="1.6" stroke-linecap="round" opacity="0.8"/>
<path d="M413.8,62.4 L412.3,71.6" stroke="#9a40cc" stroke-width="1.6" stroke-linecap="round" opacity="0.8"/>
<path d="M418.2,62.4 L417.0,71.6" stroke="#9a40cc" stroke-width="1.6" stroke-linecap="round" opacity="0.8"/>
<path d="M422.6,62.4 L421.6,71.6" stroke="#9a40cc" stroke-width="1.6" stroke-linecap="round" opacity="0.8"/>
<path d="M427.0,62.4 L426.2,71.6" stroke="#9a40cc" stroke-width="1.6" stroke-linecap="round" opacity="0.8"/>
<path d="M431.4,62.4 L430.8,71.6" stroke="#9a40cc" stroke-width="1.6" stroke-linecap="round" opacity="0.8"/>
<path d="M435.8,62.4 L435.4,71.6" stroke="#9a40cc" stroke-width="1.6" stroke-linecap="round" opacity="0.8"/>
<path d="M440.2,62.4 L440.1,71.6" stroke="#9a40cc" stroke-width="1.6" stroke-linecap="round" opacity="0.8"/>
<path d="M444.6,62.4 L444.7,71.6" stroke="#9a40cc" stroke-width="1.6" stroke-linecap="round" opacity="0.8"/>
<path d="M449.0,62.4 L449.3,71.6" stroke="#9a40cc" stroke-width="1.6" stroke-linecap="round" opacity="0.8"/>
<path d="M453.4,62.4 L453.9,71.6" stroke="#9a40cc" stroke-width="1.6" stroke-linecap="round" opacity="0.8"/>
<path d="M457.8,62.4 L458.5,71.6" stroke="#9a40cc" stroke-width="1.6" stroke-linecap="round" opacity="0.8"/>
<path d="M462.2,62.4 L463.2,71.6" stroke="#9a40cc" stroke-width="1.6" stroke-linecap="round" opacity="0.8"/>
<path d="M466.6,62.4 L467.8,71.6" stroke="#9a40cc" stroke-width="1.6" stroke-linecap="round" opacity="0.8"/>
<path d="M471.0,62.4 L472.4,71.6" stroke="#9a40cc" stroke-width="1.6" stroke-linecap="round" opacity="0.8"/>
<path d="M475.4,62.4 L477.0,71.6" stroke="#9a40cc" stroke-width="1.6" stroke-linecap="round" opacity="0.8"/>
<path d="M479.8,62.4 L481.6,71.6" stroke="#9a40cc" stroke-width="1.6" stroke-linecap="round" opacity="0.8"/>
<path d="M484.2,62.4 L486.3,71.6" stroke="#9a40cc" stroke-width="1.6" stroke-linecap="round" opacity="0.8"/>
<path d="M488.6,62.4 L490.9,71.6" stroke="#9a40cc" stroke-width="1.6" stroke-linecap="round" opacity="0.8"/>
<path d="M493.0,62.4 L495.5,71.6" stroke="#9a40cc" stroke-width="1.6" stroke-linecap="round" opacity="0.8"/>
<path d="M497.4,62.4 L500.1,71.6" stroke="#9a40cc" stroke-width="1.6" stroke-linecap="round" opacity="0.8"/>
<path d="M501.8,62.4 L504.7,71.6" stroke="#9a40cc" stroke-width="1.6" stroke-linecap="round" opacity="0.8"/>
<circle cx="381.00" cy="64.88" r="1.5" fill="url(#gp)" stroke="none" stroke-width="0.5"/>
<circle cx="384.10" cy="64.01" r="1.5" fill="url(#gp)" stroke="none" stroke-width="0.5"/>
<circle cx="387.20" cy="63.14" r="1.5" fill="url(#gp)" stroke="none" stroke-width="0.5"/>
<circle cx="390.30" cy="62.28" r="1.5" fill="url(#gp)" stroke="none" stroke-width="0.5"/>
<circle cx="393.40" cy="61.80" r="1.5" fill="url(#gp)" stroke="none" stroke-width="0.5"/>
<circle cx="396.50" cy="61.80" r="1.5" fill="url(#gp)" stroke="none" stroke-width="0.5"/>
<circle cx="399.60" cy="61.80" r="1.5" fill="url(#gp)" stroke="none" stroke-width="0.5"/>
<circle cx="402.70" cy="61.80" r="1.5" fill="url(#gp)" stroke="none" stroke-width="0.5"/>
<circle cx="405.80" cy="61.80" r="1.5" fill="url(#gp)" stroke="none" stroke-width="0.5"/>
<circle cx="408.90" cy="61.80" r="1.5" fill="url(#gp)" stroke="none" stroke-width="0.5"/>
<circle cx="412.00" cy="61.80" r="1.5" fill="url(#gp)" stroke="none" stroke-width="0.5"/>
<circle cx="415.10" cy="61.80" r="1.5" fill="url(#gp)" stroke="none" stroke-width="0.5"/>
<circle cx="418.20" cy="61.80" r="1.5" fill="url(#gp)" stroke="none" stroke-width="0.5"/>
<circle cx="421.30" cy="61.80" r="1.5" fill="url(#gp)" stroke="none" stroke-width="0.5"/>
<circle cx="424.40" cy="61.80" r="1.5" fill="url(#gp)" stroke="none" stroke-width="0.5"/>
<circle cx="427.50" cy="61.80" r="1.5" fill="url(#gp)" stroke="none" stroke-width="0.5"/>
<circle cx="430.60" cy="61.80" r="1.5" fill="url(#gp)" stroke="none" stroke-width="0.5"/>
<circle cx="433.70" cy="61.80" r="1.5" fill="url(#gp)" stroke="none" stroke-width="0.5"/>
<circle cx="436.80" cy="61.80" r="1.5" fill="url(#gp)" stroke="none" stroke-width="0.5"/>
<circle cx="439.90" cy="61.80" r="1.5" fill="url(#gp)" stroke="none" stroke-width="0.5"/>
<circle cx="443.00" cy="61.80" r="1.5" fill="url(#gp)" stroke="none" stroke-width="0.5"/>
<circle cx="446.10" cy="61.80" r="1.5" fill="url(#gp)" stroke="none" stroke-width="0.5"/>
<circle cx="449.20" cy="61.80" r="1.5" fill="url(#gp)" stroke="none" stroke-width="0.5"/>
<circle cx="452.30" cy="61.80" r="1.5" fill="url(#gp)" stroke="none" stroke-width="0.5"/>
<circle cx="455.40" cy="61.80" r="1.5" fill="url(#gp)" stroke="none" stroke-width="0.5"/>
<circle cx="458.50" cy="61.80" r="1.5" fill="url(#gp)" stroke="none" stroke-width="0.5"/>
<circle cx="461.60" cy="61.80" r="1.5" fill="url(#gp)" stroke="none" stroke-width="0.5"/>
<circle cx="464.70" cy="61.80" r="1.5" fill="url(#gp)" stroke="none" stroke-width="0.5"/>
<circle cx="467.80" cy="61.80" r="1.5" fill="url(#gp)" stroke="none" stroke-width="0.5"/>
<circle cx="470.90" cy="61.80" r="1.5" fill="url(#gp)" stroke="none" stroke-width="0.5"/>
<circle cx="474.00" cy="61.80" r="1.5" fill="url(#gp)" stroke="none" stroke-width="0.5"/>
<circle cx="477.10" cy="61.80" r="1.5" fill="url(#gp)" stroke="none" stroke-width="0.5"/>
<circle cx="480.20" cy="61.80" r="1.5" fill="url(#gp)" stroke="none" stroke-width="0.5"/>
<circle cx="483.30" cy="61.80" r="1.5" fill="url(#gp)" stroke="none" stroke-width="0.5"/>
<circle cx="486.40" cy="61.80" r="1.5" fill="url(#gp)" stroke="none" stroke-width="0.5"/>
<circle cx="489.50" cy="61.80" r="1.5" fill="url(#gp)" stroke="none" stroke-width="0.5"/>
<circle cx="492.60" cy="61.80" r="1.5" fill="url(#gp)" stroke="none" stroke-width="0.5"/>
<circle cx="495.70" cy="61.80" r="1.5" fill="url(#gp)" stroke="none" stroke-width="0.5"/>
<circle cx="498.80" cy="61.80" r="1.5" fill="url(#gp)" stroke="none" stroke-width="0.5"/>
<circle cx="501.90" cy="61.80" r="1.5" fill="url(#gp)" stroke="none" stroke-width="0.5"/>
<circle cx="378.00" cy="67.30" r="1.4" fill="url(#gp)" stroke="none" stroke-width="0.5"/>
<circle cx="381.40" cy="67.30" r="1.4" fill="url(#gp)" stroke="none" stroke-width="0.5"/>
<circle cx="384.80" cy="67.30" r="1.4" fill="url(#gp)" stroke="none" stroke-width="0.5"/>
<circle cx="388.20" cy="67.30" r="1.4" fill="url(#gp)" stroke="none" stroke-width="0.5"/>
<circle cx="391.60" cy="67.30" r="1.4" fill="url(#gp)" stroke="none" stroke-width="0.5"/>
<circle cx="395.00" cy="67.30" r="1.4" fill="url(#gp)" stroke="none" stroke-width="0.5"/>
<circle cx="398.40" cy="67.30" r="1.4" fill="url(#gp)" stroke="none" stroke-width="0.5"/>
<circle cx="401.80" cy="67.30" r="1.4" fill="url(#gp)" stroke="none" stroke-width="0.5"/>
<circle cx="405.20" cy="67.30" r="1.4" fill="url(#gp)" stroke="none" stroke-width="0.5"/>
<circle cx="408.60" cy="67.30" r="1.4" fill="url(#gp)" stroke="none" stroke-width="0.5"/>
<circle cx="412.00" cy="67.30" r="1.4" fill="url(#gp)" stroke="none" stroke-width="0.5"/>
<circle cx="415.40" cy="67.30" r="1.4" fill="url(#gp)" stroke="none" stroke-width="0.5"/>
<circle cx="418.80" cy="67.30" r="1.4" fill="url(#gp)" stroke="none" stroke-width="0.5"/>
<circle cx="422.20" cy="67.30" r="1.4" fill="url(#gp)" stroke="none" stroke-width="0.5"/>
<circle cx="425.60" cy="67.30" r="1.4" fill="url(#gp)" stroke="none" stroke-width="0.5"/>
<circle cx="429.00" cy="67.30" r="1.4" fill="url(#gp)" stroke="none" stroke-width="0.5"/>
<circle cx="432.40" cy="67.30" r="1.4" fill="url(#gp)" stroke="none" stroke-width="0.5"/>
<circle cx="435.80" cy="67.30" r="1.4" fill="url(#gp)" stroke="none" stroke-width="0.5"/>
<circle cx="439.20" cy="67.30" r="1.4" fill="url(#gp)" stroke="none" stroke-width="0.5"/>
<circle cx="442.60" cy="67.30" r="1.4" fill="url(#gp)" stroke="none" stroke-width="0.5"/>
<circle cx="446.00" cy="67.30" r="1.4" fill="url(#gp)" stroke="none" stroke-width="0.5"/>
<circle cx="449.40" cy="67.30" r="1.4" fill="url(#gp)" stroke="none" stroke-width="0.5"/>
<circle cx="452.80" cy="67.30" r="1.4" fill="url(#gp)" stroke="none" stroke-width="0.5"/>
<circle cx="456.20" cy="67.30" r="1.4" fill="url(#gp)" stroke="none" stroke-width="0.5"/>
<circle cx="459.60" cy="67.30" r="1.4" fill="url(#gp)" stroke="none" stroke-width="0.5"/>
<circle cx="463.00" cy="67.30" r="1.4" fill="url(#gp)" stroke="none" stroke-width="0.5"/>
<circle cx="466.40" cy="67.30" r="1.4" fill="url(#gp)" stroke="none" stroke-width="0.5"/>
<circle cx="469.80" cy="67.30" r="1.4" fill="url(#gp)" stroke="none" stroke-width="0.5"/>
<circle cx="473.20" cy="67.30" r="1.4" fill="url(#gp)" stroke="none" stroke-width="0.5"/>
<circle cx="476.60" cy="67.30" r="1.4" fill="url(#gp)" stroke="none" stroke-width="0.5"/>
<circle cx="480.00" cy="67.30" r="1.4" fill="url(#gp)" stroke="none" stroke-width="0.5"/>
<circle cx="483.40" cy="67.30" r="1.4" fill="url(#gp)" stroke="none" stroke-width="0.5"/>
<circle cx="486.80" cy="67.30" r="1.4" fill="url(#gp)" stroke="none" stroke-width="0.5"/>
<circle cx="490.20" cy="67.30" r="1.4" fill="url(#gp)" stroke="none" stroke-width="0.5"/>
<circle cx="493.60" cy="67.30" r="1.4" fill="url(#gp)" stroke="none" stroke-width="0.5"/>
<circle cx="497.00" cy="67.30" r="1.4" fill="url(#gp)" stroke="none" stroke-width="0.5"/>
<circle cx="500.40" cy="67.30" r="1.4" fill="url(#gp)" stroke="none" stroke-width="0.5"/>
<circle cx="503.80" cy="67.30" r="1.4" fill="url(#gp)" stroke="none" stroke-width="0.5"/>
<circle cx="374.80" cy="72.50" r="1.8" fill="url(#gp)" stroke="none" stroke-width="0.5"/>
<circle cx="377.90" cy="72.50" r="1.8" fill="url(#gp)" stroke="none" stroke-width="0.5"/>
<circle cx="381.00" cy="72.50" r="1.8" fill="url(#gp)" stroke="none" stroke-width="0.5"/>
<circle cx="384.10" cy="72.50" r="1.8" fill="url(#gp)" stroke="none" stroke-width="0.5"/>
<circle cx="387.20" cy="72.50" r="1.8" fill="url(#gp)" stroke="none" stroke-width="0.5"/>
<circle cx="390.30" cy="72.50" r="1.8" fill="url(#gp)" stroke="none" stroke-width="0.5"/>
<circle cx="393.40" cy="72.50" r="1.8" fill="url(#gp)" stroke="none" stroke-width="0.5"/>
<circle cx="396.50" cy="72.50" r="1.8" fill="url(#gp)" stroke="none" stroke-width="0.5"/>
<circle cx="399.60" cy="72.50" r="1.8" fill="url(#gp)" stroke="none" stroke-width="0.5"/>
<circle cx="402.70" cy="72.50" r="1.8" fill="url(#gp)" stroke="none" stroke-width="0.5"/>
<circle cx="405.80" cy="72.50" r="1.8" fill="url(#gp)" stroke="none" stroke-width="0.5"/>
<circle cx="408.90" cy="72.50" r="1.8" fill="url(#gp)" stroke="none" stroke-width="0.5"/>
<circle cx="412.00" cy="72.50" r="1.8" fill="url(#gp)" stroke="none" stroke-width="0.5"/>
<circle cx="415.10" cy="72.50" r="1.8" fill="url(#gp)" stroke="none" stroke-width="0.5"/>
<circle cx="418.20" cy="72.50" r="1.8" fill="url(#gp)" stroke="none" stroke-width="0.5"/>
<circle cx="421.30" cy="72.50" r="1.8" fill="url(#gp)" stroke="none" stroke-width="0.5"/>
<circle cx="424.40" cy="72.50" r="1.8" fill="url(#gp)" stroke="none" stroke-width="0.5"/>
<circle cx="427.50" cy="72.50" r="1.8" fill="url(#gp)" stroke="none" stroke-width="0.5"/>
<circle cx="430.60" cy="72.50" r="1.8" fill="url(#gp)" stroke="none" stroke-width="0.5"/>
<circle cx="433.70" cy="72.50" r="1.8" fill="url(#gp)" stroke="none" stroke-width="0.5"/>
<circle cx="436.80" cy="72.50" r="1.8" fill="url(#gp)" stroke="none" stroke-width="0.5"/>
<circle cx="439.90" cy="72.50" r="1.8" fill="url(#gp)" stroke="none" stroke-width="0.5"/>
<circle cx="443.00" cy="72.50" r="1.8" fill="url(#gp)" stroke="none" stroke-width="0.5"/>
<circle cx="446.10" cy="72.50" r="1.8" fill="url(#gp)" stroke="none" stroke-width="0.5"/>
<circle cx="449.20" cy="72.50" r="1.8" fill="url(#gp)" stroke="none" stroke-width="0.5"/>
<circle cx="452.30" cy="72.50" r="1.8" fill="url(#gp)" stroke="none" stroke-width="0.5"/>
<circle cx="455.40" cy="72.50" r="1.8" fill="url(#gp)" stroke="none" stroke-width="0.5"/>
<circle cx="458.50" cy="72.50" r="1.8" fill="url(#gp)" stroke="none" stroke-width="0.5"/>
<circle cx="461.60" cy="72.50" r="1.8" fill="url(#gp)" stroke="none" stroke-width="0.5"/>
<circle cx="464.70" cy="72.50" r="1.8" fill="url(#gp)" stroke="none" stroke-width="0.5"/>
<circle cx="467.80" cy="72.50" r="1.8" fill="url(#gp)" stroke="none" stroke-width="0.5"/>
<circle cx="470.90" cy="72.50" r="1.8" fill="url(#gp)" stroke="none" stroke-width="0.5"/>
<circle cx="474.00" cy="72.50" r="1.8" fill="url(#gp)" stroke="none" stroke-width="0.5"/>
<circle cx="477.10" cy="72.50" r="1.8" fill="url(#gp)" stroke="none" stroke-width="0.5"/>
<circle cx="480.20" cy="72.50" r="1.8" fill="url(#gp)" stroke="none" stroke-width="0.5"/>
<circle cx="483.30" cy="72.50" r="1.8" fill="url(#gp)" stroke="none" stroke-width="0.5"/>
<circle cx="486.40" cy="72.50" r="1.8" fill="url(#gp)" stroke="none" stroke-width="0.5"/>
<circle cx="489.50" cy="72.50" r="1.8" fill="url(#gp)" stroke="none" stroke-width="0.5"/>
<circle cx="492.60" cy="72.50" r="1.8" fill="url(#gp)" stroke="none" stroke-width="0.5"/>
<circle cx="495.70" cy="72.50" r="1.8" fill="url(#gp)" stroke="none" stroke-width="0.5"/>
<circle cx="498.80" cy="72.50" r="1.8" fill="url(#gp)" stroke="none" stroke-width="0.5"/>
<circle cx="501.90" cy="72.50" r="1.8" fill="url(#gp)" stroke="none" stroke-width="0.5"/>
<circle cx="505.00" cy="72.50" r="1.8" fill="url(#gp)" stroke="none" stroke-width="0.5"/>
<circle cx="508.10" cy="72.50" r="1.8" fill="url(#gp)" stroke="none" stroke-width="0.5"/>
<circle cx="511.20" cy="72.50" r="1.8" fill="url(#gp)" stroke="none" stroke-width="0.5"/>
<line x1="440.60" y1="61.50" x2="440.60" y2="73.50" stroke="#e8d0f0" stroke-width="0.6" />
<path d="M380,73.6 L500,73.6 L511,86.0 L372,86.4 Z" fill="#8a6410"/>
<path d="M381.0,74.4 L373.7,85.6" stroke="#e8b818" stroke-width="2.4" stroke-linecap="round"/>
<path d="M384.5,74.4 L377.6,85.6" stroke="#e8b818" stroke-width="2.4" stroke-linecap="round"/>
<path d="M388.0,74.4 L381.5,85.6" stroke="#e8b818" stroke-width="2.4" stroke-linecap="round"/>
<path d="M391.5,74.4 L385.4,85.6" stroke="#e8b818" stroke-width="2.4" stroke-linecap="round"/>
<path d="M395.0,74.4 L389.4,85.6" stroke="#e8b818" stroke-width="2.4" stroke-linecap="round"/>
<path d="M398.5,74.4 L393.3,85.6" stroke="#e8b818" stroke-width="2.4" stroke-linecap="round"/>
<path d="M402.0,74.4 L397.2,85.6" stroke="#e8b818" stroke-width="2.4" stroke-linecap="round"/>
<path d="M405.5,74.4 L401.1,85.6" stroke="#e8b818" stroke-width="2.4" stroke-linecap="round"/>
<path d="M409.0,74.4 L405.0,85.6" stroke="#e8b818" stroke-width="2.4" stroke-linecap="round"/>
<path d="M412.5,74.4 L408.9,85.6" stroke="#e8b818" stroke-width="2.4" stroke-linecap="round"/>
<path d="M416.0,74.4 L412.8,85.6" stroke="#e8b818" stroke-width="2.4" stroke-linecap="round"/>
<path d="M419.5,74.4 L416.7,85.6" stroke="#e8b818" stroke-width="2.4" stroke-linecap="round"/>
<path d="M423.0,74.4 L420.6,85.6" stroke="#e8b818" stroke-width="2.4" stroke-linecap="round"/>
<path d="M426.5,74.4 L424.6,85.6" stroke="#e8b818" stroke-width="2.4" stroke-linecap="round"/>
<path d="M430.0,74.4 L428.5,85.6" stroke="#e8b818" stroke-width="2.4" stroke-linecap="round"/>
<path d="M433.5,74.4 L432.4,85.6" stroke="#e8b818" stroke-width="2.4" stroke-linecap="round"/>
<path d="M437.0,74.4 L436.3,85.6" stroke="#e8b818" stroke-width="2.4" stroke-linecap="round"/>
<path d="M440.5,74.4 L440.2,85.6" stroke="#e8b818" stroke-width="2.4" stroke-linecap="round"/>
<path d="M444.0,74.4 L444.1,85.6" stroke="#e8b818" stroke-width="2.4" stroke-linecap="round"/>
<path d="M447.5,74.4 L448.0,85.6" stroke="#e8b818" stroke-width="2.4" stroke-linecap="round"/>
<path d="M451.0,74.4 L451.9,85.6" stroke="#e8b818" stroke-width="2.4" stroke-linecap="round"/>
<path d="M454.5,74.4 L455.9,85.6" stroke="#e8b818" stroke-width="2.4" stroke-linecap="round"/>
<path d="M458.0,74.4 L459.8,85.6" stroke="#e8b818" stroke-width="2.4" stroke-linecap="round"/>
<path d="M461.5,74.4 L463.7,85.6" stroke="#e8b818" stroke-width="2.4" stroke-linecap="round"/>
<path d="M465.0,74.4 L467.6,85.6" stroke="#e8b818" stroke-width="2.4" stroke-linecap="round"/>
<path d="M468.5,74.4 L471.5,85.6" stroke="#e8b818" stroke-width="2.4" stroke-linecap="round"/>
<path d="M472.0,74.4 L475.4,85.6" stroke="#e8b818" stroke-width="2.4" stroke-linecap="round"/>
<path d="M475.5,74.4 L479.3,85.6" stroke="#e8b818" stroke-width="2.4" stroke-linecap="round"/>
<path d="M479.0,74.4 L483.2,85.6" stroke="#e8b818" stroke-width="2.4" stroke-linecap="round"/>
<path d="M482.5,74.4 L487.1,85.6" stroke="#e8b818" stroke-width="2.4" stroke-linecap="round"/>
<path d="M486.0,74.4 L491.1,85.6" stroke="#e8b818" stroke-width="2.4" stroke-linecap="round"/>
<path d="M489.5,74.4 L495.0,85.6" stroke="#e8b818" stroke-width="2.4" stroke-linecap="round"/>
<path d="M493.0,74.4 L498.9,85.6" stroke="#e8b818" stroke-width="2.4" stroke-linecap="round"/>
<path d="M496.5,74.4 L502.8,85.6" stroke="#e8b818" stroke-width="2.4" stroke-linecap="round"/>
<path d="M500.0,74.4 L506.7,85.6" stroke="#e8b818" stroke-width="2.4" stroke-linecap="round"/>
<circle cx="380.42" cy="75.30" r="1.3" fill="url(#gy)" stroke="none" stroke-width="0.5"/>
<circle cx="378.08" cy="78.88" r="1.3" fill="url(#gy)" stroke="none" stroke-width="0.5"/>
<circle cx="375.75" cy="82.46" r="1.3" fill="url(#gy)" stroke="none" stroke-width="0.5"/>
<circle cx="373.71" cy="85.60" r="1.3" fill="url(#gy)" stroke="none" stroke-width="0.5"/>
<circle cx="383.95" cy="75.30" r="1.3" fill="url(#gy)" stroke="none" stroke-width="0.5"/>
<circle cx="381.75" cy="78.88" r="1.3" fill="url(#gy)" stroke="none" stroke-width="0.5"/>
<circle cx="379.54" cy="82.46" r="1.3" fill="url(#gy)" stroke="none" stroke-width="0.5"/>
<circle cx="377.62" cy="85.60" r="1.3" fill="url(#gy)" stroke="none" stroke-width="0.5"/>
<circle cx="387.48" cy="75.30" r="1.3" fill="url(#gy)" stroke="none" stroke-width="0.5"/>
<circle cx="385.41" cy="78.88" r="1.3" fill="url(#gy)" stroke="none" stroke-width="0.5"/>
<circle cx="383.34" cy="82.46" r="1.3" fill="url(#gy)" stroke="none" stroke-width="0.5"/>
<circle cx="381.53" cy="85.60" r="1.3" fill="url(#gy)" stroke="none" stroke-width="0.5"/>
<circle cx="391.02" cy="75.30" r="1.3" fill="url(#gy)" stroke="none" stroke-width="0.5"/>
<circle cx="389.08" cy="78.88" r="1.3" fill="url(#gy)" stroke="none" stroke-width="0.5"/>
<circle cx="387.14" cy="82.46" r="1.3" fill="url(#gy)" stroke="none" stroke-width="0.5"/>
<circle cx="385.44" cy="85.60" r="1.3" fill="url(#gy)" stroke="none" stroke-width="0.5"/>
<circle cx="394.55" cy="75.30" r="1.3" fill="url(#gy)" stroke="none" stroke-width="0.5"/>
<circle cx="392.74" cy="78.88" r="1.3" fill="url(#gy)" stroke="none" stroke-width="0.5"/>
<circle cx="390.93" cy="82.46" r="1.3" fill="url(#gy)" stroke="none" stroke-width="0.5"/>
<circle cx="389.35" cy="85.60" r="1.3" fill="url(#gy)" stroke="none" stroke-width="0.5"/>
<circle cx="398.08" cy="75.30" r="1.3" fill="url(#gy)" stroke="none" stroke-width="0.5"/>
<circle cx="396.41" cy="78.88" r="1.3" fill="url(#gy)" stroke="none" stroke-width="0.5"/>
<circle cx="394.73" cy="82.46" r="1.3" fill="url(#gy)" stroke="none" stroke-width="0.5"/>
<circle cx="393.26" cy="85.60" r="1.3" fill="url(#gy)" stroke="none" stroke-width="0.5"/>
<circle cx="401.61" cy="75.30" r="1.3" fill="url(#gy)" stroke="none" stroke-width="0.5"/>
<circle cx="400.07" cy="78.88" r="1.3" fill="url(#gy)" stroke="none" stroke-width="0.5"/>
<circle cx="398.53" cy="82.46" r="1.3" fill="url(#gy)" stroke="none" stroke-width="0.5"/>
<circle cx="397.18" cy="85.60" r="1.3" fill="url(#gy)" stroke="none" stroke-width="0.5"/>
<circle cx="405.15" cy="75.30" r="1.3" fill="url(#gy)" stroke="none" stroke-width="0.5"/>
<circle cx="403.74" cy="78.88" r="1.3" fill="url(#gy)" stroke="none" stroke-width="0.5"/>
<circle cx="402.32" cy="82.46" r="1.3" fill="url(#gy)" stroke="none" stroke-width="0.5"/>
<circle cx="401.09" cy="85.60" r="1.3" fill="url(#gy)" stroke="none" stroke-width="0.5"/>
<circle cx="408.68" cy="75.30" r="1.3" fill="url(#gy)" stroke="none" stroke-width="0.5"/>
<circle cx="407.40" cy="78.88" r="1.3" fill="url(#gy)" stroke="none" stroke-width="0.5"/>
<circle cx="406.12" cy="82.46" r="1.3" fill="url(#gy)" stroke="none" stroke-width="0.5"/>
<circle cx="405.00" cy="85.60" r="1.3" fill="url(#gy)" stroke="none" stroke-width="0.5"/>
<circle cx="412.21" cy="75.30" r="1.3" fill="url(#gy)" stroke="none" stroke-width="0.5"/>
<circle cx="411.06" cy="78.88" r="1.3" fill="url(#gy)" stroke="none" stroke-width="0.5"/>
<circle cx="409.92" cy="82.46" r="1.3" fill="url(#gy)" stroke="none" stroke-width="0.5"/>
<circle cx="408.91" cy="85.60" r="1.3" fill="url(#gy)" stroke="none" stroke-width="0.5"/>
<circle cx="415.75" cy="75.30" r="1.3" fill="url(#gy)" stroke="none" stroke-width="0.5"/>
<circle cx="414.73" cy="78.88" r="1.3" fill="url(#gy)" stroke="none" stroke-width="0.5"/>
<circle cx="413.71" cy="82.46" r="1.3" fill="url(#gy)" stroke="none" stroke-width="0.5"/>
<circle cx="412.82" cy="85.60" r="1.3" fill="url(#gy)" stroke="none" stroke-width="0.5"/>
<circle cx="419.28" cy="75.30" r="1.3" fill="url(#gy)" stroke="none" stroke-width="0.5"/>
<circle cx="418.39" cy="78.88" r="1.3" fill="url(#gy)" stroke="none" stroke-width="0.5"/>
<circle cx="417.51" cy="82.46" r="1.3" fill="url(#gy)" stroke="none" stroke-width="0.5"/>
<circle cx="416.74" cy="85.60" r="1.3" fill="url(#gy)" stroke="none" stroke-width="0.5"/>
<circle cx="422.81" cy="75.30" r="1.3" fill="url(#gy)" stroke="none" stroke-width="0.5"/>
<circle cx="422.06" cy="78.88" r="1.3" fill="url(#gy)" stroke="none" stroke-width="0.5"/>
<circle cx="421.31" cy="82.46" r="1.3" fill="url(#gy)" stroke="none" stroke-width="0.5"/>
<circle cx="420.65" cy="85.60" r="1.3" fill="url(#gy)" stroke="none" stroke-width="0.5"/>
<circle cx="426.34" cy="75.30" r="1.3" fill="url(#gy)" stroke="none" stroke-width="0.5"/>
<circle cx="425.72" cy="78.88" r="1.3" fill="url(#gy)" stroke="none" stroke-width="0.5"/>
<circle cx="425.10" cy="82.46" r="1.3" fill="url(#gy)" stroke="none" stroke-width="0.5"/>
<circle cx="424.56" cy="85.60" r="1.3" fill="url(#gy)" stroke="none" stroke-width="0.5"/>
<circle cx="429.88" cy="75.30" r="1.3" fill="url(#gy)" stroke="none" stroke-width="0.5"/>
<circle cx="429.39" cy="78.88" r="1.3" fill="url(#gy)" stroke="none" stroke-width="0.5"/>
<circle cx="428.90" cy="82.46" r="1.3" fill="url(#gy)" stroke="none" stroke-width="0.5"/>
<circle cx="428.47" cy="85.60" r="1.3" fill="url(#gy)" stroke="none" stroke-width="0.5"/>
<circle cx="433.41" cy="75.30" r="1.3" fill="url(#gy)" stroke="none" stroke-width="0.5"/>
<circle cx="433.05" cy="78.88" r="1.3" fill="url(#gy)" stroke="none" stroke-width="0.5"/>
<circle cx="432.70" cy="82.46" r="1.3" fill="url(#gy)" stroke="none" stroke-width="0.5"/>
<circle cx="432.38" cy="85.60" r="1.3" fill="url(#gy)" stroke="none" stroke-width="0.5"/>
<circle cx="436.94" cy="75.30" r="1.3" fill="url(#gy)" stroke="none" stroke-width="0.5"/>
<circle cx="436.72" cy="78.88" r="1.3" fill="url(#gy)" stroke="none" stroke-width="0.5"/>
<circle cx="436.49" cy="82.46" r="1.3" fill="url(#gy)" stroke="none" stroke-width="0.5"/>
<circle cx="436.29" cy="85.60" r="1.3" fill="url(#gy)" stroke="none" stroke-width="0.5"/>
<circle cx="440.48" cy="75.30" r="1.3" fill="url(#gy)" stroke="none" stroke-width="0.5"/>
<circle cx="440.38" cy="78.88" r="1.3" fill="url(#gy)" stroke="none" stroke-width="0.5"/>
<circle cx="440.29" cy="82.46" r="1.3" fill="url(#gy)" stroke="none" stroke-width="0.5"/>
<circle cx="440.21" cy="85.60" r="1.3" fill="url(#gy)" stroke="none" stroke-width="0.5"/>
<circle cx="444.01" cy="75.30" r="1.3" fill="url(#gy)" stroke="none" stroke-width="0.5"/>
<circle cx="444.05" cy="78.88" r="1.3" fill="url(#gy)" stroke="none" stroke-width="0.5"/>
<circle cx="444.08" cy="82.46" r="1.3" fill="url(#gy)" stroke="none" stroke-width="0.5"/>
<circle cx="444.12" cy="85.60" r="1.3" fill="url(#gy)" stroke="none" stroke-width="0.5"/>
<circle cx="447.54" cy="75.30" r="1.3" fill="url(#gy)" stroke="none" stroke-width="0.5"/>
<circle cx="447.71" cy="78.88" r="1.3" fill="url(#gy)" stroke="none" stroke-width="0.5"/>
<circle cx="447.88" cy="82.46" r="1.3" fill="url(#gy)" stroke="none" stroke-width="0.5"/>
<circle cx="448.03" cy="85.60" r="1.3" fill="url(#gy)" stroke="none" stroke-width="0.5"/>
<circle cx="451.08" cy="75.30" r="1.3" fill="url(#gy)" stroke="none" stroke-width="0.5"/>
<circle cx="451.38" cy="78.88" r="1.3" fill="url(#gy)" stroke="none" stroke-width="0.5"/>
<circle cx="451.68" cy="82.46" r="1.3" fill="url(#gy)" stroke="none" stroke-width="0.5"/>
<circle cx="451.94" cy="85.60" r="1.3" fill="url(#gy)" stroke="none" stroke-width="0.5"/>
<circle cx="454.61" cy="75.30" r="1.3" fill="url(#gy)" stroke="none" stroke-width="0.5"/>
<circle cx="455.04" cy="78.88" r="1.3" fill="url(#gy)" stroke="none" stroke-width="0.5"/>
<circle cx="455.47" cy="82.46" r="1.3" fill="url(#gy)" stroke="none" stroke-width="0.5"/>
<circle cx="455.85" cy="85.60" r="1.3" fill="url(#gy)" stroke="none" stroke-width="0.5"/>
<circle cx="458.14" cy="75.30" r="1.3" fill="url(#gy)" stroke="none" stroke-width="0.5"/>
<circle cx="458.71" cy="78.88" r="1.3" fill="url(#gy)" stroke="none" stroke-width="0.5"/>
<circle cx="459.27" cy="82.46" r="1.3" fill="url(#gy)" stroke="none" stroke-width="0.5"/>
<circle cx="459.76" cy="85.60" r="1.3" fill="url(#gy)" stroke="none" stroke-width="0.5"/>
<circle cx="461.67" cy="75.30" r="1.3" fill="url(#gy)" stroke="none" stroke-width="0.5"/>
<circle cx="462.37" cy="78.88" r="1.3" fill="url(#gy)" stroke="none" stroke-width="0.5"/>
<circle cx="463.07" cy="82.46" r="1.3" fill="url(#gy)" stroke="none" stroke-width="0.5"/>
<circle cx="463.68" cy="85.60" r="1.3" fill="url(#gy)" stroke="none" stroke-width="0.5"/>
<circle cx="465.21" cy="75.30" r="1.3" fill="url(#gy)" stroke="none" stroke-width="0.5"/>
<circle cx="466.04" cy="78.88" r="1.3" fill="url(#gy)" stroke="none" stroke-width="0.5"/>
<circle cx="466.86" cy="82.46" r="1.3" fill="url(#gy)" stroke="none" stroke-width="0.5"/>
<circle cx="467.59" cy="85.60" r="1.3" fill="url(#gy)" stroke="none" stroke-width="0.5"/>
<circle cx="468.74" cy="75.30" r="1.3" fill="url(#gy)" stroke="none" stroke-width="0.5"/>
<circle cx="469.70" cy="78.88" r="1.3" fill="url(#gy)" stroke="none" stroke-width="0.5"/>
<circle cx="470.66" cy="82.46" r="1.3" fill="url(#gy)" stroke="none" stroke-width="0.5"/>
<circle cx="471.50" cy="85.60" r="1.3" fill="url(#gy)" stroke="none" stroke-width="0.5"/>
<circle cx="472.27" cy="75.30" r="1.3" fill="url(#gy)" stroke="none" stroke-width="0.5"/>
<circle cx="473.36" cy="78.88" r="1.3" fill="url(#gy)" stroke="none" stroke-width="0.5"/>
<circle cx="474.46" cy="82.46" r="1.3" fill="url(#gy)" stroke="none" stroke-width="0.5"/>
<circle cx="475.41" cy="85.60" r="1.3" fill="url(#gy)" stroke="none" stroke-width="0.5"/>
<circle cx="475.81" cy="75.30" r="1.3" fill="url(#gy)" stroke="none" stroke-width="0.5"/>
<circle cx="477.03" cy="78.88" r="1.3" fill="url(#gy)" stroke="none" stroke-width="0.5"/>
<circle cx="478.25" cy="82.46" r="1.3" fill="url(#gy)" stroke="none" stroke-width="0.5"/>
<circle cx="479.32" cy="85.60" r="1.3" fill="url(#gy)" stroke="none" stroke-width="0.5"/>
<circle cx="479.34" cy="75.30" r="1.3" fill="url(#gy)" stroke="none" stroke-width="0.5"/>
<circle cx="480.69" cy="78.88" r="1.3" fill="url(#gy)" stroke="none" stroke-width="0.5"/>
<circle cx="482.05" cy="82.46" r="1.3" fill="url(#gy)" stroke="none" stroke-width="0.5"/>
<circle cx="483.24" cy="85.60" r="1.3" fill="url(#gy)" stroke="none" stroke-width="0.5"/>
<circle cx="482.87" cy="75.30" r="1.3" fill="url(#gy)" stroke="none" stroke-width="0.5"/>
<circle cx="484.36" cy="78.88" r="1.3" fill="url(#gy)" stroke="none" stroke-width="0.5"/>
<circle cx="485.85" cy="82.46" r="1.3" fill="url(#gy)" stroke="none" stroke-width="0.5"/>
<circle cx="487.15" cy="85.60" r="1.3" fill="url(#gy)" stroke="none" stroke-width="0.5"/>
<circle cx="486.40" cy="75.30" r="1.3" fill="url(#gy)" stroke="none" stroke-width="0.5"/>
<circle cx="488.02" cy="78.88" r="1.3" fill="url(#gy)" stroke="none" stroke-width="0.5"/>
<circle cx="489.64" cy="82.46" r="1.3" fill="url(#gy)" stroke="none" stroke-width="0.5"/>
<circle cx="491.06" cy="85.60" r="1.3" fill="url(#gy)" stroke="none" stroke-width="0.5"/>
<circle cx="489.94" cy="75.30" r="1.3" fill="url(#gy)" stroke="none" stroke-width="0.5"/>
<circle cx="491.69" cy="78.88" r="1.3" fill="url(#gy)" stroke="none" stroke-width="0.5"/>
<circle cx="493.44" cy="82.46" r="1.3" fill="url(#gy)" stroke="none" stroke-width="0.5"/>
<circle cx="494.97" cy="85.60" r="1.3" fill="url(#gy)" stroke="none" stroke-width="0.5"/>
<circle cx="493.47" cy="75.30" r="1.3" fill="url(#gy)" stroke="none" stroke-width="0.5"/>
<circle cx="495.35" cy="78.88" r="1.3" fill="url(#gy)" stroke="none" stroke-width="0.5"/>
<circle cx="497.24" cy="82.46" r="1.3" fill="url(#gy)" stroke="none" stroke-width="0.5"/>
<circle cx="498.88" cy="85.60" r="1.3" fill="url(#gy)" stroke="none" stroke-width="0.5"/>
<circle cx="497.00" cy="75.30" r="1.3" fill="url(#gy)" stroke="none" stroke-width="0.5"/>
<circle cx="499.02" cy="78.88" r="1.3" fill="url(#gy)" stroke="none" stroke-width="0.5"/>
<circle cx="501.03" cy="82.46" r="1.3" fill="url(#gy)" stroke="none" stroke-width="0.5"/>
<circle cx="502.79" cy="85.60" r="1.3" fill="url(#gy)" stroke="none" stroke-width="0.5"/>
<circle cx="500.54" cy="75.30" r="1.3" fill="url(#gy)" stroke="none" stroke-width="0.5"/>
<circle cx="502.68" cy="78.88" r="1.3" fill="url(#gy)" stroke="none" stroke-width="0.5"/>
<circle cx="504.83" cy="82.46" r="1.3" fill="url(#gy)" stroke="none" stroke-width="0.5"/>
<circle cx="506.71" cy="85.60" r="1.3" fill="url(#gy)" stroke="none" stroke-width="0.5"/>
<path d="M373,86.0 L511,85.8 L512,91.2 L372,91.6 Z" fill="#8a8070"/>
<line x1="373.50" y1="86.00" x2="376.10" y2="91.40" stroke="#111" stroke-width="0.9" />
<line x1="376.10" y1="86.00" x2="373.50" y2="91.40" stroke="#333" stroke-width="0.6" />
<line x1="377.90" y1="86.00" x2="380.50" y2="91.40" stroke="#111" stroke-width="0.9" />
<line x1="380.50" y1="86.00" x2="377.90" y2="91.40" stroke="#333" stroke-width="0.6" />
<line x1="382.30" y1="86.00" x2="384.90" y2="91.40" stroke="#111" stroke-width="0.9" />
<line x1="384.90" y1="86.00" x2="382.30" y2="91.40" stroke="#333" stroke-width="0.6" />
<line x1="386.70" y1="86.00" x2="389.30" y2="91.40" stroke="#111" stroke-width="0.9" />
<line x1="389.30" y1="86.00" x2="386.70" y2="91.40" stroke="#333" stroke-width="0.6" />
<line x1="391.10" y1="86.00" x2="393.70" y2="91.40" stroke="#111" stroke-width="0.9" />
<line x1="393.70" y1="86.00" x2="391.10" y2="91.40" stroke="#333" stroke-width="0.6" />
<line x1="395.50" y1="86.00" x2="398.10" y2="91.40" stroke="#111" stroke-width="0.9" />
<line x1="398.10" y1="86.00" x2="395.50" y2="91.40" stroke="#333" stroke-width="0.6" />
<line x1="399.90" y1="86.00" x2="402.50" y2="91.40" stroke="#111" stroke-width="0.9" />
<line x1="402.50" y1="86.00" x2="399.90" y2="91.40" stroke="#333" stroke-width="0.6" />
<line x1="404.30" y1="86.00" x2="406.90" y2="91.40" stroke="#111" stroke-width="0.9" />
<line x1="406.90" y1="86.00" x2="404.30" y2="91.40" stroke="#333" stroke-width="0.6" />
<line x1="408.70" y1="86.00" x2="411.30" y2="91.40" stroke="#111" stroke-width="0.9" />
<line x1="411.30" y1="86.00" x2="408.70" y2="91.40" stroke="#333" stroke-width="0.6" />
<line x1="413.10" y1="86.00" x2="415.70" y2="91.40" stroke="#111" stroke-width="0.9" />
<line x1="415.70" y1="86.00" x2="413.10" y2="91.40" stroke="#333" stroke-width="0.6" />
<line x1="417.50" y1="86.00" x2="420.10" y2="91.40" stroke="#111" stroke-width="0.9" />
<line x1="420.10" y1="86.00" x2="417.50" y2="91.40" stroke="#333" stroke-width="0.6" />
<line x1="421.90" y1="86.00" x2="424.50" y2="91.40" stroke="#111" stroke-width="0.9" />
<line x1="424.50" y1="86.00" x2="421.90" y2="91.40" stroke="#333" stroke-width="0.6" />
<line x1="426.30" y1="86.00" x2="428.90" y2="91.40" stroke="#111" stroke-width="0.9" />
<line x1="428.90" y1="86.00" x2="426.30" y2="91.40" stroke="#333" stroke-width="0.6" />
<line x1="430.70" y1="86.00" x2="433.30" y2="91.40" stroke="#111" stroke-width="0.9" />
<line x1="433.30" y1="86.00" x2="430.70" y2="91.40" stroke="#333" stroke-width="0.6" />
<line x1="435.10" y1="86.00" x2="437.70" y2="91.40" stroke="#111" stroke-width="0.9" />
<line x1="437.70" y1="86.00" x2="435.10" y2="91.40" stroke="#333" stroke-width="0.6" />
<line x1="439.50" y1="86.00" x2="442.10" y2="91.40" stroke="#111" stroke-width="0.9" />
<line x1="442.10" y1="86.00" x2="439.50" y2="91.40" stroke="#333" stroke-width="0.6" />
<line x1="443.90" y1="86.00" x2="446.50" y2="91.40" stroke="#111" stroke-width="0.9" />
<line x1="446.50" y1="86.00" x2="443.90" y2="91.40" stroke="#333" stroke-width="0.6" />
<line x1="448.30" y1="86.00" x2="450.90" y2="91.40" stroke="#111" stroke-width="0.9" />
<line x1="450.90" y1="86.00" x2="448.30" y2="91.40" stroke="#333" stroke-width="0.6" />
<line x1="452.70" y1="86.00" x2="455.30" y2="91.40" stroke="#111" stroke-width="0.9" />
<line x1="455.30" y1="86.00" x2="452.70" y2="91.40" stroke="#333" stroke-width="0.6" />
<line x1="457.10" y1="86.00" x2="459.70" y2="91.40" stroke="#111" stroke-width="0.9" />
<line x1="459.70" y1="86.00" x2="457.10" y2="91.40" stroke="#333" stroke-width="0.6" />
<line x1="461.50" y1="86.00" x2="464.10" y2="91.40" stroke="#111" stroke-width="0.9" />
<line x1="464.10" y1="86.00" x2="461.50" y2="91.40" stroke="#333" stroke-width="0.6" />
<line x1="465.90" y1="86.00" x2="468.50" y2="91.40" stroke="#111" stroke-width="0.9" />
<line x1="468.50" y1="86.00" x2="465.90" y2="91.40" stroke="#333" stroke-width="0.6" />
<line x1="470.30" y1="86.00" x2="472.90" y2="91.40" stroke="#111" stroke-width="0.9" />
<line x1="472.90" y1="86.00" x2="470.30" y2="91.40" stroke="#333" stroke-width="0.6" />
<line x1="474.70" y1="86.00" x2="477.30" y2="91.40" stroke="#111" stroke-width="0.9" />
<line x1="477.30" y1="86.00" x2="474.70" y2="91.40" stroke="#333" stroke-width="0.6" />
<line x1="479.10" y1="86.00" x2="481.70" y2="91.40" stroke="#111" stroke-width="0.9" />
<line x1="481.70" y1="86.00" x2="479.10" y2="91.40" stroke="#333" stroke-width="0.6" />
<line x1="483.50" y1="86.00" x2="486.10" y2="91.40" stroke="#111" stroke-width="0.9" />
<line x1="486.10" y1="86.00" x2="483.50" y2="91.40" stroke="#333" stroke-width="0.6" />
<line x1="487.90" y1="86.00" x2="490.50" y2="91.40" stroke="#111" stroke-width="0.9" />
<line x1="490.50" y1="86.00" x2="487.90" y2="91.40" stroke="#333" stroke-width="0.6" />
<line x1="492.30" y1="86.00" x2="494.90" y2="91.40" stroke="#111" stroke-width="0.9" />
<line x1="494.90" y1="86.00" x2="492.30" y2="91.40" stroke="#333" stroke-width="0.6" />
<line x1="496.70" y1="86.00" x2="499.30" y2="91.40" stroke="#111" stroke-width="0.9" />
<line x1="499.30" y1="86.00" x2="496.70" y2="91.40" stroke="#333" stroke-width="0.6" />
<line x1="501.10" y1="86.00" x2="503.70" y2="91.40" stroke="#111" stroke-width="0.9" />
<line x1="503.70" y1="86.00" x2="501.10" y2="91.40" stroke="#333" stroke-width="0.6" />
<line x1="505.50" y1="86.00" x2="508.10" y2="91.40" stroke="#111" stroke-width="0.9" />
<line x1="508.10" y1="86.00" x2="505.50" y2="91.40" stroke="#333" stroke-width="0.6" />
<line x1="509.90" y1="86.00" x2="512.50" y2="91.40" stroke="#111" stroke-width="0.9" />
<line x1="512.50" y1="86.00" x2="509.90" y2="91.40" stroke="#333" stroke-width="0.6" />
<circle cx="376.30" cy="88.70" r="1.0" fill="#e0b020" stroke="none" stroke-width="0.5"/>
<circle cx="380.70" cy="88.70" r="1.0" fill="#e0b020" stroke="none" stroke-width="0.5"/>
<circle cx="385.10" cy="88.70" r="1.0" fill="#e0b020" stroke="none" stroke-width="0.5"/>
<circle cx="389.50" cy="88.70" r="1.0" fill="#e0b020" stroke="none" stroke-width="0.5"/>
<circle cx="393.90" cy="88.70" r="1.0" fill="#e0b020" stroke="none" stroke-width="0.5"/>
<circle cx="398.30" cy="88.70" r="1.0" fill="#e0b020" stroke="none" stroke-width="0.5"/>
<circle cx="402.70" cy="88.70" r="1.0" fill="#e0b020" stroke="none" stroke-width="0.5"/>
<circle cx="407.10" cy="88.70" r="1.0" fill="#e0b020" stroke="none" stroke-width="0.5"/>
<circle cx="411.50" cy="88.70" r="1.0" fill="#e0b020" stroke="none" stroke-width="0.5"/>
<circle cx="415.90" cy="88.70" r="1.0" fill="#e0b020" stroke="none" stroke-width="0.5"/>
<circle cx="420.30" cy="88.70" r="1.0" fill="#e0b020" stroke="none" stroke-width="0.5"/>
<circle cx="424.70" cy="88.70" r="1.0" fill="#e0b020" stroke="none" stroke-width="0.5"/>
<circle cx="429.10" cy="88.70" r="1.0" fill="#e0b020" stroke="none" stroke-width="0.5"/>
<circle cx="433.50" cy="88.70" r="1.0" fill="#e0b020" stroke="none" stroke-width="0.5"/>
<circle cx="437.90" cy="88.70" r="1.0" fill="#e0b020" stroke="none" stroke-width="0.5"/>
<circle cx="442.30" cy="88.70" r="1.0" fill="#e0b020" stroke="none" stroke-width="0.5"/>
<circle cx="446.70" cy="88.70" r="1.0" fill="#e0b020" stroke="none" stroke-width="0.5"/>
<circle cx="451.10" cy="88.70" r="1.0" fill="#e0b020" stroke="none" stroke-width="0.5"/>
<circle cx="455.50" cy="88.70" r="1.0" fill="#e0b020" stroke="none" stroke-width="0.5"/>
<circle cx="459.90" cy="88.70" r="1.0" fill="#e0b020" stroke="none" stroke-width="0.5"/>
<circle cx="464.30" cy="88.70" r="1.0" fill="#e0b020" stroke="none" stroke-width="0.5"/>
<circle cx="468.70" cy="88.70" r="1.0" fill="#e0b020" stroke="none" stroke-width="0.5"/>
<circle cx="473.10" cy="88.70" r="1.0" fill="#e0b020" stroke="none" stroke-width="0.5"/>
<circle cx="477.50" cy="88.70" r="1.0" fill="#e0b020" stroke="none" stroke-width="0.5"/>
<circle cx="481.90" cy="88.70" r="1.0" fill="#e0b020" stroke="none" stroke-width="0.5"/>
<circle cx="486.30" cy="88.70" r="1.0" fill="#e0b020" stroke="none" stroke-width="0.5"/>
<circle cx="490.70" cy="88.70" r="1.0" fill="#e0b020" stroke="none" stroke-width="0.5"/>
<circle cx="495.10" cy="88.70" r="1.0" fill="#e0b020" stroke="none" stroke-width="0.5"/>
<circle cx="499.50" cy="88.70" r="1.0" fill="#e0b020" stroke="none" stroke-width="0.5"/>
<circle cx="503.90" cy="88.70" r="1.0" fill="#e0b020" stroke="none" stroke-width="0.5"/>
<circle cx="508.30" cy="88.70" r="1.0" fill="#e0b020" stroke="none" stroke-width="0.5"/>
<circle cx="512.70" cy="88.70" r="1.0" fill="#e0b020" stroke="none" stroke-width="0.5"/>
<circle cx="374.00" cy="93.00" r="1.8" fill="url(#gy)" stroke="none" stroke-width="0.5"/>
<circle cx="379.00" cy="93.00" r="1.8" fill="url(#gy)" stroke="none" stroke-width="0.5"/>
<circle cx="384.00" cy="93.00" r="1.8" fill="url(#gy)" stroke="none" stroke-width="0.5"/>
<circle cx="389.00" cy="93.00" r="1.8" fill="url(#gy)" stroke="none" stroke-width="0.5"/>
<circle cx="394.00" cy="93.00" r="1.8" fill="url(#gy)" stroke="none" stroke-width="0.5"/>
<circle cx="399.00" cy="93.00" r="1.8" fill="url(#gy)" stroke="none" stroke-width="0.5"/>
<circle cx="404.00" cy="93.00" r="1.8" fill="url(#gy)" stroke="none" stroke-width="0.5"/>
<circle cx="409.00" cy="93.00" r="1.8" fill="url(#gy)" stroke="none" stroke-width="0.5"/>
<circle cx="414.00" cy="93.00" r="1.8" fill="url(#gy)" stroke="none" stroke-width="0.5"/>
<circle cx="419.00" cy="93.00" r="1.8" fill="url(#gy)" stroke="none" stroke-width="0.5"/>
<circle cx="424.00" cy="93.00" r="1.8" fill="url(#gy)" stroke="none" stroke-width="0.5"/>
<circle cx="429.00" cy="93.00" r="1.8" fill="url(#gy)" stroke="none" stroke-width="0.5"/>
<circle cx="434.00" cy="93.00" r="1.8" fill="url(#gy)" stroke="none" stroke-width="0.5"/>
<circle cx="439.00" cy="93.00" r="1.8" fill="url(#gy)" stroke="none" stroke-width="0.5"/>
<circle cx="444.00" cy="93.00" r="1.8" fill="url(#gy)" stroke="none" stroke-width="0.5"/>
<circle cx="449.00" cy="93.00" r="1.8" fill="url(#gy)" stroke="none" stroke-width="0.5"/>
<circle cx="454.00" cy="93.00" r="1.8" fill="url(#gy)" stroke="none" stroke-width="0.5"/>
<circle cx="459.00" cy="93.00" r="1.8" fill="url(#gy)" stroke="none" stroke-width="0.5"/>
<circle cx="464.00" cy="93.00" r="1.8" fill="url(#gy)" stroke="none" stroke-width="0.5"/>
<circle cx="469.00" cy="93.00" r="1.8" fill="url(#gy)" stroke="none" stroke-width="0.5"/>
<circle cx="474.00" cy="93.00" r="1.8" fill="url(#gy)" stroke="none" stroke-width="0.5"/>
<circle cx="479.00" cy="93.00" r="1.8" fill="url(#gy)" stroke="none" stroke-width="0.5"/>
<circle cx="484.00" cy="93.00" r="1.8" fill="url(#gy)" stroke="none" stroke-width="0.5"/>
<circle cx="489.00" cy="93.00" r="1.8" fill="url(#gy)" stroke="none" stroke-width="0.5"/>
<circle cx="494.00" cy="93.00" r="1.8" fill="url(#gy)" stroke="none" stroke-width="0.5"/>
<circle cx="499.00" cy="93.00" r="1.8" fill="url(#gy)" stroke="none" stroke-width="0.5"/>
<circle cx="504.00" cy="93.00" r="1.8" fill="url(#gy)" stroke="none" stroke-width="0.5"/>
<circle cx="509.00" cy="93.00" r="1.8" fill="url(#gy)" stroke="none" stroke-width="0.5"/>
<line x1="371.00" y1="83.00" x2="376.00" y2="88.00" stroke="#222" stroke-width="0.8" />
<line x1="371.80" y1="93.20" x2="376.00" y2="88.00" stroke="#222" stroke-width="0.8" />
<line x1="377.00" y1="77.50" x2="371.00" y2="83.00" stroke="#222" stroke-width="0.7" />
<circle cx="371.00" cy="82.80" r="1.7" fill="url(#gy)" stroke="none" stroke-width="0.5"/>
<circle cx="376.80" cy="77.80" r="1.5" fill="url(#gy)" stroke="none" stroke-width="0.5"/>
<path d="M508.6,84.0 L513.2,83.6 L515.3,86.8 L513.4,89.6 L508.8,89.8 L507.2,87.0 Z" fill="#fff" stroke="#111" stroke-width="0.9"/>
<circle cx="510.50" cy="81.50" r="1.5" fill="url(#gy)" stroke="none" stroke-width="0.5"/>
<circle cx="513.50" cy="92.60" r="1.5" fill="url(#gy)" stroke="none" stroke-width="0.5"/>
<line x1="514.10" y1="26.40" x2="530.10" y2="26.40" stroke="#80b8e8" stroke-width="0.8" stroke-dasharray="1.6,1.0"/>
<line x1="514.10" y1="43.60" x2="530.10" y2="43.60" stroke="#80b8e8" stroke-width="0.8" stroke-dasharray="1.6,1.0"/>
<line x1="522.20" y1="26.40" x2="522.20" y2="43.60" stroke="#80b8e8" stroke-width="0.8" stroke-dasharray="1.6,1.0"/>
<line x1="514.90" y1="71.90" x2="530.60" y2="71.90" stroke="#80b8e8" stroke-width="0.8" stroke-dasharray="1.6,1.0"/>
<line x1="515.40" y1="89.50" x2="530.60" y2="89.50" stroke="#80b8e8" stroke-width="0.8" stroke-dasharray="1.6,1.0"/>
<line x1="522.20" y1="71.90" x2="522.20" y2="89.50" stroke="#80b8e8" stroke-width="0.8" stroke-dasharray="1.6,1.0"/>
<line x1="522.20" y1="46.50" x2="522.20" y2="68.50" stroke="#222" stroke-width="0.8" />
<path d="M522.2,44.2 L520.8,47.8 L523.6,47.8 Z" fill="#222"/>
<path d="M522.2,71.0 L520.8,67.4 L523.6,67.4 Z" fill="#222"/>
<text x="523.90" y="38.10" style="font-family:'Liberation Serif',serif;font-size:8.5px;font-weight:normal" text-anchor="start" fill="#111" stroke="#111" stroke-width="0.4" >MoS<tspan dy="1.8" font-size="5.4">2</tspan></text>
<text x="525.60" y="61.00" style="font-family:'Liberation Serif',serif;font-size:8.3px;font-weight:normal" text-anchor="start" fill="#111" stroke="#111" stroke-width="0.4" >BP</text>
<text x="525.40" y="85.20" style="font-family:'Liberation Serif',serif;font-size:8.5px;font-weight:normal" text-anchor="start" fill="#111" stroke="#111" stroke-width="0.4" >MoS<tspan dy="1.8" font-size="5.4">2</tspan></text>
</svg>
</body></html>
